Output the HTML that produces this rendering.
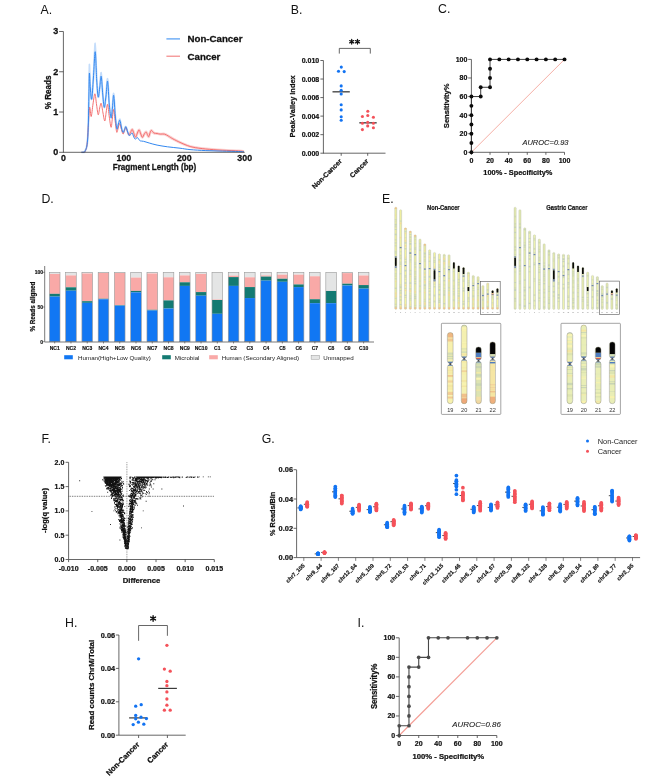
<!DOCTYPE html><html><head><meta charset="utf-8"><style>html,body{margin:0;padding:0;background:#fff;}svg{display:block;will-change:transform;}text{font-family:"Liberation Sans",sans-serif;}</style></head><body>
<svg width="669" height="781" viewBox="0 0 669 781">
<rect width="669" height="781" fill="#fff"/>
<text font-size="12.3" font-weight="normal" text-anchor="start" fill="#111" transform="translate(40.6 14.3) scale(1 1)" >A.</text>
<path d="M128.8,135.1 C129.08,134.67 129.93,133.45 130.5,132.5 C131.07,131.55 131.63,129.23 132.2,129.4 C132.77,129.57 133.33,132.2 133.9,133.5 C134.47,134.8 135.02,137.28 135.6,137.2 C136.18,137.12 136.82,134.22 137.4,133 C137.98,131.78 138.53,129.73 139.1,129.9 C139.67,130.07 140.25,132.75 140.8,134 C141.35,135.25 141.82,137.4 142.4,137.4 C142.98,137.4 143.68,134.9 144.3,134 C144.92,133.1 145.58,131.92 146.1,132 C146.62,132.08 146.97,133.72 147.4,134.5 C147.83,135.28 148.27,136.95 148.7,136.7 C149.13,136.45 149.57,134.05 150,133 C150.43,131.95 150.65,130.4 151.3,130.4 C151.95,130.4 152.93,132.48 153.9,133 C154.87,133.52 156.05,133.32 157.1,133.5 C158.15,133.68 158.98,134 160.2,134.1 C161.42,134.2 163,133.75 164.4,134.1 C165.8,134.45 167.2,135.42 168.6,136.2 C170,136.98 170.9,137.77 172.8,138.8 C174.7,139.83 177.8,141.37 180,142.4 C182.2,143.43 183.83,144.2 186,145 C188.17,145.8 189.7,146.53 193,147.2 C196.3,147.87 200.93,148.5 205.8,149 C210.67,149.5 216.72,149.88 222.2,150.2 C227.68,150.52 235.07,150.68 238.7,150.9 C242.33,151.12 243.12,151.4 244,151.5" fill="none" stroke="#F9C4C4" stroke-width="2.8" stroke-linejoin="round" opacity="0.8"/>
<path d="M81.5,152.3 C81.95,152.28 83.62,152.38 84.2,152.2 C84.78,152.02 84.62,151.98 85,151.2 C85.38,150.42 86.07,149.37 86.5,147.5 C86.93,145.63 87.28,144.25 87.6,140 C87.92,135.75 88.18,129.5 88.4,122 C88.62,114.5 88.73,104.6 88.9,95 C89.07,85.4 89.17,65.57 89.4,64.4 C89.63,63.23 89.92,82.22 90.3,88 C90.68,93.78 91.18,100.77 91.7,99.1 C92.22,97.43 92.82,87.3 93.4,78 C93.98,68.7 94.65,42.97 95.2,43.3 C95.75,43.63 96.2,71.05 96.7,80 C97.2,88.95 97.7,95.67 98.2,97 C98.7,98.33 99.2,92.05 99.7,88 C100.2,83.95 100.68,71.53 101.2,72.7 C101.72,73.87 102.28,89.22 102.8,95 C103.32,100.78 103.77,107.23 104.3,107.4 C104.83,107.57 105.45,100.78 106,96 C106.55,91.22 107.05,77.2 107.6,78.7 C108.15,80.2 108.72,98.47 109.3,105 C109.88,111.53 110.58,117.4 111.1,117.9 C111.62,118.4 111.97,112.08 112.4,108 C112.83,103.92 113.22,92.07 113.7,93.4 C114.18,94.73 114.77,110.08 115.3,116 C115.83,121.92 116.38,127.57 116.9,128.9 C117.42,130.23 117.9,125.63 118.4,124 C118.9,122.37 119.38,118.43 119.9,119.1 C120.42,119.77 120.97,125.78 121.5,128 C122.03,130.22 122.58,132.15 123.1,132.4 C123.62,132.65 124.13,130.45 124.6,129.5 C125.07,128.55 125.38,126.28 125.9,126.7 C126.42,127.12 127.12,130.52 127.7,132 C128.28,133.48 129.12,135 129.4,135.6" fill="none" stroke="#C4DDFB" stroke-width="1.6" stroke-linejoin="round"/>
<path d="M81.5,152.3 C81.95,152.28 83.62,152.38 84.2,152.2 C84.78,152.02 84.62,151.98 85,151.2 C85.38,150.42 86.07,149.37 86.5,147.5 C86.93,145.63 87.28,144.25 87.6,140 C87.92,135.75 88.18,129.5 88.4,122 C88.62,114.5 88.73,103.15 88.9,95 C89.07,86.85 89.17,74.27 89.4,73.1 C89.63,71.93 89.92,83.67 90.3,88 C90.68,92.33 91.18,100.77 91.7,99.1 C92.22,97.43 92.82,85.9 93.4,78 C93.98,70.1 94.65,51.37 95.2,51.7 C95.75,52.03 96.2,72.45 96.7,80 C97.2,87.55 97.7,95.67 98.2,97 C98.7,98.33 99.2,91.45 99.7,88 C100.2,84.55 100.68,75.13 101.2,76.3 C101.72,77.47 102.28,89.82 102.8,95 C103.32,100.18 103.77,107.23 104.3,107.4 C104.83,107.57 105.45,100.35 106,96 C106.55,91.65 107.05,79.8 107.6,81.3 C108.15,82.8 108.72,98.9 109.3,105 C109.88,111.1 110.58,117.4 111.1,117.9 C111.62,118.4 111.97,111.75 112.4,108 C112.83,104.25 113.22,94.07 113.7,95.4 C114.18,96.73 114.77,110.42 115.3,116 C115.83,121.58 116.38,127.57 116.9,128.9 C117.42,130.23 117.9,125.43 118.4,124 C118.9,122.57 119.38,119.63 119.9,120.3 C120.42,120.97 120.97,125.98 121.5,128 C122.03,130.02 122.58,132.15 123.1,132.4 C123.62,132.65 124.13,130.45 124.6,129.5 C125.07,128.55 125.38,126.28 125.9,126.7 C126.42,127.12 127.12,130.52 127.7,132 C128.28,133.48 129.12,135 129.4,135.6" fill="none" stroke="#C4DDFB" stroke-width="2.0" stroke-linejoin="round" opacity="0.8"/>
<path d="M81.5,152.3 C81.95,152.3 83.53,152.6 84.2,152.3 C84.87,152 85.03,151.72 85.5,150.5 C85.97,149.28 86.55,148.75 87,145 C87.45,141.25 87.77,134.27 88.2,128 C88.63,121.73 89.1,109.32 89.6,107.4 C90.1,105.48 90.63,117.07 91.2,116.5 C91.77,115.93 92.38,107.78 93,104 C93.62,100.22 94.3,93.63 94.9,93.8 C95.5,93.97 96.05,101.5 96.6,105 C97.15,108.5 97.68,114.3 98.2,114.8 C98.72,115.3 99.2,109.92 99.7,108 C100.2,106.08 100.65,102.47 101.2,103.3 C101.75,104.13 102.4,110.05 103,113 C103.6,115.95 104.27,121.17 104.8,121 C105.33,120.83 105.73,114.78 106.2,112 C106.67,109.22 107.08,103.47 107.6,104.3 C108.12,105.13 108.72,113.17 109.3,117 C109.88,120.83 110.58,127.13 111.1,127.3 C111.62,127.47 111.97,120.97 112.4,118 C112.83,115.03 113.22,108.83 113.7,109.5 C114.18,110.17 114.78,118.2 115.3,122 C115.82,125.8 116.28,131.47 116.8,132.3 C117.32,133.13 117.88,128.45 118.4,127 C118.92,125.55 119.38,123.18 119.9,123.6 C120.42,124.02 120.97,127.75 121.5,129.5 C122.03,131.25 122.6,133.93 123.1,134.1 C123.6,134.27 124.03,131.63 124.5,130.5 C124.97,129.37 125.42,127.13 125.9,127.3 C126.38,127.47 126.92,130.2 127.4,131.5 C127.88,132.8 128.28,134.93 128.8,135.1 C129.32,135.27 129.93,133.45 130.5,132.5 C131.07,131.55 131.63,129.23 132.2,129.4 C132.77,129.57 133.33,132.2 133.9,133.5 C134.47,134.8 135.02,137.28 135.6,137.2 C136.18,137.12 136.82,134.22 137.4,133 C137.98,131.78 138.53,129.73 139.1,129.9 C139.67,130.07 140.25,132.75 140.8,134 C141.35,135.25 141.82,137.4 142.4,137.4 C142.98,137.4 143.68,134.9 144.3,134 C144.92,133.1 145.58,131.92 146.1,132 C146.62,132.08 146.97,133.72 147.4,134.5 C147.83,135.28 148.27,136.95 148.7,136.7 C149.13,136.45 149.57,134.05 150,133 C150.43,131.95 150.65,130.4 151.3,130.4 C151.95,130.4 152.93,132.48 153.9,133 C154.87,133.52 156.05,133.32 157.1,133.5 C158.15,133.68 158.98,134 160.2,134.1 C161.42,134.2 163,133.75 164.4,134.1 C165.8,134.45 167.2,135.42 168.6,136.2 C170,136.98 170.9,137.77 172.8,138.8 C174.7,139.83 177.8,141.37 180,142.4 C182.2,143.43 183.83,144.2 186,145 C188.17,145.8 189.7,146.53 193,147.2 C196.3,147.87 200.93,148.5 205.8,149 C210.67,149.5 216.72,149.88 222.2,150.2 C227.68,150.52 235.07,150.68 238.7,150.9 C242.33,151.12 243.12,151.4 244,151.5" fill="none" stroke="#F26A6A" stroke-width="0.95" stroke-linejoin="round"/>
<path d="M81.5,152.3 C81.95,152.28 83.62,152.38 84.2,152.2 C84.78,152.02 84.62,151.98 85,151.2 C85.38,150.42 86.07,149.37 86.5,147.5 C86.93,145.63 87.28,144.25 87.6,140 C87.92,135.75 88.18,129.5 88.4,122 C88.62,114.5 88.73,103.15 88.9,95 C89.07,86.85 89.17,74.27 89.4,73.1 C89.63,71.93 89.92,83.67 90.3,88 C90.68,92.33 91.18,100.77 91.7,99.1 C92.22,97.43 92.82,85.9 93.4,78 C93.98,70.1 94.65,51.37 95.2,51.7 C95.75,52.03 96.2,72.45 96.7,80 C97.2,87.55 97.7,95.67 98.2,97 C98.7,98.33 99.2,91.45 99.7,88 C100.2,84.55 100.68,75.13 101.2,76.3 C101.72,77.47 102.28,89.82 102.8,95 C103.32,100.18 103.77,107.23 104.3,107.4 C104.83,107.57 105.45,100.35 106,96 C106.55,91.65 107.05,79.8 107.6,81.3 C108.15,82.8 108.72,98.9 109.3,105 C109.88,111.1 110.58,117.4 111.1,117.9 C111.62,118.4 111.97,111.75 112.4,108 C112.83,104.25 113.22,94.07 113.7,95.4 C114.18,96.73 114.77,110.42 115.3,116 C115.83,121.58 116.38,127.57 116.9,128.9 C117.42,130.23 117.9,125.43 118.4,124 C118.9,122.57 119.38,119.63 119.9,120.3 C120.42,120.97 120.97,125.98 121.5,128 C122.03,130.02 122.58,132.15 123.1,132.4 C123.62,132.65 124.13,130.45 124.6,129.5 C125.07,128.55 125.38,126.28 125.9,126.7 C126.42,127.12 127.12,130.52 127.7,132 C128.28,133.48 128.88,135.23 129.4,135.6 C129.92,135.97 130.33,134.63 130.8,134.2 C131.27,133.77 131.72,132.57 132.2,133 C132.68,133.43 133.22,135.77 133.7,136.8 C134.18,137.83 134.65,138.97 135.1,139.2 C135.55,139.43 135.97,138.45 136.4,138.2 C136.83,137.95 137.27,137.47 137.7,137.7 C138.13,137.93 138.57,139.07 139,139.6 C139.43,140.13 139.55,140.62 140.3,140.9 C141.05,141.18 142.02,140.95 143.5,141.3 C144.98,141.65 146.93,142.37 149.2,143 C151.47,143.63 154.05,144.47 157.1,145.1 C160.15,145.73 163.68,146.28 167.5,146.8 C171.32,147.32 176.25,147.73 180,148.2 C183.75,148.67 185.7,149.2 190,149.6 C194.3,150 200.43,150.35 205.8,150.6 C211.17,150.85 216.72,150.95 222.2,151.1 C227.68,151.25 235.07,151.38 238.7,151.5 C242.33,151.62 243.12,151.75 244,151.8" fill="none" stroke="#3388F0" stroke-width="1.0" stroke-linejoin="round"/>
<line x1="63.4" y1="31.5" x2="63.4" y2="152.3" stroke="#404040" stroke-width="0.8" />
<line x1="63" y1="152.3" x2="244.7" y2="152.3" stroke="#404040" stroke-width="0.8" />
<line x1="59.1" y1="152.3" x2="63.4" y2="152.3" stroke="#404040" stroke-width="0.8" />
<text font-size="9" font-weight="bold" text-anchor="end" fill="#111" transform="translate(58.2 155.2) scale(1 1.05)"  stroke="#111" stroke-width="0.27">0</text>
<line x1="59.1" y1="112.03" x2="63.4" y2="112.03" stroke="#404040" stroke-width="0.8" />
<text font-size="9" font-weight="bold" text-anchor="end" fill="#111" transform="translate(58.2 114.93) scale(1 1.05)"  stroke="#111" stroke-width="0.27">1</text>
<line x1="59.1" y1="71.76" x2="63.4" y2="71.76" stroke="#404040" stroke-width="0.8" />
<text font-size="9" font-weight="bold" text-anchor="end" fill="#111" transform="translate(58.2 74.66) scale(1 1.05)"  stroke="#111" stroke-width="0.27">2</text>
<line x1="59.1" y1="31.49" x2="63.4" y2="31.49" stroke="#404040" stroke-width="0.8" />
<text font-size="9" font-weight="bold" text-anchor="end" fill="#111" transform="translate(58.2 34.39) scale(1 1.05)"  stroke="#111" stroke-width="0.27">3</text>
<text font-size="8.8" font-weight="bold" text-anchor="middle" fill="#111" transform="translate(63.5 161.2) scale(1 1)"  stroke="#111" stroke-width="0.26">0</text>
<text font-size="8.8" font-weight="bold" text-anchor="middle" fill="#111" transform="translate(123.9 161.2) scale(1 1)"  stroke="#111" stroke-width="0.26">100</text>
<text font-size="8.8" font-weight="bold" text-anchor="middle" fill="#111" transform="translate(184.3 161.2) scale(1 1)"  stroke="#111" stroke-width="0.26">200</text>
<text font-size="8.8" font-weight="bold" text-anchor="middle" fill="#111" transform="translate(244.7 161.2) scale(1 1)"  stroke="#111" stroke-width="0.26">300</text>
<text font-size="8.1" font-weight="bold" text-anchor="middle" fill="#111" transform="translate(154.5 169.7) scale(1 1.12)"  stroke="#111" stroke-width="0.24">Fragment Length (bp)</text>
<text font-size="8.1" font-weight="bold" text-anchor="middle" fill="#111" transform="translate(50.9 92.4) rotate(-90) scale(1 1.18)"  stroke="#111" stroke-width="0.24">% Reads</text>
<line x1="166.4" y1="38.9" x2="180" y2="38.9" stroke="#5BA2F5" stroke-width="1.3" />
<line x1="166.4" y1="56.2" x2="180" y2="56.2" stroke="#F27C7C" stroke-width="1.1" />
<text font-size="9.7" font-weight="bold" text-anchor="start" fill="#111" transform="translate(187.5 42.2) scale(1 1)"  stroke="#111" stroke-width="0.29">Non-Cancer</text>
<text font-size="9.7" font-weight="bold" text-anchor="start" fill="#111" transform="translate(187.5 60) scale(1 1)"  stroke="#111" stroke-width="0.29">Cancer</text>
<text font-size="12.3" font-weight="normal" text-anchor="start" fill="#111" transform="translate(290.8 13.5) scale(1 1)" >B.</text>
<line x1="323.4" y1="60.5" x2="323.4" y2="153.2" stroke="#404040" stroke-width="0.8" />
<line x1="323" y1="153.2" x2="385.5" y2="153.2" stroke="#404040" stroke-width="0.8" />
<line x1="320.4" y1="153.2" x2="323.4" y2="153.2" stroke="#404040" stroke-width="0.8" />
<text font-size="7" font-weight="bold" text-anchor="end" fill="#111" transform="translate(319.2 155.7) scale(1 1)"  stroke="#111" stroke-width="0.21">0.000</text>
<line x1="320.4" y1="134.66" x2="323.4" y2="134.66" stroke="#404040" stroke-width="0.8" />
<text font-size="7" font-weight="bold" text-anchor="end" fill="#111" transform="translate(319.2 137.16) scale(1 1)"  stroke="#111" stroke-width="0.21">0.002</text>
<line x1="320.4" y1="116.12" x2="323.4" y2="116.12" stroke="#404040" stroke-width="0.8" />
<text font-size="7" font-weight="bold" text-anchor="end" fill="#111" transform="translate(319.2 118.62) scale(1 1)"  stroke="#111" stroke-width="0.21">0.004</text>
<line x1="320.4" y1="97.58" x2="323.4" y2="97.58" stroke="#404040" stroke-width="0.8" />
<text font-size="7" font-weight="bold" text-anchor="end" fill="#111" transform="translate(319.2 100.08) scale(1 1)"  stroke="#111" stroke-width="0.21">0.006</text>
<line x1="320.4" y1="79.04" x2="323.4" y2="79.04" stroke="#404040" stroke-width="0.8" />
<text font-size="7" font-weight="bold" text-anchor="end" fill="#111" transform="translate(319.2 81.54) scale(1 1)"  stroke="#111" stroke-width="0.21">0.008</text>
<line x1="320.4" y1="60.5" x2="323.4" y2="60.5" stroke="#404040" stroke-width="0.8" />
<text font-size="7" font-weight="bold" text-anchor="end" fill="#111" transform="translate(319.2 63) scale(1 1)"  stroke="#111" stroke-width="0.21">0.010</text>
<line x1="341.2" y1="153.2" x2="341.2" y2="155.8" stroke="#404040" stroke-width="0.8" />
<line x1="367.7" y1="153.2" x2="367.7" y2="155.8" stroke="#404040" stroke-width="0.8" />
<path d="M339.3,53.6 V48.4 H370.3 V53.6" fill="none" stroke="#404040" stroke-width="0.8"/>
<path d="M351.7,39.4 L351.7,44 M349.71,40.55 L353.69,42.85 M349.71,42.85 L353.69,40.55 " stroke="#111" stroke-width="1.25" stroke-linecap="round"/>
<path d="M357.5,39.4 L357.5,44 M355.51,40.55 L359.49,42.85 M355.51,42.85 L359.49,40.55 " stroke="#111" stroke-width="1.25" stroke-linecap="round"/>
<line x1="332.5" y1="91.8" x2="349.8" y2="91.8" stroke="#505050" stroke-width="1.45" />
<line x1="359.3" y1="122.8" x2="376.7" y2="122.8" stroke="#505050" stroke-width="1.45" />
<circle cx="341.3" cy="67.1" r="1.55" fill="#1273F2"/>
<circle cx="338.5" cy="71.2" r="1.55" fill="#1273F2"/>
<circle cx="344.2" cy="71.6" r="1.55" fill="#1273F2"/>
<circle cx="341.2" cy="85.9" r="1.55" fill="#1273F2"/>
<circle cx="341.2" cy="90.2" r="1.55" fill="#1273F2"/>
<circle cx="341.2" cy="94" r="1.55" fill="#1273F2"/>
<circle cx="341.2" cy="104.7" r="1.55" fill="#1273F2"/>
<circle cx="341.2" cy="109.9" r="1.55" fill="#1273F2"/>
<circle cx="341.2" cy="116.8" r="1.55" fill="#1273F2"/>
<circle cx="341.2" cy="120.3" r="1.55" fill="#1273F2"/>
<circle cx="367.8" cy="111.2" r="1.55" fill="#F4525A"/>
<circle cx="362.4" cy="116.5" r="1.55" fill="#F4525A"/>
<circle cx="367.8" cy="115.5" r="1.55" fill="#F4525A"/>
<circle cx="373.4" cy="117.3" r="1.55" fill="#F4525A"/>
<circle cx="362.4" cy="123.3" r="1.55" fill="#F4525A"/>
<circle cx="367.7" cy="122.2" r="1.55" fill="#F4525A"/>
<circle cx="373.4" cy="123.3" r="1.55" fill="#F4525A"/>
<circle cx="367.7" cy="125.9" r="1.55" fill="#F4525A"/>
<circle cx="373.4" cy="127.7" r="1.55" fill="#F4525A"/>
<circle cx="362.4" cy="129.6" r="1.55" fill="#F4525A"/>
<text font-size="6.9" font-weight="bold" text-anchor="end" fill="#111" transform="translate(342.4 161.6) rotate(-45) scale(1 1)"  stroke="#111" stroke-width="0.21">Non-Cancer</text>
<text font-size="6.9" font-weight="bold" text-anchor="end" fill="#111" transform="translate(369 161.6) rotate(-45) scale(1 1)"  stroke="#111" stroke-width="0.21">Cancer</text>
<text font-size="7.4" font-weight="bold" text-anchor="middle" fill="#111" transform="translate(295.3 106.4) rotate(-90) scale(1 1)"  stroke="#111" stroke-width="0.22">Peak-Valley Index</text>
<text font-size="12.3" font-weight="normal" text-anchor="start" fill="#111" transform="translate(438 12.6) scale(1 1)" >C.</text>
<line x1="471.4" y1="59.4" x2="471.4" y2="152.3" stroke="#404040" stroke-width="0.8" />
<line x1="471.4" y1="152.3" x2="564.5" y2="152.3" stroke="#404040" stroke-width="0.8" />
<line x1="468.2" y1="152.3" x2="471.4" y2="152.3" stroke="#404040" stroke-width="0.8" />
<text font-size="7" font-weight="bold" text-anchor="end" fill="#111" transform="translate(467.4 154.8) scale(1 1)"  stroke="#111" stroke-width="0.21">0</text>
<line x1="471.4" y1="152.3" x2="471.4" y2="154.8" stroke="#404040" stroke-width="0.8" />
<text font-size="7" font-weight="bold" text-anchor="middle" fill="#111" transform="translate(471.4 162.6) scale(1 1)"  stroke="#111" stroke-width="0.21">0</text>
<line x1="468.2" y1="133.72" x2="471.4" y2="133.72" stroke="#404040" stroke-width="0.8" />
<text font-size="7" font-weight="bold" text-anchor="end" fill="#111" transform="translate(467.4 136.22) scale(1 1)"  stroke="#111" stroke-width="0.21">20</text>
<line x1="490.02" y1="152.3" x2="490.02" y2="154.8" stroke="#404040" stroke-width="0.8" />
<text font-size="7" font-weight="bold" text-anchor="middle" fill="#111" transform="translate(490.02 162.6) scale(1 1)"  stroke="#111" stroke-width="0.21">20</text>
<line x1="468.2" y1="115.14" x2="471.4" y2="115.14" stroke="#404040" stroke-width="0.8" />
<text font-size="7" font-weight="bold" text-anchor="end" fill="#111" transform="translate(467.4 117.64) scale(1 1)"  stroke="#111" stroke-width="0.21">40</text>
<line x1="508.64" y1="152.3" x2="508.64" y2="154.8" stroke="#404040" stroke-width="0.8" />
<text font-size="7" font-weight="bold" text-anchor="middle" fill="#111" transform="translate(508.64 162.6) scale(1 1)"  stroke="#111" stroke-width="0.21">40</text>
<line x1="468.2" y1="96.56" x2="471.4" y2="96.56" stroke="#404040" stroke-width="0.8" />
<text font-size="7" font-weight="bold" text-anchor="end" fill="#111" transform="translate(467.4 99.06) scale(1 1)"  stroke="#111" stroke-width="0.21">60</text>
<line x1="527.26" y1="152.3" x2="527.26" y2="154.8" stroke="#404040" stroke-width="0.8" />
<text font-size="7" font-weight="bold" text-anchor="middle" fill="#111" transform="translate(527.26 162.6) scale(1 1)"  stroke="#111" stroke-width="0.21">60</text>
<line x1="468.2" y1="77.98" x2="471.4" y2="77.98" stroke="#404040" stroke-width="0.8" />
<text font-size="7" font-weight="bold" text-anchor="end" fill="#111" transform="translate(467.4 80.48) scale(1 1)"  stroke="#111" stroke-width="0.21">80</text>
<line x1="545.88" y1="152.3" x2="545.88" y2="154.8" stroke="#404040" stroke-width="0.8" />
<text font-size="7" font-weight="bold" text-anchor="middle" fill="#111" transform="translate(545.88 162.6) scale(1 1)"  stroke="#111" stroke-width="0.21">80</text>
<line x1="468.2" y1="59.4" x2="471.4" y2="59.4" stroke="#404040" stroke-width="0.8" />
<text font-size="7" font-weight="bold" text-anchor="end" fill="#111" transform="translate(467.4 61.9) scale(1 1)"  stroke="#111" stroke-width="0.21">100</text>
<line x1="564.5" y1="152.3" x2="564.5" y2="154.8" stroke="#404040" stroke-width="0.8" />
<text font-size="7" font-weight="bold" text-anchor="middle" fill="#111" transform="translate(564.5 162.6) scale(1 1)"  stroke="#111" stroke-width="0.21">100</text>
<line x1="471.4" y1="152.3" x2="564.5" y2="59.4" stroke="#F3A096" stroke-width="0.85" />
<polyline points="471.4,152.3 471.4,96.56 480.71,96.56 480.71,87.27 490.02,87.27 490.02,59.4 564.5,59.4" fill="none" stroke="#333" stroke-width="0.95"/>
<circle cx="471.4" cy="152.3" r="1.95" fill="#0a0a0a"/>
<circle cx="471.4" cy="143.01" r="1.95" fill="#0a0a0a"/>
<circle cx="471.4" cy="133.72" r="1.95" fill="#0a0a0a"/>
<circle cx="471.4" cy="124.43" r="1.95" fill="#0a0a0a"/>
<circle cx="471.4" cy="115.14" r="1.95" fill="#0a0a0a"/>
<circle cx="471.4" cy="105.85" r="1.95" fill="#0a0a0a"/>
<circle cx="471.4" cy="96.56" r="1.95" fill="#0a0a0a"/>
<circle cx="480.71" cy="96.56" r="1.95" fill="#0a0a0a"/>
<circle cx="480.71" cy="87.27" r="1.95" fill="#0a0a0a"/>
<circle cx="490.02" cy="87.27" r="1.95" fill="#0a0a0a"/>
<circle cx="490.02" cy="77.98" r="1.95" fill="#0a0a0a"/>
<circle cx="490.02" cy="68.69" r="1.95" fill="#0a0a0a"/>
<circle cx="490.02" cy="59.4" r="1.95" fill="#0a0a0a"/>
<circle cx="499.33" cy="59.4" r="1.95" fill="#0a0a0a"/>
<circle cx="508.64" cy="59.4" r="1.95" fill="#0a0a0a"/>
<circle cx="517.95" cy="59.4" r="1.95" fill="#0a0a0a"/>
<circle cx="527.26" cy="59.4" r="1.95" fill="#0a0a0a"/>
<circle cx="536.57" cy="59.4" r="1.95" fill="#0a0a0a"/>
<circle cx="545.88" cy="59.4" r="1.95" fill="#0a0a0a"/>
<circle cx="555.19" cy="59.4" r="1.95" fill="#0a0a0a"/>
<circle cx="564.5" cy="59.4" r="1.95" fill="#0a0a0a"/>
<text font-size="7.4" font-weight="bold" text-anchor="middle" fill="#111" transform="translate(517.8 174.8) scale(1 1)"  stroke="#111" stroke-width="0.22">100% - Specificity%</text>
<text font-size="7.6" font-weight="bold" text-anchor="middle" fill="#111" transform="translate(449.2 105.8) rotate(-90) scale(1 1)"  stroke="#111" stroke-width="0.23">Sensitivity%</text>
<text font-size="7.5" font-weight="normal" text-anchor="end" fill="#222" font-style="italic" transform="translate(568.5 144.7) scale(1 1)" stroke="#222" stroke-width="0.12">AUROC=0.93</text>
<text font-size="12.3" font-weight="normal" text-anchor="start" fill="#111" transform="translate(41.4 202.9) scale(1 1)" >D.</text>
<rect x="49.4" y="272.3" width="10.6" height="1.67" fill="#E4E5E5" stroke="none" stroke-width="0" />
<rect x="49.4" y="273.97" width="10.6" height="19.85" fill="#F9A9A7" stroke="none" stroke-width="0" />
<rect x="49.4" y="293.81" width="10.6" height="2.78" fill="#137A72" stroke="none" stroke-width="0" />
<rect x="49.4" y="296.59" width="10.6" height="45.11" fill="#1177F3" stroke="none" stroke-width="0" />
<rect x="49.4" y="272.3" width="10.6" height="69.4" fill="none" stroke="#9A9A9A" stroke-width="0.6" />
<line x1="54.7" y1="341.7" x2="54.7" y2="343.5" stroke="#404040" stroke-width="0.6" />
<text font-size="5" font-weight="bold" text-anchor="middle" fill="#111" transform="translate(54.7 350.2) scale(1 1)"  stroke="#111" stroke-width="0.15">NC1</text>
<rect x="65.66" y="272.3" width="10.6" height="3.12" fill="#E4E5E5" stroke="none" stroke-width="0" />
<rect x="65.66" y="275.42" width="10.6" height="11.87" fill="#F9A9A7" stroke="none" stroke-width="0" />
<rect x="65.66" y="287.29" width="10.6" height="3.4" fill="#137A72" stroke="none" stroke-width="0" />
<rect x="65.66" y="290.69" width="10.6" height="51.01" fill="#1177F3" stroke="none" stroke-width="0" />
<rect x="65.66" y="272.3" width="10.6" height="69.4" fill="none" stroke="#9A9A9A" stroke-width="0.6" />
<line x1="70.96" y1="341.7" x2="70.96" y2="343.5" stroke="#404040" stroke-width="0.6" />
<text font-size="5" font-weight="bold" text-anchor="middle" fill="#111" transform="translate(70.96 350.2) scale(1 1)"  stroke="#111" stroke-width="0.15">NC2</text>
<rect x="81.92" y="272.3" width="10.6" height="1.18" fill="#E4E5E5" stroke="none" stroke-width="0" />
<rect x="81.92" y="273.48" width="10.6" height="27.69" fill="#F9A9A7" stroke="none" stroke-width="0" />
<rect x="81.92" y="301.17" width="10.6" height="1.67" fill="#137A72" stroke="none" stroke-width="0" />
<rect x="81.92" y="302.84" width="10.6" height="38.86" fill="#1177F3" stroke="none" stroke-width="0" />
<rect x="81.92" y="272.3" width="10.6" height="69.4" fill="none" stroke="#9A9A9A" stroke-width="0.6" />
<line x1="87.22" y1="341.7" x2="87.22" y2="343.5" stroke="#404040" stroke-width="0.6" />
<text font-size="5" font-weight="bold" text-anchor="middle" fill="#111" transform="translate(87.22 350.2) scale(1 1)"  stroke="#111" stroke-width="0.15">NC3</text>
<rect x="98.18" y="272.3" width="10.6" height="0.69" fill="#E4E5E5" stroke="none" stroke-width="0" />
<rect x="98.18" y="272.99" width="10.6" height="25.75" fill="#F9A9A7" stroke="none" stroke-width="0" />
<rect x="98.18" y="298.74" width="10.6" height="0.49" fill="#137A72" stroke="none" stroke-width="0" />
<rect x="98.18" y="299.23" width="10.6" height="42.47" fill="#1177F3" stroke="none" stroke-width="0" />
<rect x="98.18" y="272.3" width="10.6" height="69.4" fill="none" stroke="#9A9A9A" stroke-width="0.6" />
<line x1="103.48" y1="341.7" x2="103.48" y2="343.5" stroke="#404040" stroke-width="0.6" />
<text font-size="5" font-weight="bold" text-anchor="middle" fill="#111" transform="translate(103.48 350.2) scale(1 1)"  stroke="#111" stroke-width="0.15">NC4</text>
<rect x="114.44" y="272.3" width="10.6" height="0.69" fill="#E4E5E5" stroke="none" stroke-width="0" />
<rect x="114.44" y="272.99" width="10.6" height="32.2" fill="#F9A9A7" stroke="none" stroke-width="0" />
<rect x="114.44" y="305.2" width="10.6" height="0.49" fill="#137A72" stroke="none" stroke-width="0" />
<rect x="114.44" y="305.68" width="10.6" height="36.02" fill="#1177F3" stroke="none" stroke-width="0" />
<rect x="114.44" y="272.3" width="10.6" height="69.4" fill="none" stroke="#9A9A9A" stroke-width="0.6" />
<line x1="119.74" y1="341.7" x2="119.74" y2="343.5" stroke="#404040" stroke-width="0.6" />
<text font-size="5" font-weight="bold" text-anchor="middle" fill="#111" transform="translate(119.74 350.2) scale(1 1)"  stroke="#111" stroke-width="0.15">NC5</text>
<rect x="130.7" y="272.3" width="10.6" height="5.27" fill="#E4E5E5" stroke="none" stroke-width="0" />
<rect x="130.7" y="277.57" width="10.6" height="13.32" fill="#F9A9A7" stroke="none" stroke-width="0" />
<rect x="130.7" y="290.9" width="10.6" height="1.46" fill="#137A72" stroke="none" stroke-width="0" />
<rect x="130.7" y="292.36" width="10.6" height="49.34" fill="#1177F3" stroke="none" stroke-width="0" />
<rect x="130.7" y="272.3" width="10.6" height="69.4" fill="none" stroke="#9A9A9A" stroke-width="0.6" />
<line x1="136" y1="341.7" x2="136" y2="343.5" stroke="#404040" stroke-width="0.6" />
<text font-size="5" font-weight="bold" text-anchor="middle" fill="#111" transform="translate(136 350.2) scale(1 1)"  stroke="#111" stroke-width="0.15">NC6</text>
<rect x="146.96" y="272.3" width="10.6" height="1.18" fill="#E4E5E5" stroke="none" stroke-width="0" />
<rect x="146.96" y="273.48" width="10.6" height="36.3" fill="#F9A9A7" stroke="none" stroke-width="0" />
<rect x="146.96" y="309.78" width="10.6" height="0.69" fill="#137A72" stroke="none" stroke-width="0" />
<rect x="146.96" y="310.47" width="10.6" height="31.23" fill="#1177F3" stroke="none" stroke-width="0" />
<rect x="146.96" y="272.3" width="10.6" height="69.4" fill="none" stroke="#9A9A9A" stroke-width="0.6" />
<line x1="152.26" y1="341.7" x2="152.26" y2="343.5" stroke="#404040" stroke-width="0.6" />
<text font-size="5" font-weight="bold" text-anchor="middle" fill="#111" transform="translate(152.26 350.2) scale(1 1)"  stroke="#111" stroke-width="0.15">NC7</text>
<rect x="163.22" y="272.3" width="10.6" height="5" fill="#E4E5E5" stroke="none" stroke-width="0" />
<rect x="163.22" y="277.3" width="10.6" height="23.11" fill="#F9A9A7" stroke="none" stroke-width="0" />
<rect x="163.22" y="300.41" width="10.6" height="8.12" fill="#137A72" stroke="none" stroke-width="0" />
<rect x="163.22" y="308.53" width="10.6" height="33.17" fill="#1177F3" stroke="none" stroke-width="0" />
<rect x="163.22" y="272.3" width="10.6" height="69.4" fill="none" stroke="#9A9A9A" stroke-width="0.6" />
<line x1="168.52" y1="341.7" x2="168.52" y2="343.5" stroke="#404040" stroke-width="0.6" />
<text font-size="5" font-weight="bold" text-anchor="middle" fill="#111" transform="translate(168.52 350.2) scale(1 1)"  stroke="#111" stroke-width="0.15">NC8</text>
<rect x="179.48" y="272.3" width="10.6" height="3.12" fill="#E4E5E5" stroke="none" stroke-width="0" />
<rect x="179.48" y="275.42" width="10.6" height="6.87" fill="#F9A9A7" stroke="none" stroke-width="0" />
<rect x="179.48" y="282.29" width="10.6" height="3.61" fill="#137A72" stroke="none" stroke-width="0" />
<rect x="179.48" y="285.9" width="10.6" height="55.8" fill="#1177F3" stroke="none" stroke-width="0" />
<rect x="179.48" y="272.3" width="10.6" height="69.4" fill="none" stroke="#9A9A9A" stroke-width="0.6" />
<line x1="184.78" y1="341.7" x2="184.78" y2="343.5" stroke="#404040" stroke-width="0.6" />
<text font-size="5" font-weight="bold" text-anchor="middle" fill="#111" transform="translate(184.78 350.2) scale(1 1)"  stroke="#111" stroke-width="0.15">NC9</text>
<rect x="195.74" y="272.3" width="10.6" height="1.67" fill="#E4E5E5" stroke="none" stroke-width="0" />
<rect x="195.74" y="273.97" width="10.6" height="18.11" fill="#F9A9A7" stroke="none" stroke-width="0" />
<rect x="195.74" y="292.08" width="10.6" height="3.61" fill="#137A72" stroke="none" stroke-width="0" />
<rect x="195.74" y="295.69" width="10.6" height="46.01" fill="#1177F3" stroke="none" stroke-width="0" />
<rect x="195.74" y="272.3" width="10.6" height="69.4" fill="none" stroke="#9A9A9A" stroke-width="0.6" />
<line x1="201.04" y1="341.7" x2="201.04" y2="343.5" stroke="#404040" stroke-width="0.6" />
<text font-size="5" font-weight="bold" text-anchor="middle" fill="#111" transform="translate(201.04 350.2) scale(1 1)"  stroke="#111" stroke-width="0.15">NC10</text>
<rect x="212" y="272.3" width="10.6" height="27.2" fill="#E4E5E5" stroke="none" stroke-width="0" />
<rect x="212" y="299.5" width="10.6" height="0.49" fill="#F9A9A7" stroke="none" stroke-width="0" />
<rect x="212" y="299.99" width="10.6" height="13.81" fill="#137A72" stroke="none" stroke-width="0" />
<rect x="212" y="313.8" width="10.6" height="27.9" fill="#1177F3" stroke="none" stroke-width="0" />
<rect x="212" y="272.3" width="10.6" height="69.4" fill="none" stroke="#9A9A9A" stroke-width="0.6" />
<line x1="217.3" y1="341.7" x2="217.3" y2="343.5" stroke="#404040" stroke-width="0.6" />
<text font-size="5" font-weight="bold" text-anchor="middle" fill="#111" transform="translate(217.3 350.2) scale(1 1)"  stroke="#111" stroke-width="0.15">C1</text>
<rect x="228.26" y="272.3" width="10.6" height="3.33" fill="#E4E5E5" stroke="none" stroke-width="0" />
<rect x="228.26" y="275.63" width="10.6" height="1.46" fill="#F9A9A7" stroke="none" stroke-width="0" />
<rect x="228.26" y="277.09" width="10.6" height="8.81" fill="#137A72" stroke="none" stroke-width="0" />
<rect x="228.26" y="285.9" width="10.6" height="55.8" fill="#1177F3" stroke="none" stroke-width="0" />
<rect x="228.26" y="272.3" width="10.6" height="69.4" fill="none" stroke="#9A9A9A" stroke-width="0.6" />
<line x1="233.56" y1="341.7" x2="233.56" y2="343.5" stroke="#404040" stroke-width="0.6" />
<text font-size="5" font-weight="bold" text-anchor="middle" fill="#111" transform="translate(233.56 350.2) scale(1 1)"  stroke="#111" stroke-width="0.15">C2</text>
<rect x="244.52" y="272.3" width="10.6" height="5" fill="#E4E5E5" stroke="none" stroke-width="0" />
<rect x="244.52" y="277.3" width="10.6" height="9.79" fill="#F9A9A7" stroke="none" stroke-width="0" />
<rect x="244.52" y="287.08" width="10.6" height="10.97" fill="#137A72" stroke="none" stroke-width="0" />
<rect x="244.52" y="298.05" width="10.6" height="43.65" fill="#1177F3" stroke="none" stroke-width="0" />
<rect x="244.52" y="272.3" width="10.6" height="69.4" fill="none" stroke="#9A9A9A" stroke-width="0.6" />
<line x1="249.82" y1="341.7" x2="249.82" y2="343.5" stroke="#404040" stroke-width="0.6" />
<text font-size="5" font-weight="bold" text-anchor="middle" fill="#111" transform="translate(249.82 350.2) scale(1 1)"  stroke="#111" stroke-width="0.15">C3</text>
<rect x="260.78" y="272.3" width="10.6" height="3.12" fill="#E4E5E5" stroke="none" stroke-width="0" />
<rect x="260.78" y="275.42" width="10.6" height="1.18" fill="#F9A9A7" stroke="none" stroke-width="0" />
<rect x="260.78" y="276.6" width="10.6" height="4.03" fill="#137A72" stroke="none" stroke-width="0" />
<rect x="260.78" y="280.63" width="10.6" height="61.07" fill="#1177F3" stroke="none" stroke-width="0" />
<rect x="260.78" y="272.3" width="10.6" height="69.4" fill="none" stroke="#9A9A9A" stroke-width="0.6" />
<line x1="266.08" y1="341.7" x2="266.08" y2="343.5" stroke="#404040" stroke-width="0.6" />
<text font-size="5" font-weight="bold" text-anchor="middle" fill="#111" transform="translate(266.08 350.2) scale(1 1)"  stroke="#111" stroke-width="0.15">C4</text>
<rect x="277.04" y="272.3" width="10.6" height="2.36" fill="#E4E5E5" stroke="none" stroke-width="0" />
<rect x="277.04" y="274.66" width="10.6" height="4.09" fill="#F9A9A7" stroke="none" stroke-width="0" />
<rect x="277.04" y="278.75" width="10.6" height="3.05" fill="#137A72" stroke="none" stroke-width="0" />
<rect x="277.04" y="281.81" width="10.6" height="59.89" fill="#1177F3" stroke="none" stroke-width="0" />
<rect x="277.04" y="272.3" width="10.6" height="69.4" fill="none" stroke="#9A9A9A" stroke-width="0.6" />
<line x1="282.34" y1="341.7" x2="282.34" y2="343.5" stroke="#404040" stroke-width="0.6" />
<text font-size="5" font-weight="bold" text-anchor="middle" fill="#111" transform="translate(282.34 350.2) scale(1 1)"  stroke="#111" stroke-width="0.15">C5</text>
<rect x="293.3" y="272.3" width="10.6" height="2.36" fill="#E4E5E5" stroke="none" stroke-width="0" />
<rect x="293.3" y="274.66" width="10.6" height="9.79" fill="#F9A9A7" stroke="none" stroke-width="0" />
<rect x="293.3" y="284.44" width="10.6" height="2.64" fill="#137A72" stroke="none" stroke-width="0" />
<rect x="293.3" y="287.08" width="10.6" height="54.62" fill="#1177F3" stroke="none" stroke-width="0" />
<rect x="293.3" y="272.3" width="10.6" height="69.4" fill="none" stroke="#9A9A9A" stroke-width="0.6" />
<line x1="298.6" y1="341.7" x2="298.6" y2="343.5" stroke="#404040" stroke-width="0.6" />
<text font-size="5" font-weight="bold" text-anchor="middle" fill="#111" transform="translate(298.6 350.2) scale(1 1)"  stroke="#111" stroke-width="0.15">C6</text>
<rect x="309.56" y="272.3" width="10.6" height="3.96" fill="#E4E5E5" stroke="none" stroke-width="0" />
<rect x="309.56" y="276.26" width="10.6" height="22.97" fill="#F9A9A7" stroke="none" stroke-width="0" />
<rect x="309.56" y="299.23" width="10.6" height="3.96" fill="#137A72" stroke="none" stroke-width="0" />
<rect x="309.56" y="303.18" width="10.6" height="38.52" fill="#1177F3" stroke="none" stroke-width="0" />
<rect x="309.56" y="272.3" width="10.6" height="69.4" fill="none" stroke="#9A9A9A" stroke-width="0.6" />
<line x1="314.86" y1="341.7" x2="314.86" y2="343.5" stroke="#404040" stroke-width="0.6" />
<text font-size="5" font-weight="bold" text-anchor="middle" fill="#111" transform="translate(314.86 350.2) scale(1 1)"  stroke="#111" stroke-width="0.15">C7</text>
<rect x="325.82" y="272.3" width="10.6" height="18.6" fill="#E4E5E5" stroke="none" stroke-width="0" />
<rect x="325.82" y="290.9" width="10.6" height="0.07" fill="#F9A9A7" stroke="none" stroke-width="0" />
<rect x="325.82" y="290.97" width="10.6" height="12.21" fill="#137A72" stroke="none" stroke-width="0" />
<rect x="325.82" y="303.18" width="10.6" height="38.52" fill="#1177F3" stroke="none" stroke-width="0" />
<rect x="325.82" y="272.3" width="10.6" height="69.4" fill="none" stroke="#9A9A9A" stroke-width="0.6" />
<line x1="331.12" y1="341.7" x2="331.12" y2="343.5" stroke="#404040" stroke-width="0.6" />
<text font-size="5" font-weight="bold" text-anchor="middle" fill="#111" transform="translate(331.12 350.2) scale(1 1)"  stroke="#111" stroke-width="0.15">C8</text>
<rect x="342.08" y="272.3" width="10.6" height="0.83" fill="#E4E5E5" stroke="none" stroke-width="0" />
<rect x="342.08" y="273.13" width="10.6" height="10.55" fill="#F9A9A7" stroke="none" stroke-width="0" />
<rect x="342.08" y="283.68" width="10.6" height="1.8" fill="#137A72" stroke="none" stroke-width="0" />
<rect x="342.08" y="285.49" width="10.6" height="56.21" fill="#1177F3" stroke="none" stroke-width="0" />
<rect x="342.08" y="272.3" width="10.6" height="69.4" fill="none" stroke="#9A9A9A" stroke-width="0.6" />
<line x1="347.38" y1="341.7" x2="347.38" y2="343.5" stroke="#404040" stroke-width="0.6" />
<text font-size="5" font-weight="bold" text-anchor="middle" fill="#111" transform="translate(347.38 350.2) scale(1 1)"  stroke="#111" stroke-width="0.15">C9</text>
<rect x="358.34" y="272.3" width="10.6" height="3.19" fill="#E4E5E5" stroke="none" stroke-width="0" />
<rect x="358.34" y="275.49" width="10.6" height="9.58" fill="#F9A9A7" stroke="none" stroke-width="0" />
<rect x="358.34" y="285.07" width="10.6" height="3.54" fill="#137A72" stroke="none" stroke-width="0" />
<rect x="358.34" y="288.61" width="10.6" height="53.09" fill="#1177F3" stroke="none" stroke-width="0" />
<rect x="358.34" y="272.3" width="10.6" height="69.4" fill="none" stroke="#9A9A9A" stroke-width="0.6" />
<line x1="363.64" y1="341.7" x2="363.64" y2="343.5" stroke="#404040" stroke-width="0.6" />
<text font-size="5" font-weight="bold" text-anchor="middle" fill="#111" transform="translate(363.64 350.2) scale(1 1)"  stroke="#111" stroke-width="0.15">C10</text>
<line x1="44.7" y1="266" x2="44.7" y2="341.7" stroke="#404040" stroke-width="0.7" />
<line x1="44.7" y1="342" x2="374" y2="342" stroke="#404040" stroke-width="0.7" />
<line x1="42.9" y1="341.7" x2="44.7" y2="341.7" stroke="#404040" stroke-width="0.6" />
<text font-size="5" font-weight="bold" text-anchor="end" fill="#111" transform="translate(43 343.5) scale(1 1)"  stroke="#111" stroke-width="0.15">0</text>
<line x1="42.9" y1="307" x2="44.7" y2="307" stroke="#404040" stroke-width="0.6" />
<text font-size="5" font-weight="bold" text-anchor="end" fill="#111" transform="translate(43 308.8) scale(1 1)"  stroke="#111" stroke-width="0.15">50</text>
<line x1="42.9" y1="272.3" x2="44.7" y2="272.3" stroke="#404040" stroke-width="0.6" />
<text font-size="5" font-weight="bold" text-anchor="end" fill="#111" transform="translate(43 274.1) scale(1 1)"  stroke="#111" stroke-width="0.15">100</text>
<text font-size="6.3" font-weight="bold" text-anchor="middle" fill="#111" transform="translate(34.5 306.6) rotate(-90) scale(1 1)"  stroke="#111" stroke-width="0.19">% Reads aligned</text>
<rect x="64.2" y="355.2" width="8.6" height="4.1" fill="#1177F3" stroke="none" stroke-width="0" />
<text font-size="6.2" font-weight="normal" text-anchor="start" fill="#222" transform="translate(78.1 359.6) scale(1 1)" >Human(High+Low Quality)</text>
<rect x="162.2" y="355.2" width="8.6" height="4.1" fill="#137A72" stroke="none" stroke-width="0" />
<text font-size="6.2" font-weight="normal" text-anchor="start" fill="#222" transform="translate(174.7 359.6) scale(1 1)" >Microbial</text>
<rect x="209.2" y="355.2" width="8.6" height="4.1" fill="#F9A9A7" stroke="none" stroke-width="0" />
<text font-size="6.2" font-weight="normal" text-anchor="start" fill="#222" transform="translate(221.7 359.6) scale(1 1)" >Human (Secondary Aligned)</text>
<rect x="311.1" y="355.2" width="8.6" height="4.1" fill="#E4E5E5" stroke="#8a8a8a" stroke-width="0.4" />
<text font-size="6.2" font-weight="normal" text-anchor="start" fill="#222" transform="translate(323.3 359.6) scale(1 1)" >Unmapped</text>
<text font-size="12.3" font-weight="normal" text-anchor="start" fill="#111" transform="translate(382 203) scale(1 1)" >E.</text>
<defs><linearGradient id="gN" x1="0" x2="1" y1="0" y2="0"><stop offset="0" stop-color="#CFD8AC"/><stop offset="0.5" stop-color="#F4F29E"/><stop offset="1" stop-color="#CFD8AC"/></linearGradient><linearGradient id="gC" x1="0" x2="1" y1="0" y2="0"><stop offset="0" stop-color="#CDD8B0"/><stop offset="0.5" stop-color="#EEF2AE"/><stop offset="1" stop-color="#CDD8B0"/></linearGradient></defs>
<rect x="394.7" y="207.2" width="2.2" height="102.2" rx="1" fill="url(#gN)" stroke="#C4C9B4" stroke-width="0.35"/>
<rect x="394.9" y="214.77" width="1.8" height="0.64" fill="#F4D89A" opacity="0.8"/>
<rect x="394.85" y="219.1" width="1.9" height="1.26" fill="#CCD6B4" opacity="0.85"/>
<rect x="394.85" y="221.52" width="1.9" height="0.62" fill="#CCD6B4" opacity="0.85"/>
<rect x="394.85" y="223.81" width="1.9" height="1.67" fill="#C2CFB8" opacity="0.85"/>
<rect x="394.85" y="225.99" width="1.9" height="1.46" fill="#CCD6B4" opacity="0.85"/>
<rect x="394.85" y="229.06" width="1.9" height="0.89" fill="#C2CFB8" opacity="0.85"/>
<rect x="394.85" y="233.68" width="1.9" height="1.55" fill="#C2CFB8" opacity="0.85"/>
<rect x="394.85" y="239.27" width="1.9" height="1.11" fill="#CCD6B4" opacity="0.85"/>
<rect x="394.85" y="242.1" width="1.9" height="1.55" fill="#CCD6B4" opacity="0.85"/>
<rect x="394.85" y="245.17" width="1.9" height="1.27" fill="#CCD6B4" opacity="0.85"/>
<rect x="394.85" y="250.79" width="1.9" height="1.7" fill="#CCD6B4" opacity="0.85"/>
<rect x="394.85" y="252.81" width="1.9" height="0.67" fill="#C2CFB8" opacity="0.85"/>
<rect x="394.85" y="257.44" width="1.9" height="1.08" fill="#CCD6B4" opacity="0.85"/>
<rect x="394.85" y="262.23" width="1.9" height="1.8" fill="#C2CFB8" opacity="0.85"/>
<rect x="394.85" y="269.42" width="1.9" height="1.04" fill="#CCD6B4" opacity="0.85"/>
<rect x="394.85" y="273.48" width="1.9" height="0.83" fill="#C2CFB8" opacity="0.85"/>
<rect x="394.85" y="275.41" width="1.9" height="1.17" fill="#CCD6B4" opacity="0.85"/>
<rect x="394.85" y="278.12" width="1.9" height="1.24" fill="#CCD6B4" opacity="0.85"/>
<rect x="394.9" y="281.03" width="1.8" height="0.65" fill="#F4D89A" opacity="0.8"/>
<rect x="394.85" y="287.68" width="1.9" height="1.21" fill="#C2CFB8" opacity="0.85"/>
<rect x="394.9" y="292.44" width="1.8" height="1.97" fill="#F4D89A" opacity="0.8"/>
<rect x="394.9" y="295.44" width="1.8" height="1.62" fill="#F4D89A" opacity="0.8"/>
<rect x="394.85" y="297.8" width="1.9" height="1.17" fill="#CCD6B4" opacity="0.85"/>
<rect x="394.85" y="303.74" width="1.9" height="1.07" fill="#CCD6B4" opacity="0.85"/>
<rect x="394.85" y="306.29" width="1.9" height="1.81" fill="#C2CFB8" opacity="0.85"/>
<rect x="394.9" y="207.5" width="1.8" height="1.4" fill="#F1BE88"/>
<rect x="394.9" y="307.4" width="1.8" height="1.6" fill="#F1C08C"/>
<rect x="394.9" y="256.2" width="1.8" height="1.6" fill="#7A8CAC"/>
<rect x="394.9" y="265.9" width="1.8" height="2.2" fill="#7A8CAC"/>
<rect x="394.95" y="257.8" width="1.7" height="8.1" rx="0.6" fill="#0a0a0a"/>
<text font-size="1.6" font-weight="normal" text-anchor="middle" fill="#777" transform="translate(395.8 313.3) scale(1 1)" >1</text>
<rect x="399.54" y="209.7" width="2.2" height="99.7" rx="1" fill="url(#gN)" stroke="#C4C9B4" stroke-width="0.35"/>
<rect x="399.69" y="220.44" width="1.9" height="1.41" fill="#CCD6B4" opacity="0.85"/>
<rect x="399.74" y="222.53" width="1.8" height="1.54" fill="#F4D89A" opacity="0.8"/>
<rect x="399.74" y="236.96" width="1.8" height="1.33" fill="#F4D89A" opacity="0.8"/>
<rect x="399.69" y="246.6" width="1.9" height="1.53" fill="#CCD6B4" opacity="0.85"/>
<rect x="399.69" y="251.43" width="1.9" height="0.82" fill="#CCD6B4" opacity="0.85"/>
<rect x="399.69" y="254.8" width="1.9" height="1.26" fill="#CCD6B4" opacity="0.85"/>
<rect x="399.69" y="256.56" width="1.9" height="1.04" fill="#CCD6B4" opacity="0.85"/>
<rect x="399.69" y="257.96" width="1.9" height="1.25" fill="#CCD6B4" opacity="0.85"/>
<rect x="399.69" y="261.63" width="1.9" height="1.17" fill="#CCD6B4" opacity="0.85"/>
<rect x="399.69" y="263.27" width="1.9" height="1.76" fill="#CCD6B4" opacity="0.85"/>
<rect x="399.74" y="266.26" width="1.8" height="0.73" fill="#F4D89A" opacity="0.8"/>
<rect x="399.69" y="273.19" width="1.9" height="1.12" fill="#CCD6B4" opacity="0.85"/>
<rect x="399.69" y="284.41" width="1.9" height="1.13" fill="#CCD6B4" opacity="0.85"/>
<rect x="399.69" y="286.27" width="1.9" height="1.96" fill="#C2CFB8" opacity="0.85"/>
<rect x="399.69" y="289.9" width="1.9" height="1.43" fill="#C2CFB8" opacity="0.85"/>
<rect x="399.69" y="292.38" width="1.9" height="1.18" fill="#C2CFB8" opacity="0.85"/>
<rect x="399.74" y="294.6" width="1.8" height="1" fill="#F4D89A" opacity="0.8"/>
<rect x="399.69" y="296.08" width="1.9" height="1.47" fill="#CCD6B4" opacity="0.85"/>
<rect x="399.69" y="299.03" width="1.9" height="1.76" fill="#CCD6B4" opacity="0.85"/>
<rect x="399.69" y="304.07" width="1.9" height="0.97" fill="#C2CFB8" opacity="0.85"/>
<rect x="399.74" y="305.79" width="1.8" height="1.45" fill="#F4D89A" opacity="0.8"/>
<rect x="399.74" y="307.4" width="1.8" height="1.6" fill="#F1C08C"/>
<rect x="399.74" y="247" width="1.8" height="1.2" fill="#6F86AE"/>
<text font-size="1.6" font-weight="normal" text-anchor="middle" fill="#777" transform="translate(400.64 313.3) scale(1 1)" >2</text>
<rect x="404.38" y="227.8" width="2.2" height="81.6" rx="1" fill="url(#gN)" stroke="#C4C9B4" stroke-width="0.35"/>
<rect x="404.53" y="230.72" width="1.9" height="1.66" fill="#CCD6B4" opacity="0.85"/>
<rect x="404.58" y="233.19" width="1.8" height="1.02" fill="#F4D89A" opacity="0.8"/>
<rect x="404.53" y="237.5" width="1.9" height="0.65" fill="#CCD6B4" opacity="0.85"/>
<rect x="404.58" y="239.82" width="1.8" height="1.84" fill="#F4D89A" opacity="0.8"/>
<rect x="404.53" y="241.99" width="1.9" height="1.69" fill="#CCD6B4" opacity="0.85"/>
<rect x="404.58" y="245.04" width="1.8" height="1.49" fill="#F4D89A" opacity="0.8"/>
<rect x="404.53" y="248.19" width="1.9" height="1.14" fill="#C2CFB8" opacity="0.85"/>
<rect x="404.58" y="256.73" width="1.8" height="0.8" fill="#F4D89A" opacity="0.8"/>
<rect x="404.53" y="258.65" width="1.9" height="1.3" fill="#CCD6B4" opacity="0.85"/>
<rect x="404.53" y="261.12" width="1.9" height="1.74" fill="#CCD6B4" opacity="0.85"/>
<rect x="404.53" y="269.85" width="1.9" height="1.58" fill="#C2CFB8" opacity="0.85"/>
<rect x="404.53" y="274.93" width="1.9" height="0.79" fill="#C2CFB8" opacity="0.85"/>
<rect x="404.53" y="276.24" width="1.9" height="1.45" fill="#CCD6B4" opacity="0.85"/>
<rect x="404.53" y="278.93" width="1.9" height="0.66" fill="#CCD6B4" opacity="0.85"/>
<rect x="404.53" y="282.09" width="1.9" height="1.83" fill="#CCD6B4" opacity="0.85"/>
<rect x="404.58" y="284.7" width="1.8" height="1.44" fill="#F4D89A" opacity="0.8"/>
<rect x="404.53" y="287.84" width="1.9" height="1.12" fill="#CCD6B4" opacity="0.85"/>
<rect x="404.58" y="289.5" width="1.8" height="1.48" fill="#F4D89A" opacity="0.8"/>
<rect x="404.53" y="294.72" width="1.9" height="1.37" fill="#C2CFB8" opacity="0.85"/>
<rect x="404.53" y="297.16" width="1.9" height="0.79" fill="#CCD6B4" opacity="0.85"/>
<rect x="404.58" y="304.08" width="1.8" height="1.83" fill="#F4D89A" opacity="0.8"/>
<rect x="404.53" y="306.69" width="1.9" height="1.72" fill="#C2CFB8" opacity="0.85"/>
<rect x="404.58" y="228.1" width="1.8" height="1.4" fill="#F1BE88"/>
<rect x="404.58" y="307.4" width="1.8" height="1.6" fill="#F1C08C"/>
<rect x="404.58" y="265" width="1.8" height="1.2" fill="#6F86AE"/>
<text font-size="1.6" font-weight="normal" text-anchor="middle" fill="#777" transform="translate(405.48 313.3) scale(1 1)" >3</text>
<rect x="409.22" y="230.9" width="2.2" height="78.5" rx="1" fill="url(#gN)" stroke="#C4C9B4" stroke-width="0.35"/>
<rect x="409.37" y="234.03" width="1.9" height="0.91" fill="#C2CFB8" opacity="0.85"/>
<rect x="409.37" y="236.24" width="1.9" height="1.75" fill="#CCD6B4" opacity="0.85"/>
<rect x="409.37" y="238.82" width="1.9" height="0.93" fill="#CCD6B4" opacity="0.85"/>
<rect x="409.37" y="240.58" width="1.9" height="1.14" fill="#C2CFB8" opacity="0.85"/>
<rect x="409.37" y="242.99" width="1.9" height="1.73" fill="#C2CFB8" opacity="0.85"/>
<rect x="409.37" y="248.63" width="1.9" height="1.15" fill="#CCD6B4" opacity="0.85"/>
<rect x="409.37" y="252.06" width="1.9" height="1.66" fill="#CCD6B4" opacity="0.85"/>
<rect x="409.37" y="255.36" width="1.9" height="1.47" fill="#CCD6B4" opacity="0.85"/>
<rect x="409.37" y="257.28" width="1.9" height="0.82" fill="#CCD6B4" opacity="0.85"/>
<rect x="409.37" y="258.97" width="1.9" height="1.83" fill="#CCD6B4" opacity="0.85"/>
<rect x="409.37" y="261.52" width="1.9" height="0.83" fill="#CCD6B4" opacity="0.85"/>
<rect x="409.37" y="269.83" width="1.9" height="1.54" fill="#CCD6B4" opacity="0.85"/>
<rect x="409.37" y="272.76" width="1.9" height="0.83" fill="#CCD6B4" opacity="0.85"/>
<rect x="409.37" y="274.24" width="1.9" height="0.71" fill="#C2CFB8" opacity="0.85"/>
<rect x="409.42" y="275.79" width="1.8" height="1.04" fill="#F4D89A" opacity="0.8"/>
<rect x="409.37" y="282.37" width="1.9" height="1.5" fill="#C2CFB8" opacity="0.85"/>
<rect x="409.42" y="285.79" width="1.8" height="0.66" fill="#F4D89A" opacity="0.8"/>
<rect x="409.37" y="288.23" width="1.9" height="1.33" fill="#CCD6B4" opacity="0.85"/>
<rect x="409.42" y="289.97" width="1.8" height="1.86" fill="#F4D89A" opacity="0.8"/>
<rect x="409.37" y="293.53" width="1.9" height="0.68" fill="#CCD6B4" opacity="0.85"/>
<rect x="409.37" y="295.1" width="1.9" height="0.68" fill="#CCD6B4" opacity="0.85"/>
<rect x="409.37" y="296.54" width="1.9" height="0.67" fill="#C2CFB8" opacity="0.85"/>
<rect x="409.37" y="297.78" width="1.9" height="1.31" fill="#CCD6B4" opacity="0.85"/>
<rect x="409.37" y="299.52" width="1.9" height="1.04" fill="#CCD6B4" opacity="0.85"/>
<rect x="409.42" y="304.3" width="1.8" height="0.62" fill="#F4D89A" opacity="0.8"/>
<rect x="409.37" y="305.96" width="1.9" height="1.4" fill="#CCD6B4" opacity="0.85"/>
<rect x="409.42" y="231.2" width="1.8" height="1.4" fill="#F1BE88"/>
<rect x="409.42" y="307.4" width="1.8" height="1.6" fill="#F1C08C"/>
<rect x="409.42" y="252.5" width="1.8" height="1.2" fill="#6F86AE"/>
<text font-size="1.6" font-weight="normal" text-anchor="middle" fill="#777" transform="translate(410.32 313.3) scale(1 1)" >4</text>
<rect x="414.06" y="234.8" width="2.2" height="74.6" rx="1" fill="url(#gN)" stroke="#C4C9B4" stroke-width="0.35"/>
<rect x="414.21" y="235.8" width="1.9" height="1.88" fill="#CCD6B4" opacity="0.85"/>
<rect x="414.21" y="239.22" width="1.9" height="0.91" fill="#CCD6B4" opacity="0.85"/>
<rect x="414.21" y="243.01" width="1.9" height="0.78" fill="#CCD6B4" opacity="0.85"/>
<rect x="414.21" y="247.15" width="1.9" height="0.88" fill="#CCD6B4" opacity="0.85"/>
<rect x="414.21" y="248.48" width="1.9" height="1.19" fill="#C2CFB8" opacity="0.85"/>
<rect x="414.21" y="254.09" width="1.9" height="1.4" fill="#C2CFB8" opacity="0.85"/>
<rect x="414.21" y="261.92" width="1.9" height="0.78" fill="#CCD6B4" opacity="0.85"/>
<rect x="414.21" y="263.39" width="1.9" height="1.55" fill="#CCD6B4" opacity="0.85"/>
<rect x="414.21" y="266.39" width="1.9" height="1.38" fill="#CCD6B4" opacity="0.85"/>
<rect x="414.21" y="271.08" width="1.9" height="1.46" fill="#CCD6B4" opacity="0.85"/>
<rect x="414.21" y="273.38" width="1.9" height="1.06" fill="#CCD6B4" opacity="0.85"/>
<rect x="414.21" y="275.99" width="1.9" height="1.62" fill="#CCD6B4" opacity="0.85"/>
<rect x="414.21" y="278.16" width="1.9" height="1.59" fill="#C2CFB8" opacity="0.85"/>
<rect x="414.21" y="281.25" width="1.9" height="0.77" fill="#C2CFB8" opacity="0.85"/>
<rect x="414.21" y="283" width="1.9" height="1.21" fill="#C2CFB8" opacity="0.85"/>
<rect x="414.26" y="291.15" width="1.8" height="1.41" fill="#F4D89A" opacity="0.8"/>
<rect x="414.21" y="294.18" width="1.9" height="1.15" fill="#CCD6B4" opacity="0.85"/>
<rect x="414.21" y="295.94" width="1.9" height="1.39" fill="#C2CFB8" opacity="0.85"/>
<rect x="414.21" y="297.98" width="1.9" height="1.09" fill="#C2CFB8" opacity="0.85"/>
<rect x="414.21" y="305.16" width="1.9" height="0.65" fill="#CCD6B4" opacity="0.85"/>
<rect x="414.21" y="307.19" width="1.9" height="1.86" fill="#C2CFB8" opacity="0.85"/>
<rect x="414.26" y="235.1" width="1.8" height="1.4" fill="#F1BE88"/>
<rect x="414.26" y="307.4" width="1.8" height="1.6" fill="#F1C08C"/>
<rect x="414.26" y="254" width="1.8" height="1.2" fill="#6F86AE"/>
<text font-size="1.6" font-weight="normal" text-anchor="middle" fill="#777" transform="translate(415.16 313.3) scale(1 1)" >5</text>
<rect x="418.9" y="239" width="2.2" height="70.4" rx="1" fill="url(#gN)" stroke="#C4C9B4" stroke-width="0.35"/>
<rect x="419.05" y="242.79" width="1.9" height="1.72" fill="#CCD6B4" opacity="0.85"/>
<rect x="419.05" y="245.58" width="1.9" height="1.42" fill="#CCD6B4" opacity="0.85"/>
<rect x="419.05" y="247.78" width="1.9" height="0.64" fill="#CCD6B4" opacity="0.85"/>
<rect x="419.05" y="249.43" width="1.9" height="1.58" fill="#C2CFB8" opacity="0.85"/>
<rect x="419.05" y="260.44" width="1.9" height="1" fill="#CCD6B4" opacity="0.85"/>
<rect x="419.05" y="266.8" width="1.9" height="1.6" fill="#C2CFB8" opacity="0.85"/>
<rect x="419.1" y="275.97" width="1.8" height="0.89" fill="#F4D89A" opacity="0.8"/>
<rect x="419.05" y="280.56" width="1.9" height="1.15" fill="#CCD6B4" opacity="0.85"/>
<rect x="419.05" y="285.46" width="1.9" height="1.46" fill="#CCD6B4" opacity="0.85"/>
<rect x="419.05" y="290.48" width="1.9" height="1.84" fill="#CCD6B4" opacity="0.85"/>
<rect x="419.1" y="302.16" width="1.8" height="1.2" fill="#F4D89A" opacity="0.8"/>
<rect x="419.05" y="305.01" width="1.9" height="1.02" fill="#CCD6B4" opacity="0.85"/>
<rect x="419.05" y="307.79" width="1.9" height="0.86" fill="#CCD6B4" opacity="0.85"/>
<rect x="419.1" y="307.4" width="1.8" height="1.6" fill="#F1C08C"/>
<rect x="419.1" y="263" width="1.8" height="1.2" fill="#6F86AE"/>
<text font-size="1.6" font-weight="normal" text-anchor="middle" fill="#777" transform="translate(420 313.3) scale(1 1)" >6</text>
<rect x="423.74" y="243.8" width="2.2" height="65.6" rx="1" fill="url(#gN)" stroke="#C4C9B4" stroke-width="0.35"/>
<rect x="423.89" y="244.8" width="1.9" height="1.44" fill="#CCD6B4" opacity="0.85"/>
<rect x="423.94" y="250.33" width="1.8" height="0.69" fill="#F4D89A" opacity="0.8"/>
<rect x="423.89" y="252.57" width="1.9" height="1.94" fill="#C2CFB8" opacity="0.85"/>
<rect x="423.89" y="255.78" width="1.9" height="1.9" fill="#CCD6B4" opacity="0.85"/>
<rect x="423.89" y="259.24" width="1.9" height="1.27" fill="#CCD6B4" opacity="0.85"/>
<rect x="423.89" y="261.04" width="1.9" height="0.73" fill="#CCD6B4" opacity="0.85"/>
<rect x="423.89" y="272.51" width="1.9" height="0.74" fill="#CCD6B4" opacity="0.85"/>
<rect x="423.94" y="273.87" width="1.8" height="1.12" fill="#F4D89A" opacity="0.8"/>
<rect x="423.89" y="276.31" width="1.9" height="1.64" fill="#CCD6B4" opacity="0.85"/>
<rect x="423.89" y="279.07" width="1.9" height="1.13" fill="#CCD6B4" opacity="0.85"/>
<rect x="423.94" y="281.05" width="1.8" height="1.56" fill="#F4D89A" opacity="0.8"/>
<rect x="423.89" y="284.36" width="1.9" height="1.92" fill="#C2CFB8" opacity="0.85"/>
<rect x="423.89" y="287.66" width="1.9" height="1.01" fill="#CCD6B4" opacity="0.85"/>
<rect x="423.94" y="292.01" width="1.8" height="1.01" fill="#F4D89A" opacity="0.8"/>
<rect x="423.89" y="298.96" width="1.9" height="0.67" fill="#CCD6B4" opacity="0.85"/>
<rect x="423.89" y="300.93" width="1.9" height="0.7" fill="#CCD6B4" opacity="0.85"/>
<rect x="423.94" y="302.65" width="1.8" height="1.98" fill="#F4D89A" opacity="0.8"/>
<rect x="423.89" y="305.51" width="1.9" height="1.91" fill="#CCD6B4" opacity="0.85"/>
<rect x="423.94" y="244.1" width="1.8" height="1.4" fill="#F1BE88"/>
<rect x="423.94" y="307.4" width="1.8" height="1.6" fill="#F1C08C"/>
<rect x="423.94" y="268.5" width="1.8" height="1.2" fill="#6F86AE"/>
<text font-size="1.6" font-weight="normal" text-anchor="middle" fill="#777" transform="translate(424.84 313.3) scale(1 1)" >7</text>
<rect x="428.58" y="249.7" width="2.2" height="59.7" rx="1" fill="url(#gN)" stroke="#C4C9B4" stroke-width="0.35"/>
<rect x="428.73" y="252.15" width="1.9" height="0.62" fill="#CCD6B4" opacity="0.85"/>
<rect x="428.73" y="253.65" width="1.9" height="1.32" fill="#CCD6B4" opacity="0.85"/>
<rect x="428.78" y="256.73" width="1.8" height="1.22" fill="#F4D89A" opacity="0.8"/>
<rect x="428.73" y="260.7" width="1.9" height="1.31" fill="#CCD6B4" opacity="0.85"/>
<rect x="428.73" y="275.81" width="1.9" height="1.85" fill="#C2CFB8" opacity="0.85"/>
<rect x="428.73" y="281.18" width="1.9" height="1.19" fill="#CCD6B4" opacity="0.85"/>
<rect x="428.73" y="283.1" width="1.9" height="1.53" fill="#CCD6B4" opacity="0.85"/>
<rect x="428.73" y="285.62" width="1.9" height="0.7" fill="#C2CFB8" opacity="0.85"/>
<rect x="428.73" y="287.95" width="1.9" height="0.88" fill="#C2CFB8" opacity="0.85"/>
<rect x="428.73" y="290.57" width="1.9" height="1.44" fill="#CCD6B4" opacity="0.85"/>
<rect x="428.73" y="293.69" width="1.9" height="1.91" fill="#CCD6B4" opacity="0.85"/>
<rect x="428.73" y="298.37" width="1.9" height="1.69" fill="#CCD6B4" opacity="0.85"/>
<rect x="428.73" y="301.82" width="1.9" height="1.58" fill="#CCD6B4" opacity="0.85"/>
<rect x="428.73" y="304.67" width="1.9" height="1.12" fill="#CCD6B4" opacity="0.85"/>
<rect x="428.73" y="306.97" width="1.9" height="1.95" fill="#CCD6B4" opacity="0.85"/>
<rect x="428.78" y="307.4" width="1.8" height="1.6" fill="#F1C08C"/>
<rect x="428.78" y="268" width="1.8" height="1.2" fill="#6F86AE"/>
<text font-size="1.6" font-weight="normal" text-anchor="middle" fill="#777" transform="translate(429.68 313.3) scale(1 1)" >8</text>
<rect x="433.42" y="252.4" width="2.2" height="57" rx="1" fill="url(#gN)" stroke="#C4C9B4" stroke-width="0.35"/>
<rect x="433.57" y="256.85" width="1.9" height="1.68" fill="#CCD6B4" opacity="0.85"/>
<rect x="433.57" y="259.75" width="1.9" height="1.71" fill="#CCD6B4" opacity="0.85"/>
<rect x="433.57" y="261.81" width="1.9" height="1.14" fill="#CCD6B4" opacity="0.85"/>
<rect x="433.62" y="266.62" width="1.8" height="1.12" fill="#F4D89A" opacity="0.8"/>
<rect x="433.57" y="272.8" width="1.9" height="1.02" fill="#C2CFB8" opacity="0.85"/>
<rect x="433.62" y="280.33" width="1.8" height="1.09" fill="#F4D89A" opacity="0.8"/>
<rect x="433.62" y="282.57" width="1.8" height="0.89" fill="#F4D89A" opacity="0.8"/>
<rect x="433.57" y="283.85" width="1.9" height="0.72" fill="#CCD6B4" opacity="0.85"/>
<rect x="433.57" y="286.33" width="1.9" height="0.97" fill="#C2CFB8" opacity="0.85"/>
<rect x="433.57" y="294.65" width="1.9" height="1.86" fill="#CCD6B4" opacity="0.85"/>
<rect x="433.57" y="300.54" width="1.9" height="1.82" fill="#CCD6B4" opacity="0.85"/>
<rect x="433.62" y="308.17" width="1.8" height="0.69" fill="#F4D89A" opacity="0.8"/>
<rect x="433.62" y="307.4" width="1.8" height="1.6" fill="#F1C08C"/>
<rect x="433.62" y="279.5" width="1.8" height="1.2" fill="#6F86AE"/>
<rect x="433.62" y="268.7" width="1.8" height="1.6" fill="#7A8CAC"/>
<rect x="433.62" y="279.3" width="1.8" height="2.2" fill="#7A8CAC"/>
<rect x="433.67" y="270.3" width="1.7" height="9" rx="0.6" fill="#0a0a0a"/>
<text font-size="1.6" font-weight="normal" text-anchor="middle" fill="#777" transform="translate(434.52 313.3) scale(1 1)" >9</text>
<rect x="438.26" y="253.8" width="2.2" height="55.6" rx="1" fill="url(#gN)" stroke="#C4C9B4" stroke-width="0.35"/>
<rect x="438.41" y="259.03" width="1.9" height="1.66" fill="#CCD6B4" opacity="0.85"/>
<rect x="438.46" y="260.99" width="1.8" height="1.66" fill="#F4D89A" opacity="0.8"/>
<rect x="438.41" y="264.31" width="1.9" height="1.25" fill="#CCD6B4" opacity="0.85"/>
<rect x="438.41" y="266.25" width="1.9" height="1.93" fill="#CCD6B4" opacity="0.85"/>
<rect x="438.41" y="269.01" width="1.9" height="0.71" fill="#CCD6B4" opacity="0.85"/>
<rect x="438.41" y="271" width="1.9" height="0.84" fill="#CCD6B4" opacity="0.85"/>
<rect x="438.41" y="276.06" width="1.9" height="0.8" fill="#CCD6B4" opacity="0.85"/>
<rect x="438.41" y="283.87" width="1.9" height="1.01" fill="#CCD6B4" opacity="0.85"/>
<rect x="438.41" y="285.71" width="1.9" height="1.85" fill="#CCD6B4" opacity="0.85"/>
<rect x="438.41" y="288.82" width="1.9" height="1.94" fill="#C2CFB8" opacity="0.85"/>
<rect x="438.41" y="293.88" width="1.9" height="1.42" fill="#C2CFB8" opacity="0.85"/>
<rect x="438.41" y="298.35" width="1.9" height="1.17" fill="#CCD6B4" opacity="0.85"/>
<rect x="438.41" y="299.92" width="1.9" height="1.6" fill="#C2CFB8" opacity="0.85"/>
<rect x="438.41" y="301.91" width="1.9" height="1.02" fill="#C2CFB8" opacity="0.85"/>
<rect x="438.46" y="304.42" width="1.8" height="1.85" fill="#F4D89A" opacity="0.8"/>
<rect x="438.41" y="306.73" width="1.9" height="1.18" fill="#CCD6B4" opacity="0.85"/>
<rect x="438.46" y="307.4" width="1.8" height="1.6" fill="#F1C08C"/>
<rect x="438.46" y="271" width="1.8" height="1.2" fill="#6F86AE"/>
<text font-size="1.6" font-weight="normal" text-anchor="middle" fill="#777" transform="translate(439.36 313.3) scale(1 1)" >10</text>
<rect x="443.1" y="254.2" width="2.2" height="55.2" rx="1" fill="url(#gN)" stroke="#C4C9B4" stroke-width="0.35"/>
<rect x="443.25" y="255.2" width="1.9" height="1.01" fill="#CCD6B4" opacity="0.85"/>
<rect x="443.3" y="257.91" width="1.8" height="1.92" fill="#F4D89A" opacity="0.8"/>
<rect x="443.25" y="260.28" width="1.9" height="1.68" fill="#CCD6B4" opacity="0.85"/>
<rect x="443.3" y="262.39" width="1.8" height="1.98" fill="#F4D89A" opacity="0.8"/>
<rect x="443.25" y="268.06" width="1.9" height="1.2" fill="#CCD6B4" opacity="0.85"/>
<rect x="443.25" y="275.9" width="1.9" height="0.8" fill="#C2CFB8" opacity="0.85"/>
<rect x="443.25" y="280.08" width="1.9" height="1.3" fill="#C2CFB8" opacity="0.85"/>
<rect x="443.25" y="284.53" width="1.9" height="0.79" fill="#CCD6B4" opacity="0.85"/>
<rect x="443.25" y="287.95" width="1.9" height="0.83" fill="#CCD6B4" opacity="0.85"/>
<rect x="443.25" y="290.02" width="1.9" height="1.8" fill="#CCD6B4" opacity="0.85"/>
<rect x="443.25" y="292.28" width="1.9" height="1.41" fill="#CCD6B4" opacity="0.85"/>
<rect x="443.25" y="294.07" width="1.9" height="1.61" fill="#C2CFB8" opacity="0.85"/>
<rect x="443.25" y="303.06" width="1.9" height="1.19" fill="#C2CFB8" opacity="0.85"/>
<rect x="443.3" y="307.4" width="1.8" height="1.6" fill="#F1C08C"/>
<rect x="443.3" y="275" width="1.8" height="1.2" fill="#6F86AE"/>
<text font-size="1.6" font-weight="normal" text-anchor="middle" fill="#777" transform="translate(444.2 313.3) scale(1 1)" >11</text>
<rect x="447.94" y="254.7" width="2.2" height="54.7" rx="1" fill="url(#gN)" stroke="#C4C9B4" stroke-width="0.35"/>
<rect x="448.14" y="261.01" width="1.8" height="1.62" fill="#F4D89A" opacity="0.8"/>
<rect x="448.09" y="266" width="1.9" height="1.29" fill="#C2CFB8" opacity="0.85"/>
<rect x="448.09" y="268.75" width="1.9" height="1.77" fill="#CCD6B4" opacity="0.85"/>
<rect x="448.09" y="271.54" width="1.9" height="0.77" fill="#C2CFB8" opacity="0.85"/>
<rect x="448.09" y="277.88" width="1.9" height="0.98" fill="#CCD6B4" opacity="0.85"/>
<rect x="448.14" y="280.03" width="1.8" height="1.64" fill="#F4D89A" opacity="0.8"/>
<rect x="448.09" y="286.92" width="1.9" height="1.56" fill="#CCD6B4" opacity="0.85"/>
<rect x="448.09" y="290.04" width="1.9" height="0.81" fill="#CCD6B4" opacity="0.85"/>
<rect x="448.14" y="292.29" width="1.8" height="0.75" fill="#F4D89A" opacity="0.8"/>
<rect x="448.14" y="294" width="1.8" height="1.72" fill="#F4D89A" opacity="0.8"/>
<rect x="448.09" y="306.83" width="1.9" height="0.88" fill="#CCD6B4" opacity="0.85"/>
<rect x="448.09" y="308.16" width="1.9" height="1.12" fill="#CCD6B4" opacity="0.85"/>
<rect x="448.14" y="307.4" width="1.8" height="1.6" fill="#F1C08C"/>
<rect x="448.14" y="269" width="1.8" height="1.2" fill="#6F86AE"/>
<text font-size="1.6" font-weight="normal" text-anchor="middle" fill="#777" transform="translate(449.04 313.3) scale(1 1)" >12</text>
<rect x="452.78" y="262.8" width="2.2" height="46.6" rx="1" fill="url(#gN)" stroke="#C4C9B4" stroke-width="0.35"/>
<rect x="452.93" y="263.8" width="1.9" height="1.2" fill="#C2CFB8" opacity="0.85"/>
<rect x="452.93" y="268.36" width="1.9" height="1.56" fill="#CCD6B4" opacity="0.85"/>
<rect x="452.93" y="270.9" width="1.9" height="1.17" fill="#CCD6B4" opacity="0.85"/>
<rect x="452.93" y="279.76" width="1.9" height="1.71" fill="#CCD6B4" opacity="0.85"/>
<rect x="452.93" y="285.56" width="1.9" height="0.87" fill="#CCD6B4" opacity="0.85"/>
<rect x="452.93" y="287.75" width="1.9" height="1.68" fill="#CCD6B4" opacity="0.85"/>
<rect x="452.93" y="290.99" width="1.9" height="1.11" fill="#CCD6B4" opacity="0.85"/>
<rect x="452.93" y="292.94" width="1.9" height="0.8" fill="#CCD6B4" opacity="0.85"/>
<rect x="452.93" y="294.27" width="1.9" height="1.2" fill="#CCD6B4" opacity="0.85"/>
<rect x="452.93" y="299.32" width="1.9" height="1.89" fill="#CCD6B4" opacity="0.85"/>
<rect x="452.98" y="307.4" width="1.8" height="1.6" fill="#F1C08C"/>
<rect x="453.03" y="262.3" width="1.7" height="6.2" rx="0.6" fill="#0a0a0a"/>
<text font-size="1.6" font-weight="normal" text-anchor="middle" fill="#777" transform="translate(453.88 313.3) scale(1 1)" >13</text>
<rect x="457.62" y="265.9" width="2.2" height="43.5" rx="1" fill="url(#gN)" stroke="#C4C9B4" stroke-width="0.35"/>
<rect x="457.77" y="266.9" width="1.9" height="0.84" fill="#CCD6B4" opacity="0.85"/>
<rect x="457.77" y="269.27" width="1.9" height="0.92" fill="#C2CFB8" opacity="0.85"/>
<rect x="457.77" y="270.6" width="1.9" height="1.35" fill="#CCD6B4" opacity="0.85"/>
<rect x="457.77" y="278.82" width="1.9" height="1.33" fill="#CCD6B4" opacity="0.85"/>
<rect x="457.77" y="281.82" width="1.9" height="1.49" fill="#CCD6B4" opacity="0.85"/>
<rect x="457.77" y="284.32" width="1.9" height="1.22" fill="#CCD6B4" opacity="0.85"/>
<rect x="457.77" y="287.88" width="1.9" height="1.01" fill="#CCD6B4" opacity="0.85"/>
<rect x="457.77" y="290.58" width="1.9" height="1.01" fill="#CCD6B4" opacity="0.85"/>
<rect x="457.77" y="293.31" width="1.9" height="0.72" fill="#CCD6B4" opacity="0.85"/>
<rect x="457.77" y="295.35" width="1.9" height="1.25" fill="#C2CFB8" opacity="0.85"/>
<rect x="457.82" y="297.39" width="1.8" height="1.56" fill="#F4D89A" opacity="0.8"/>
<rect x="457.77" y="300.56" width="1.9" height="0.68" fill="#CCD6B4" opacity="0.85"/>
<rect x="457.82" y="301.94" width="1.8" height="1.75" fill="#F4D89A" opacity="0.8"/>
<rect x="457.82" y="307.4" width="1.8" height="1.6" fill="#F1C08C"/>
<rect x="457.87" y="265.8" width="1.7" height="6.2" rx="0.6" fill="#0a0a0a"/>
<text font-size="1.6" font-weight="normal" text-anchor="middle" fill="#777" transform="translate(458.72 313.3) scale(1 1)" >14</text>
<rect x="462.46" y="267.6" width="2.2" height="41.8" rx="1" fill="url(#gN)" stroke="#C4C9B4" stroke-width="0.35"/>
<rect x="462.61" y="268.6" width="1.9" height="1.17" fill="#CCD6B4" opacity="0.85"/>
<rect x="462.61" y="270.73" width="1.9" height="1.83" fill="#CCD6B4" opacity="0.85"/>
<rect x="462.61" y="273.76" width="1.9" height="1.43" fill="#CCD6B4" opacity="0.85"/>
<rect x="462.61" y="276.59" width="1.9" height="0.66" fill="#C2CFB8" opacity="0.85"/>
<rect x="462.61" y="278.91" width="1.9" height="0.69" fill="#CCD6B4" opacity="0.85"/>
<rect x="462.61" y="280.33" width="1.9" height="1.52" fill="#CCD6B4" opacity="0.85"/>
<rect x="462.61" y="287.54" width="1.9" height="1.79" fill="#CCD6B4" opacity="0.85"/>
<rect x="462.61" y="290.11" width="1.9" height="1.47" fill="#C2CFB8" opacity="0.85"/>
<rect x="462.61" y="300.96" width="1.9" height="1.24" fill="#CCD6B4" opacity="0.85"/>
<rect x="462.61" y="303.12" width="1.9" height="1.9" fill="#CCD6B4" opacity="0.85"/>
<rect x="462.66" y="307.4" width="1.8" height="1.6" fill="#F1C08C"/>
<rect x="462.66" y="275.5" width="1.8" height="1.2" fill="#6F86AE"/>
<rect x="462.71" y="267.6" width="1.7" height="6.4" rx="0.6" fill="#0a0a0a"/>
<text font-size="1.6" font-weight="normal" text-anchor="middle" fill="#777" transform="translate(463.56 313.3) scale(1 1)" >15</text>
<rect x="467.3" y="272.1" width="2.2" height="37.3" rx="1" fill="url(#gN)" stroke="#C4C9B4" stroke-width="0.35"/>
<rect x="467.45" y="273.1" width="1.9" height="1" fill="#C2CFB8" opacity="0.85"/>
<rect x="467.5" y="275.39" width="1.8" height="0.94" fill="#F4D89A" opacity="0.8"/>
<rect x="467.45" y="280.27" width="1.9" height="1.03" fill="#CCD6B4" opacity="0.85"/>
<rect x="467.45" y="281.85" width="1.9" height="1.91" fill="#CCD6B4" opacity="0.85"/>
<rect x="467.45" y="284.47" width="1.9" height="1.34" fill="#CCD6B4" opacity="0.85"/>
<rect x="467.45" y="287.59" width="1.9" height="1.7" fill="#CCD6B4" opacity="0.85"/>
<rect x="467.45" y="289.64" width="1.9" height="0.77" fill="#C2CFB8" opacity="0.85"/>
<rect x="467.45" y="291.18" width="1.9" height="0.95" fill="#CCD6B4" opacity="0.85"/>
<rect x="467.45" y="297.11" width="1.9" height="1.7" fill="#CCD6B4" opacity="0.85"/>
<rect x="467.45" y="299.51" width="1.9" height="0.69" fill="#C2CFB8" opacity="0.85"/>
<rect x="467.45" y="301.23" width="1.9" height="0.61" fill="#C2CFB8" opacity="0.85"/>
<rect x="467.45" y="306.71" width="1.9" height="1.38" fill="#CCD6B4" opacity="0.85"/>
<rect x="467.5" y="307.4" width="1.8" height="1.6" fill="#F1C08C"/>
<rect x="467.55" y="287" width="1.7" height="4" rx="0.6" fill="#0a0a0a"/>
<text font-size="1.6" font-weight="normal" text-anchor="middle" fill="#777" transform="translate(468.4 313.3) scale(1 1)" >16</text>
<rect x="472.14" y="275.4" width="2.2" height="34" rx="1" fill="url(#gN)" stroke="#C4C9B4" stroke-width="0.35"/>
<rect x="472.29" y="276.4" width="1.9" height="0.65" fill="#CCD6B4" opacity="0.85"/>
<rect x="472.29" y="277.53" width="1.9" height="0.71" fill="#CCD6B4" opacity="0.85"/>
<rect x="472.29" y="282.68" width="1.9" height="1.43" fill="#CCD6B4" opacity="0.85"/>
<rect x="472.29" y="287.86" width="1.9" height="1.01" fill="#CCD6B4" opacity="0.85"/>
<rect x="472.29" y="290.05" width="1.9" height="0.92" fill="#CCD6B4" opacity="0.85"/>
<rect x="472.29" y="295.28" width="1.9" height="1.89" fill="#CCD6B4" opacity="0.85"/>
<rect x="472.34" y="298.52" width="1.8" height="1.63" fill="#F4D89A" opacity="0.8"/>
<rect x="472.34" y="303.66" width="1.8" height="0.86" fill="#F4D89A" opacity="0.8"/>
<rect x="472.34" y="307.19" width="1.8" height="1.27" fill="#F4D89A" opacity="0.8"/>
<rect x="472.34" y="307.4" width="1.8" height="1.6" fill="#F1C08C"/>
<rect x="472.34" y="285" width="1.8" height="1.2" fill="#6F86AE"/>
<text font-size="1.6" font-weight="normal" text-anchor="middle" fill="#777" transform="translate(473.24 313.3) scale(1 1)" >17</text>
<rect x="476.98" y="276.6" width="2.2" height="32.8" rx="1" fill="url(#gN)" stroke="#C4C9B4" stroke-width="0.35"/>
<rect x="477.13" y="279.83" width="1.9" height="1.52" fill="#CCD6B4" opacity="0.85"/>
<rect x="477.13" y="287.19" width="1.9" height="1.3" fill="#CCD6B4" opacity="0.85"/>
<rect x="477.13" y="289.19" width="1.9" height="0.83" fill="#C2CFB8" opacity="0.85"/>
<rect x="477.13" y="292.77" width="1.9" height="0.63" fill="#CCD6B4" opacity="0.85"/>
<rect x="477.13" y="295.04" width="1.9" height="1.22" fill="#CCD6B4" opacity="0.85"/>
<rect x="477.18" y="299.47" width="1.8" height="1.27" fill="#F4D89A" opacity="0.8"/>
<rect x="477.13" y="306.61" width="1.9" height="1.56" fill="#CCD6B4" opacity="0.85"/>
<rect x="477.18" y="307.4" width="1.8" height="1.6" fill="#F1C08C"/>
<rect x="477.18" y="283" width="1.8" height="1.2" fill="#6F86AE"/>
<text font-size="1.6" font-weight="normal" text-anchor="middle" fill="#777" transform="translate(478.08 313.3) scale(1 1)" >18</text>
<rect x="481.82" y="285.6" width="2.2" height="23.8" rx="1" fill="url(#gN)" stroke="#C4C9B4" stroke-width="0.35"/>
<rect x="481.97" y="293.59" width="1.9" height="1.66" fill="#CCD6B4" opacity="0.85"/>
<rect x="481.97" y="298.94" width="1.9" height="1.92" fill="#CCD6B4" opacity="0.85"/>
<rect x="482.02" y="307.4" width="1.8" height="1.6" fill="#F1C08C"/>
<rect x="482.02" y="295" width="1.8" height="1.2" fill="#6F86AE"/>
<text font-size="1.6" font-weight="normal" text-anchor="middle" fill="#777" transform="translate(482.92 313.3) scale(1 1)" >19</text>
<rect x="486.66" y="282.9" width="2.2" height="26.5" rx="1" fill="url(#gN)" stroke="#C4C9B4" stroke-width="0.35"/>
<rect x="486.86" y="283.9" width="1.8" height="0.81" fill="#F4D89A" opacity="0.8"/>
<rect x="486.81" y="289.01" width="1.9" height="1.76" fill="#CCD6B4" opacity="0.85"/>
<rect x="486.86" y="295.17" width="1.8" height="1.68" fill="#F4D89A" opacity="0.8"/>
<rect x="486.86" y="301.01" width="1.8" height="1.96" fill="#F4D89A" opacity="0.8"/>
<rect x="486.81" y="305.9" width="1.9" height="1.94" fill="#CCD6B4" opacity="0.85"/>
<rect x="486.86" y="307.4" width="1.8" height="1.6" fill="#F1C08C"/>
<rect x="486.86" y="293.5" width="1.8" height="1.2" fill="#6F86AE"/>
<text font-size="1.6" font-weight="normal" text-anchor="middle" fill="#777" transform="translate(487.76 313.3) scale(1 1)" >20</text>
<rect x="491.5" y="290.6" width="2.2" height="18.8" rx="1" fill="url(#gN)" stroke="#C4C9B4" stroke-width="0.35"/>
<rect x="491.65" y="296.46" width="1.9" height="1.27" fill="#CCD6B4" opacity="0.85"/>
<rect x="491.65" y="298.57" width="1.9" height="0.6" fill="#CCD6B4" opacity="0.85"/>
<rect x="491.65" y="302.45" width="1.9" height="0.95" fill="#CCD6B4" opacity="0.85"/>
<rect x="491.7" y="304.42" width="1.8" height="0.76" fill="#F4D89A" opacity="0.8"/>
<rect x="491.7" y="307.4" width="1.8" height="1.6" fill="#F1C08C"/>
<rect x="491.7" y="294" width="1.8" height="1.2" fill="#6F86AE"/>
<rect x="491.7" y="293.6" width="1.8" height="0.8" fill="#E8704A"/>
<rect x="491.75" y="290.6" width="1.7" height="2.4" rx="0.6" fill="#0a0a0a"/>
<text font-size="1.6" font-weight="normal" text-anchor="middle" fill="#777" transform="translate(492.6 313.3) scale(1 1)" >21</text>
<rect x="496.34" y="288.6" width="2.2" height="20.8" rx="1" fill="url(#gN)" stroke="#C4C9B4" stroke-width="0.35"/>
<rect x="496.49" y="289.6" width="1.9" height="1.82" fill="#C2CFB8" opacity="0.85"/>
<rect x="496.49" y="291.79" width="1.9" height="1.85" fill="#CCD6B4" opacity="0.85"/>
<rect x="496.49" y="297.72" width="1.9" height="1.74" fill="#CCD6B4" opacity="0.85"/>
<rect x="496.49" y="305.59" width="1.9" height="0.72" fill="#CCD6B4" opacity="0.85"/>
<rect x="496.54" y="307.4" width="1.8" height="1.6" fill="#F1C08C"/>
<rect x="496.54" y="294.5" width="1.8" height="1.2" fill="#6F86AE"/>
<rect x="496.59" y="288.6" width="1.7" height="3.9" rx="0.6" fill="#0a0a0a"/>
<text font-size="1.6" font-weight="normal" text-anchor="middle" fill="#777" transform="translate(497.44 313.3) scale(1 1)" >22</text>
<rect x="514" y="207.2" width="2.2" height="102.2" rx="1" fill="url(#gC)" stroke="#C4C9B4" stroke-width="0.35"/>
<rect x="514.15" y="215.66" width="1.9" height="1.71" fill="#CCD6B4" opacity="0.85"/>
<rect x="514.15" y="223.15" width="1.9" height="1.46" fill="#CCD6B4" opacity="0.85"/>
<rect x="514.15" y="225.71" width="1.9" height="0.68" fill="#CCD6B4" opacity="0.85"/>
<rect x="514.15" y="226.74" width="1.9" height="1.25" fill="#C2CFB8" opacity="0.85"/>
<rect x="514.15" y="231.86" width="1.9" height="1.24" fill="#C2CFB8" opacity="0.85"/>
<rect x="514.15" y="237.44" width="1.9" height="0.92" fill="#CCD6B4" opacity="0.85"/>
<rect x="514.15" y="245.99" width="1.9" height="1.97" fill="#CCD6B4" opacity="0.85"/>
<rect x="514.15" y="249.21" width="1.9" height="1.69" fill="#CCD6B4" opacity="0.85"/>
<rect x="514.15" y="254.12" width="1.9" height="0.94" fill="#CCD6B4" opacity="0.85"/>
<rect x="514.15" y="259.75" width="1.9" height="1.5" fill="#CCD6B4" opacity="0.85"/>
<rect x="514.15" y="271.52" width="1.9" height="1.01" fill="#CCD6B4" opacity="0.85"/>
<rect x="514.15" y="282.09" width="1.9" height="0.95" fill="#C2CFB8" opacity="0.85"/>
<rect x="514.15" y="287.25" width="1.9" height="1.44" fill="#CCD6B4" opacity="0.85"/>
<rect x="514.15" y="289.05" width="1.9" height="1.95" fill="#C2CFB8" opacity="0.85"/>
<rect x="514.15" y="297.92" width="1.9" height="1.46" fill="#C2CFB8" opacity="0.85"/>
<rect x="514.15" y="299.99" width="1.9" height="0.62" fill="#CCD6B4" opacity="0.85"/>
<rect x="514.15" y="301" width="1.9" height="0.85" fill="#CCD6B4" opacity="0.85"/>
<rect x="514.15" y="307.92" width="1.9" height="0.8" fill="#CCD6B4" opacity="0.85"/>
<rect x="514.2" y="256.2" width="1.8" height="1.6" fill="#7A8CAC"/>
<rect x="514.2" y="265.9" width="1.8" height="2.2" fill="#7A8CAC"/>
<rect x="514.25" y="257.8" width="1.7" height="8.1" rx="0.6" fill="#0a0a0a"/>
<text font-size="1.6" font-weight="normal" text-anchor="middle" fill="#777" transform="translate(515.1 313.3) scale(1 1)" >1</text>
<rect x="518.84" y="209.7" width="2.2" height="99.7" rx="1" fill="url(#gC)" stroke="#C4C9B4" stroke-width="0.35"/>
<rect x="518.99" y="223.1" width="1.9" height="1.88" fill="#CCD6B4" opacity="0.85"/>
<rect x="518.99" y="226.63" width="1.9" height="1.82" fill="#C2CFB8" opacity="0.85"/>
<rect x="518.99" y="237.27" width="1.9" height="1.62" fill="#C2CFB8" opacity="0.85"/>
<rect x="518.99" y="241.7" width="1.9" height="1.65" fill="#CCD6B4" opacity="0.85"/>
<rect x="518.99" y="248.49" width="1.9" height="0.62" fill="#CCD6B4" opacity="0.85"/>
<rect x="518.99" y="253.84" width="1.9" height="1.53" fill="#CCD6B4" opacity="0.85"/>
<rect x="518.99" y="259.64" width="1.9" height="1.42" fill="#CCD6B4" opacity="0.85"/>
<rect x="518.99" y="265.24" width="1.9" height="1.93" fill="#CCD6B4" opacity="0.85"/>
<rect x="518.99" y="268.15" width="1.9" height="0.99" fill="#CCD6B4" opacity="0.85"/>
<rect x="518.99" y="270.37" width="1.9" height="1.29" fill="#C2CFB8" opacity="0.85"/>
<rect x="518.99" y="273.43" width="1.9" height="1.23" fill="#CCD6B4" opacity="0.85"/>
<rect x="518.99" y="280.58" width="1.9" height="1.76" fill="#CCD6B4" opacity="0.85"/>
<rect x="518.99" y="282.71" width="1.9" height="1.48" fill="#CCD6B4" opacity="0.85"/>
<rect x="518.99" y="291.97" width="1.9" height="0.85" fill="#CCD6B4" opacity="0.85"/>
<rect x="518.99" y="303.86" width="1.9" height="1.87" fill="#CCD6B4" opacity="0.85"/>
<rect x="519.04" y="247" width="1.8" height="1.2" fill="#6F86AE"/>
<text font-size="1.6" font-weight="normal" text-anchor="middle" fill="#777" transform="translate(519.94 313.3) scale(1 1)" >2</text>
<rect x="523.68" y="227.8" width="2.2" height="81.6" rx="1" fill="url(#gC)" stroke="#C4C9B4" stroke-width="0.35"/>
<rect x="523.83" y="228.8" width="1.9" height="1.51" fill="#C2CFB8" opacity="0.85"/>
<rect x="523.83" y="242.41" width="1.9" height="0.72" fill="#CCD6B4" opacity="0.85"/>
<rect x="523.83" y="244.58" width="1.9" height="1.28" fill="#C2CFB8" opacity="0.85"/>
<rect x="523.83" y="246.26" width="1.9" height="1.72" fill="#CCD6B4" opacity="0.85"/>
<rect x="523.83" y="249.46" width="1.9" height="0.8" fill="#CCD6B4" opacity="0.85"/>
<rect x="523.83" y="279.38" width="1.9" height="1.35" fill="#C2CFB8" opacity="0.85"/>
<rect x="523.83" y="286.75" width="1.9" height="1.27" fill="#CCD6B4" opacity="0.85"/>
<rect x="523.83" y="289.24" width="1.9" height="1.9" fill="#C2CFB8" opacity="0.85"/>
<rect x="523.83" y="291.47" width="1.9" height="0.87" fill="#CCD6B4" opacity="0.85"/>
<rect x="523.83" y="294.68" width="1.9" height="1.62" fill="#CCD6B4" opacity="0.85"/>
<rect x="523.83" y="298.81" width="1.9" height="1.13" fill="#CCD6B4" opacity="0.85"/>
<rect x="523.83" y="305.18" width="1.9" height="1.8" fill="#C2CFB8" opacity="0.85"/>
<rect x="523.88" y="265" width="1.8" height="1.2" fill="#6F86AE"/>
<text font-size="1.6" font-weight="normal" text-anchor="middle" fill="#777" transform="translate(524.78 313.3) scale(1 1)" >3</text>
<rect x="528.52" y="230.9" width="2.2" height="78.5" rx="1" fill="url(#gC)" stroke="#C4C9B4" stroke-width="0.35"/>
<rect x="528.67" y="231.9" width="1.9" height="1.86" fill="#CCD6B4" opacity="0.85"/>
<rect x="528.67" y="237.98" width="1.9" height="0.79" fill="#C2CFB8" opacity="0.85"/>
<rect x="528.67" y="241.13" width="1.9" height="1.71" fill="#CCD6B4" opacity="0.85"/>
<rect x="528.67" y="244.16" width="1.9" height="0.62" fill="#CCD6B4" opacity="0.85"/>
<rect x="528.67" y="246.46" width="1.9" height="1.96" fill="#CCD6B4" opacity="0.85"/>
<rect x="528.67" y="251.74" width="1.9" height="0.7" fill="#CCD6B4" opacity="0.85"/>
<rect x="528.67" y="255.4" width="1.9" height="0.86" fill="#C2CFB8" opacity="0.85"/>
<rect x="528.67" y="258.05" width="1.9" height="1.9" fill="#CCD6B4" opacity="0.85"/>
<rect x="528.67" y="265.91" width="1.9" height="1.44" fill="#C2CFB8" opacity="0.85"/>
<rect x="528.67" y="271.18" width="1.9" height="1.17" fill="#CCD6B4" opacity="0.85"/>
<rect x="528.67" y="286.6" width="1.9" height="1.74" fill="#C2CFB8" opacity="0.85"/>
<rect x="528.67" y="302.73" width="1.9" height="1.35" fill="#C2CFB8" opacity="0.85"/>
<rect x="528.72" y="252.5" width="1.8" height="1.2" fill="#6F86AE"/>
<text font-size="1.6" font-weight="normal" text-anchor="middle" fill="#777" transform="translate(529.62 313.3) scale(1 1)" >4</text>
<rect x="533.36" y="234.8" width="2.2" height="74.6" rx="1" fill="url(#gC)" stroke="#C4C9B4" stroke-width="0.35"/>
<rect x="533.51" y="237.84" width="1.9" height="0.96" fill="#CCD6B4" opacity="0.85"/>
<rect x="533.51" y="239.39" width="1.9" height="1.13" fill="#CCD6B4" opacity="0.85"/>
<rect x="533.51" y="247.95" width="1.9" height="1.73" fill="#CCD6B4" opacity="0.85"/>
<rect x="533.51" y="252.33" width="1.9" height="1.26" fill="#CCD6B4" opacity="0.85"/>
<rect x="533.51" y="262.48" width="1.9" height="0.62" fill="#CCD6B4" opacity="0.85"/>
<rect x="533.51" y="263.64" width="1.9" height="1.66" fill="#C2CFB8" opacity="0.85"/>
<rect x="533.51" y="278.18" width="1.9" height="1.45" fill="#CCD6B4" opacity="0.85"/>
<rect x="533.51" y="280.61" width="1.9" height="0.89" fill="#CCD6B4" opacity="0.85"/>
<rect x="533.51" y="294.4" width="1.9" height="1.47" fill="#CCD6B4" opacity="0.85"/>
<rect x="533.51" y="299.84" width="1.9" height="1.65" fill="#CCD6B4" opacity="0.85"/>
<rect x="533.51" y="305.5" width="1.9" height="0.69" fill="#CCD6B4" opacity="0.85"/>
<rect x="533.56" y="254" width="1.8" height="1.2" fill="#6F86AE"/>
<text font-size="1.6" font-weight="normal" text-anchor="middle" fill="#777" transform="translate(534.46 313.3) scale(1 1)" >5</text>
<rect x="538.2" y="239" width="2.2" height="70.4" rx="1" fill="url(#gC)" stroke="#C4C9B4" stroke-width="0.35"/>
<rect x="538.35" y="241.85" width="1.9" height="1.48" fill="#CCD6B4" opacity="0.85"/>
<rect x="538.35" y="246.59" width="1.9" height="0.7" fill="#C2CFB8" opacity="0.85"/>
<rect x="538.35" y="248.53" width="1.9" height="1.68" fill="#CCD6B4" opacity="0.85"/>
<rect x="538.35" y="250.89" width="1.9" height="1.73" fill="#CCD6B4" opacity="0.85"/>
<rect x="538.35" y="256.88" width="1.9" height="1.89" fill="#CCD6B4" opacity="0.85"/>
<rect x="538.35" y="259.22" width="1.9" height="1.83" fill="#CCD6B4" opacity="0.85"/>
<rect x="538.35" y="264.21" width="1.9" height="1.69" fill="#CCD6B4" opacity="0.85"/>
<rect x="538.35" y="267.19" width="1.9" height="0.71" fill="#C2CFB8" opacity="0.85"/>
<rect x="538.35" y="269.25" width="1.9" height="1" fill="#CCD6B4" opacity="0.85"/>
<rect x="538.35" y="271.63" width="1.9" height="1.11" fill="#C2CFB8" opacity="0.85"/>
<rect x="538.35" y="279.43" width="1.9" height="1.04" fill="#C2CFB8" opacity="0.85"/>
<rect x="538.35" y="282.11" width="1.9" height="0.95" fill="#CCD6B4" opacity="0.85"/>
<rect x="538.35" y="283.91" width="1.9" height="1.15" fill="#CCD6B4" opacity="0.85"/>
<rect x="538.35" y="289.48" width="1.9" height="1.39" fill="#C2CFB8" opacity="0.85"/>
<rect x="538.35" y="292.49" width="1.9" height="0.99" fill="#CCD6B4" opacity="0.85"/>
<rect x="538.35" y="297.27" width="1.9" height="1.73" fill="#CCD6B4" opacity="0.85"/>
<rect x="538.35" y="300.47" width="1.9" height="0.72" fill="#C2CFB8" opacity="0.85"/>
<rect x="538.35" y="308.38" width="1.9" height="1.67" fill="#CCD6B4" opacity="0.85"/>
<rect x="538.4" y="263" width="1.8" height="1.2" fill="#6F86AE"/>
<text font-size="1.6" font-weight="normal" text-anchor="middle" fill="#777" transform="translate(539.3 313.3) scale(1 1)" >6</text>
<rect x="543.04" y="243.8" width="2.2" height="65.6" rx="1" fill="url(#gC)" stroke="#C4C9B4" stroke-width="0.35"/>
<rect x="543.19" y="262.49" width="1.9" height="1.19" fill="#CCD6B4" opacity="0.85"/>
<rect x="543.19" y="265.09" width="1.9" height="1.99" fill="#CCD6B4" opacity="0.85"/>
<rect x="543.19" y="267.69" width="1.9" height="1.19" fill="#C2CFB8" opacity="0.85"/>
<rect x="543.19" y="269.27" width="1.9" height="1.03" fill="#CCD6B4" opacity="0.85"/>
<rect x="543.19" y="271.77" width="1.9" height="0.85" fill="#CCD6B4" opacity="0.85"/>
<rect x="543.19" y="273.79" width="1.9" height="1.87" fill="#CCD6B4" opacity="0.85"/>
<rect x="543.19" y="276.24" width="1.9" height="0.9" fill="#C2CFB8" opacity="0.85"/>
<rect x="543.19" y="278.34" width="1.9" height="0.91" fill="#CCD6B4" opacity="0.85"/>
<rect x="543.19" y="279.81" width="1.9" height="1.66" fill="#CCD6B4" opacity="0.85"/>
<rect x="543.19" y="283" width="1.9" height="1.27" fill="#C2CFB8" opacity="0.85"/>
<rect x="543.19" y="288.76" width="1.9" height="1.28" fill="#CCD6B4" opacity="0.85"/>
<rect x="543.19" y="291.75" width="1.9" height="1.72" fill="#CCD6B4" opacity="0.85"/>
<rect x="543.19" y="296.82" width="1.9" height="0.93" fill="#CCD6B4" opacity="0.85"/>
<rect x="543.19" y="301.53" width="1.9" height="0.82" fill="#CCD6B4" opacity="0.85"/>
<rect x="543.19" y="306.12" width="1.9" height="1.99" fill="#CCD6B4" opacity="0.85"/>
<rect x="543.24" y="268.5" width="1.8" height="1.2" fill="#6F86AE"/>
<text font-size="1.6" font-weight="normal" text-anchor="middle" fill="#777" transform="translate(544.14 313.3) scale(1 1)" >7</text>
<rect x="547.88" y="249.7" width="2.2" height="59.7" rx="1" fill="url(#gC)" stroke="#C4C9B4" stroke-width="0.35"/>
<rect x="548.03" y="250.7" width="1.9" height="1.68" fill="#C2CFB8" opacity="0.85"/>
<rect x="548.03" y="253.95" width="1.9" height="1.75" fill="#CCD6B4" opacity="0.85"/>
<rect x="548.03" y="264.29" width="1.9" height="1.88" fill="#C2CFB8" opacity="0.85"/>
<rect x="548.03" y="268.68" width="1.9" height="1.76" fill="#CCD6B4" opacity="0.85"/>
<rect x="548.03" y="285.89" width="1.9" height="1.46" fill="#CCD6B4" opacity="0.85"/>
<rect x="548.03" y="288.46" width="1.9" height="1.02" fill="#CCD6B4" opacity="0.85"/>
<rect x="548.03" y="290.78" width="1.9" height="0.96" fill="#C2CFB8" opacity="0.85"/>
<rect x="548.03" y="297.35" width="1.9" height="0.8" fill="#CCD6B4" opacity="0.85"/>
<rect x="548.03" y="299.51" width="1.9" height="0.85" fill="#C2CFB8" opacity="0.85"/>
<rect x="548.03" y="301.55" width="1.9" height="0.73" fill="#CCD6B4" opacity="0.85"/>
<rect x="548.03" y="302.76" width="1.9" height="1.17" fill="#C2CFB8" opacity="0.85"/>
<rect x="548.03" y="307.64" width="1.9" height="1.75" fill="#CCD6B4" opacity="0.85"/>
<rect x="548.08" y="268" width="1.8" height="1.2" fill="#6F86AE"/>
<text font-size="1.6" font-weight="normal" text-anchor="middle" fill="#777" transform="translate(548.98 313.3) scale(1 1)" >8</text>
<rect x="552.72" y="252.4" width="2.2" height="57" rx="1" fill="url(#gC)" stroke="#C4C9B4" stroke-width="0.35"/>
<rect x="552.87" y="253.4" width="1.9" height="0.62" fill="#CCD6B4" opacity="0.85"/>
<rect x="552.87" y="258.71" width="1.9" height="0.63" fill="#CCD6B4" opacity="0.85"/>
<rect x="552.87" y="260.62" width="1.9" height="0.75" fill="#CCD6B4" opacity="0.85"/>
<rect x="552.87" y="276.93" width="1.9" height="0.72" fill="#CCD6B4" opacity="0.85"/>
<rect x="552.87" y="280.9" width="1.9" height="1.25" fill="#C2CFB8" opacity="0.85"/>
<rect x="552.87" y="285.65" width="1.9" height="1.38" fill="#C2CFB8" opacity="0.85"/>
<rect x="552.87" y="291.06" width="1.9" height="1.75" fill="#C2CFB8" opacity="0.85"/>
<rect x="552.87" y="295.45" width="1.9" height="1.37" fill="#CCD6B4" opacity="0.85"/>
<rect x="552.87" y="305.74" width="1.9" height="0.62" fill="#CCD6B4" opacity="0.85"/>
<rect x="552.92" y="279.5" width="1.8" height="1.2" fill="#6F86AE"/>
<rect x="552.92" y="268.7" width="1.8" height="1.6" fill="#7A8CAC"/>
<rect x="552.92" y="279.3" width="1.8" height="2.2" fill="#7A8CAC"/>
<rect x="552.97" y="270.3" width="1.7" height="9" rx="0.6" fill="#0a0a0a"/>
<text font-size="1.6" font-weight="normal" text-anchor="middle" fill="#777" transform="translate(553.82 313.3) scale(1 1)" >9</text>
<rect x="557.56" y="253.8" width="2.2" height="55.6" rx="1" fill="url(#gC)" stroke="#C4C9B4" stroke-width="0.35"/>
<rect x="557.71" y="254.8" width="1.9" height="1.33" fill="#CCD6B4" opacity="0.85"/>
<rect x="557.71" y="256.93" width="1.9" height="1.5" fill="#CCD6B4" opacity="0.85"/>
<rect x="557.71" y="270.66" width="1.9" height="1.17" fill="#CCD6B4" opacity="0.85"/>
<rect x="557.71" y="275.78" width="1.9" height="1.87" fill="#CCD6B4" opacity="0.85"/>
<rect x="557.71" y="282.09" width="1.9" height="1.65" fill="#CCD6B4" opacity="0.85"/>
<rect x="557.71" y="284.15" width="1.9" height="0.77" fill="#CCD6B4" opacity="0.85"/>
<rect x="557.71" y="287.58" width="1.9" height="0.93" fill="#CCD6B4" opacity="0.85"/>
<rect x="557.71" y="294.08" width="1.9" height="1.73" fill="#C2CFB8" opacity="0.85"/>
<rect x="557.71" y="296.95" width="1.9" height="1.86" fill="#C2CFB8" opacity="0.85"/>
<rect x="557.71" y="300.96" width="1.9" height="0.94" fill="#CCD6B4" opacity="0.85"/>
<rect x="557.76" y="271" width="1.8" height="1.2" fill="#6F86AE"/>
<text font-size="1.6" font-weight="normal" text-anchor="middle" fill="#777" transform="translate(558.66 313.3) scale(1 1)" >10</text>
<rect x="562.4" y="254.2" width="2.2" height="55.2" rx="1" fill="url(#gC)" stroke="#C4C9B4" stroke-width="0.35"/>
<rect x="562.55" y="255.2" width="1.9" height="1.26" fill="#CCD6B4" opacity="0.85"/>
<rect x="562.55" y="258.15" width="1.9" height="1.86" fill="#C2CFB8" opacity="0.85"/>
<rect x="562.55" y="260.83" width="1.9" height="1.26" fill="#C2CFB8" opacity="0.85"/>
<rect x="562.55" y="265.36" width="1.9" height="1.83" fill="#CCD6B4" opacity="0.85"/>
<rect x="562.55" y="271.22" width="1.9" height="1.6" fill="#CCD6B4" opacity="0.85"/>
<rect x="562.55" y="274.53" width="1.9" height="1.22" fill="#CCD6B4" opacity="0.85"/>
<rect x="562.55" y="276.51" width="1.9" height="1.59" fill="#CCD6B4" opacity="0.85"/>
<rect x="562.55" y="283.86" width="1.9" height="0.92" fill="#C2CFB8" opacity="0.85"/>
<rect x="562.55" y="287.5" width="1.9" height="1.98" fill="#CCD6B4" opacity="0.85"/>
<rect x="562.6" y="275" width="1.8" height="1.2" fill="#6F86AE"/>
<text font-size="1.6" font-weight="normal" text-anchor="middle" fill="#777" transform="translate(563.5 313.3) scale(1 1)" >11</text>
<rect x="567.24" y="254.7" width="2.2" height="54.7" rx="1" fill="url(#gC)" stroke="#C4C9B4" stroke-width="0.35"/>
<rect x="567.39" y="257.59" width="1.9" height="1.69" fill="#CCD6B4" opacity="0.85"/>
<rect x="567.39" y="262.63" width="1.9" height="1.71" fill="#CCD6B4" opacity="0.85"/>
<rect x="567.39" y="269.33" width="1.9" height="1.82" fill="#CCD6B4" opacity="0.85"/>
<rect x="567.39" y="271.48" width="1.9" height="1.29" fill="#CCD6B4" opacity="0.85"/>
<rect x="567.39" y="273.47" width="1.9" height="1.72" fill="#C2CFB8" opacity="0.85"/>
<rect x="567.39" y="278.36" width="1.9" height="0.8" fill="#CCD6B4" opacity="0.85"/>
<rect x="567.39" y="282.1" width="1.9" height="1.42" fill="#C2CFB8" opacity="0.85"/>
<rect x="567.39" y="284.08" width="1.9" height="0.96" fill="#CCD6B4" opacity="0.85"/>
<rect x="567.39" y="286.58" width="1.9" height="1.7" fill="#CCD6B4" opacity="0.85"/>
<rect x="567.39" y="295.68" width="1.9" height="0.65" fill="#C2CFB8" opacity="0.85"/>
<rect x="567.39" y="296.85" width="1.9" height="1.15" fill="#CCD6B4" opacity="0.85"/>
<rect x="567.39" y="300.51" width="1.9" height="1.63" fill="#CCD6B4" opacity="0.85"/>
<rect x="567.39" y="305.9" width="1.9" height="1.11" fill="#C2CFB8" opacity="0.85"/>
<rect x="567.39" y="308.23" width="1.9" height="0.66" fill="#CCD6B4" opacity="0.85"/>
<rect x="567.44" y="269" width="1.8" height="1.2" fill="#6F86AE"/>
<text font-size="1.6" font-weight="normal" text-anchor="middle" fill="#777" transform="translate(568.34 313.3) scale(1 1)" >12</text>
<rect x="572.08" y="262.8" width="2.2" height="46.6" rx="1" fill="url(#gC)" stroke="#C4C9B4" stroke-width="0.35"/>
<rect x="572.23" y="270.92" width="1.9" height="1.69" fill="#CCD6B4" opacity="0.85"/>
<rect x="572.23" y="273.19" width="1.9" height="1.37" fill="#CCD6B4" opacity="0.85"/>
<rect x="572.23" y="275.18" width="1.9" height="1.25" fill="#CCD6B4" opacity="0.85"/>
<rect x="572.23" y="280.38" width="1.9" height="1.14" fill="#CCD6B4" opacity="0.85"/>
<rect x="572.23" y="282.36" width="1.9" height="0.98" fill="#CCD6B4" opacity="0.85"/>
<rect x="572.23" y="286.56" width="1.9" height="0.98" fill="#CCD6B4" opacity="0.85"/>
<rect x="572.23" y="291.73" width="1.9" height="1.87" fill="#CCD6B4" opacity="0.85"/>
<rect x="572.23" y="298.05" width="1.9" height="1.15" fill="#CCD6B4" opacity="0.85"/>
<rect x="572.23" y="299.72" width="1.9" height="1.43" fill="#CCD6B4" opacity="0.85"/>
<rect x="572.23" y="302.09" width="1.9" height="1.36" fill="#C2CFB8" opacity="0.85"/>
<rect x="572.23" y="306.28" width="1.9" height="0.89" fill="#C2CFB8" opacity="0.85"/>
<rect x="572.33" y="262.3" width="1.7" height="6.2" rx="0.6" fill="#0a0a0a"/>
<text font-size="1.6" font-weight="normal" text-anchor="middle" fill="#777" transform="translate(573.18 313.3) scale(1 1)" >13</text>
<rect x="576.92" y="265.9" width="2.2" height="43.5" rx="1" fill="url(#gC)" stroke="#C4C9B4" stroke-width="0.35"/>
<rect x="577.07" y="266.9" width="1.9" height="1.01" fill="#CCD6B4" opacity="0.85"/>
<rect x="577.07" y="277.99" width="1.9" height="1.82" fill="#CCD6B4" opacity="0.85"/>
<rect x="577.07" y="280.24" width="1.9" height="1.2" fill="#CCD6B4" opacity="0.85"/>
<rect x="577.07" y="284.1" width="1.9" height="0.82" fill="#CCD6B4" opacity="0.85"/>
<rect x="577.07" y="285.47" width="1.9" height="1.53" fill="#CCD6B4" opacity="0.85"/>
<rect x="577.07" y="287.81" width="1.9" height="1.19" fill="#CCD6B4" opacity="0.85"/>
<rect x="577.07" y="292.07" width="1.9" height="1.15" fill="#CCD6B4" opacity="0.85"/>
<rect x="577.07" y="295.97" width="1.9" height="1.26" fill="#CCD6B4" opacity="0.85"/>
<rect x="577.17" y="265.8" width="1.7" height="6.2" rx="0.6" fill="#0a0a0a"/>
<text font-size="1.6" font-weight="normal" text-anchor="middle" fill="#777" transform="translate(578.02 313.3) scale(1 1)" >14</text>
<rect x="581.76" y="267.6" width="2.2" height="41.8" rx="1" fill="url(#gC)" stroke="#C4C9B4" stroke-width="0.35"/>
<rect x="581.91" y="268.6" width="1.9" height="1.18" fill="#CCD6B4" opacity="0.85"/>
<rect x="581.91" y="271.32" width="1.9" height="1.83" fill="#C2CFB8" opacity="0.85"/>
<rect x="581.91" y="276.69" width="1.9" height="0.87" fill="#CCD6B4" opacity="0.85"/>
<rect x="581.91" y="296.88" width="1.9" height="1.12" fill="#C2CFB8" opacity="0.85"/>
<rect x="581.91" y="299.1" width="1.9" height="0.93" fill="#CCD6B4" opacity="0.85"/>
<rect x="581.91" y="300.6" width="1.9" height="1.32" fill="#CCD6B4" opacity="0.85"/>
<rect x="581.91" y="308.22" width="1.9" height="0.67" fill="#CCD6B4" opacity="0.85"/>
<rect x="581.96" y="275.5" width="1.8" height="1.2" fill="#6F86AE"/>
<rect x="582.01" y="267.6" width="1.7" height="6.4" rx="0.6" fill="#0a0a0a"/>
<text font-size="1.6" font-weight="normal" text-anchor="middle" fill="#777" transform="translate(582.86 313.3) scale(1 1)" >15</text>
<rect x="586.6" y="272.1" width="2.2" height="37.3" rx="1" fill="url(#gC)" stroke="#C4C9B4" stroke-width="0.35"/>
<rect x="586.75" y="274.93" width="1.9" height="1.6" fill="#CCD6B4" opacity="0.85"/>
<rect x="586.75" y="287.35" width="1.9" height="0.86" fill="#CCD6B4" opacity="0.85"/>
<rect x="586.75" y="289.92" width="1.9" height="1.96" fill="#CCD6B4" opacity="0.85"/>
<rect x="586.75" y="292.81" width="1.9" height="1.48" fill="#C2CFB8" opacity="0.85"/>
<rect x="586.75" y="297.22" width="1.9" height="0.66" fill="#C2CFB8" opacity="0.85"/>
<rect x="586.75" y="299.67" width="1.9" height="0.77" fill="#CCD6B4" opacity="0.85"/>
<rect x="586.75" y="301.55" width="1.9" height="1.28" fill="#CCD6B4" opacity="0.85"/>
<rect x="586.75" y="304.33" width="1.9" height="1.77" fill="#CCD6B4" opacity="0.85"/>
<rect x="586.85" y="287" width="1.7" height="4" rx="0.6" fill="#0a0a0a"/>
<text font-size="1.6" font-weight="normal" text-anchor="middle" fill="#777" transform="translate(587.7 313.3) scale(1 1)" >16</text>
<rect x="591.44" y="275.4" width="2.2" height="34" rx="1" fill="url(#gC)" stroke="#C4C9B4" stroke-width="0.35"/>
<rect x="591.59" y="279.47" width="1.9" height="0.81" fill="#CCD6B4" opacity="0.85"/>
<rect x="591.59" y="283.41" width="1.9" height="1.05" fill="#CCD6B4" opacity="0.85"/>
<rect x="591.59" y="284.98" width="1.9" height="1.48" fill="#CCD6B4" opacity="0.85"/>
<rect x="591.59" y="287.48" width="1.9" height="1.11" fill="#CCD6B4" opacity="0.85"/>
<rect x="591.59" y="288.99" width="1.9" height="1.85" fill="#CCD6B4" opacity="0.85"/>
<rect x="591.59" y="296.03" width="1.9" height="1.73" fill="#CCD6B4" opacity="0.85"/>
<rect x="591.59" y="307.43" width="1.9" height="0.85" fill="#CCD6B4" opacity="0.85"/>
<rect x="591.64" y="285" width="1.8" height="1.2" fill="#6F86AE"/>
<text font-size="1.6" font-weight="normal" text-anchor="middle" fill="#777" transform="translate(592.54 313.3) scale(1 1)" >17</text>
<rect x="596.28" y="276.6" width="2.2" height="32.8" rx="1" fill="url(#gC)" stroke="#C4C9B4" stroke-width="0.35"/>
<rect x="596.43" y="277.6" width="1.9" height="0.7" fill="#C2CFB8" opacity="0.85"/>
<rect x="596.43" y="279.07" width="1.9" height="1.32" fill="#CCD6B4" opacity="0.85"/>
<rect x="596.43" y="290.04" width="1.9" height="1.98" fill="#C2CFB8" opacity="0.85"/>
<rect x="596.43" y="292.93" width="1.9" height="1.59" fill="#C2CFB8" opacity="0.85"/>
<rect x="596.43" y="294.85" width="1.9" height="1.41" fill="#CCD6B4" opacity="0.85"/>
<rect x="596.43" y="299.48" width="1.9" height="1.49" fill="#CCD6B4" opacity="0.85"/>
<rect x="596.43" y="302.63" width="1.9" height="1.05" fill="#CCD6B4" opacity="0.85"/>
<rect x="596.43" y="307.11" width="1.9" height="1.55" fill="#CCD6B4" opacity="0.85"/>
<rect x="596.48" y="283" width="1.8" height="1.2" fill="#6F86AE"/>
<text font-size="1.6" font-weight="normal" text-anchor="middle" fill="#777" transform="translate(597.38 313.3) scale(1 1)" >18</text>
<rect x="601.12" y="285.6" width="2.2" height="23.8" rx="1" fill="url(#gC)" stroke="#C4C9B4" stroke-width="0.35"/>
<rect x="601.27" y="286.6" width="1.9" height="1.09" fill="#CCD6B4" opacity="0.85"/>
<rect x="601.27" y="288.74" width="1.9" height="1.16" fill="#CCD6B4" opacity="0.85"/>
<rect x="601.27" y="293.31" width="1.9" height="1.66" fill="#C2CFB8" opacity="0.85"/>
<rect x="601.27" y="295.91" width="1.9" height="1.95" fill="#CCD6B4" opacity="0.85"/>
<rect x="601.27" y="299.21" width="1.9" height="0.85" fill="#CCD6B4" opacity="0.85"/>
<rect x="601.27" y="301.78" width="1.9" height="1.05" fill="#CCD6B4" opacity="0.85"/>
<rect x="601.27" y="306.29" width="1.9" height="1.5" fill="#CCD6B4" opacity="0.85"/>
<rect x="601.32" y="295" width="1.8" height="1.2" fill="#6F86AE"/>
<text font-size="1.6" font-weight="normal" text-anchor="middle" fill="#777" transform="translate(602.22 313.3) scale(1 1)" >19</text>
<rect x="605.96" y="282.9" width="2.2" height="26.5" rx="1" fill="url(#gC)" stroke="#C4C9B4" stroke-width="0.35"/>
<rect x="606.11" y="286.76" width="1.9" height="1.39" fill="#C2CFB8" opacity="0.85"/>
<rect x="606.11" y="291.65" width="1.9" height="1.14" fill="#CCD6B4" opacity="0.85"/>
<rect x="606.11" y="293.95" width="1.9" height="1.32" fill="#CCD6B4" opacity="0.85"/>
<rect x="606.11" y="301.97" width="1.9" height="1.63" fill="#C2CFB8" opacity="0.85"/>
<rect x="606.16" y="293.5" width="1.8" height="1.2" fill="#6F86AE"/>
<text font-size="1.6" font-weight="normal" text-anchor="middle" fill="#777" transform="translate(607.06 313.3) scale(1 1)" >20</text>
<rect x="610.8" y="290.6" width="2.2" height="18.8" rx="1" fill="url(#gC)" stroke="#C4C9B4" stroke-width="0.35"/>
<rect x="610.95" y="297.91" width="1.9" height="1.99" fill="#C2CFB8" opacity="0.85"/>
<rect x="611" y="294" width="1.8" height="1.2" fill="#6F86AE"/>
<rect x="611" y="293.6" width="1.8" height="0.8" fill="#E8704A"/>
<rect x="611.05" y="290.6" width="1.7" height="2.4" rx="0.6" fill="#0a0a0a"/>
<text font-size="1.6" font-weight="normal" text-anchor="middle" fill="#777" transform="translate(611.9 313.3) scale(1 1)" >21</text>
<rect x="615.64" y="288.6" width="2.2" height="20.8" rx="1" fill="url(#gC)" stroke="#C4C9B4" stroke-width="0.35"/>
<rect x="615.79" y="295.46" width="1.9" height="1.72" fill="#CCD6B4" opacity="0.85"/>
<rect x="615.79" y="297.62" width="1.9" height="0.65" fill="#C2CFB8" opacity="0.85"/>
<rect x="615.79" y="299.83" width="1.9" height="0.76" fill="#CCD6B4" opacity="0.85"/>
<rect x="615.79" y="304.04" width="1.9" height="1.98" fill="#CCD6B4" opacity="0.85"/>
<rect x="615.79" y="307.63" width="1.9" height="1.62" fill="#CCD6B4" opacity="0.85"/>
<rect x="615.84" y="294.5" width="1.8" height="1.2" fill="#6F86AE"/>
<rect x="615.89" y="288.6" width="1.7" height="3.9" rx="0.6" fill="#0a0a0a"/>
<text font-size="1.6" font-weight="normal" text-anchor="middle" fill="#777" transform="translate(616.74 313.3) scale(1 1)" >22</text>
<text font-size="5.75" font-weight="bold" text-anchor="middle" fill="#111" transform="translate(443.3 209.9) scale(1 1.14)"  stroke="#111" stroke-width="0.17">Non-Cancer</text>
<text font-size="5.8" font-weight="bold" text-anchor="middle" fill="#111" transform="translate(566.9 209.9) scale(1 1.14)"  stroke="#111" stroke-width="0.17">Gastric Cancer</text>
<rect x="480.4" y="281.5" width="19.8" height="32.8" fill="none" stroke="#555" stroke-width="0.6"/>
<rect x="599.5" y="281.1" width="19.9" height="33.2" fill="none" stroke="#555" stroke-width="0.6"/>
<rect x="441.4" y="323.3" width="59.4" height="91.1" rx="0.8" fill="#fff" stroke="#666" stroke-width="0.6"/>
<clipPath id="c00"><rect x="447.4" y="332.5" width="5.7" height="30.9" rx="2.8"/><rect x="447.4" y="364.6" width="5.7" height="39.1" rx="2.8"/></clipPath>
<g clip-path="url(#c00)">
<rect x="447.4" y="332.5" width="5.7" height="71.2" fill="#F7F0AE" stroke="none" stroke-width="0" />
<rect x="447.4" y="332.5" width="5.7" height="1.43" fill="#F8F2AE" stroke="none" stroke-width="0" />
<rect x="447.4" y="334.53" width="5.7" height="1.43" fill="#F8F2AE" stroke="none" stroke-width="0" />
<rect x="447.4" y="338.26" width="5.7" height="0.98" fill="#F8F2AE" stroke="none" stroke-width="0" />
<rect x="447.4" y="344.32" width="5.7" height="1.29" fill="#F8F2AE" stroke="none" stroke-width="0" />
<rect x="447.4" y="346.87" width="5.7" height="0.61" fill="#F8F2AE" stroke="none" stroke-width="0" />
<rect x="447.4" y="352.53" width="5.7" height="2.28" fill="#D3DDB4" stroke="none" stroke-width="0" />
<rect x="447.4" y="355.62" width="5.7" height="1.65" fill="#CBD8B4" stroke="none" stroke-width="0" />
<rect x="447.4" y="357.97" width="5.7" height="1.3" fill="#D3DDB4" stroke="none" stroke-width="0" />
<rect x="447.4" y="361.36" width="5.7" height="1.61" fill="#CBD8B4" stroke="none" stroke-width="0" />
<rect x="447.4" y="364.07" width="5.7" height="1.97" fill="#FAF4B4" stroke="none" stroke-width="0" />
<rect x="447.4" y="367.38" width="5.7" height="0.97" fill="#F4E6A2" stroke="none" stroke-width="0" />
<rect x="447.4" y="369.57" width="5.7" height="1.54" fill="#F4E6A2" stroke="none" stroke-width="0" />
<rect x="447.4" y="371.45" width="5.7" height="2.26" fill="#F6EBA6" stroke="none" stroke-width="0" />
<rect x="447.4" y="375.09" width="5.7" height="1.65" fill="#F0C48C" stroke="none" stroke-width="0" />
<rect x="447.4" y="376.94" width="5.7" height="0.72" fill="#F8F2AE" stroke="none" stroke-width="0" />
<rect x="447.4" y="378.24" width="5.7" height="1.07" fill="#FAF4B4" stroke="none" stroke-width="0" />
<rect x="447.4" y="380.44" width="5.7" height="2.12" fill="#F3D49C" stroke="none" stroke-width="0" />
<rect x="447.4" y="383.44" width="5.7" height="0.63" fill="#FAF4B4" stroke="none" stroke-width="0" />
<rect x="447.4" y="384.88" width="5.7" height="2.41" fill="#F4E6A2" stroke="none" stroke-width="0" />
<rect x="447.4" y="387.7" width="5.7" height="2.19" fill="#F6EBA6" stroke="none" stroke-width="0" />
<rect x="447.4" y="390.4" width="5.7" height="0.83" fill="#F8F2AE" stroke="none" stroke-width="0" />
<rect x="447.4" y="391.5" width="5.7" height="0.92" fill="#F4E6A2" stroke="none" stroke-width="0" />
<rect x="447.4" y="392.96" width="5.7" height="1.46" fill="#F4DCA4" stroke="none" stroke-width="0" />
<rect x="447.4" y="395.29" width="5.7" height="1.89" fill="#FAF4B4" stroke="none" stroke-width="0" />
<rect x="447.4" y="400.81" width="5.7" height="2.35" fill="#F8F2AE" stroke="none" stroke-width="0" />
<rect x="447.4" y="332.5" width="5.7" height="5" fill="#EFB882" stroke="none" stroke-width="0" />
<rect x="447.4" y="338.5" width="5.7" height="3" fill="#F2C890" stroke="none" stroke-width="0" />
<rect x="447.4" y="392" width="5.7" height="3" fill="#F2C890" stroke="none" stroke-width="0" opacity="0.8"/>
<rect x="447.4" y="396.5" width="5.7" height="2" fill="#F0C08A" stroke="none" stroke-width="0" opacity="0.8"/>
<rect x="447.4" y="361.8" width="5.7" height="1.8" fill="#5378B8" stroke="none" stroke-width="0" />
<rect x="447.4" y="364.6" width="5.7" height="1.2" fill="#5D86C4" stroke="none" stroke-width="0" />
</g>
<rect x="447.4" y="332.5" width="5.7" height="30.9" rx="2.8" fill="none" stroke="#8E8E86" stroke-width="0.45"/>
<rect x="447.4" y="364.6" width="5.7" height="39.1" rx="2.8" fill="none" stroke="#8E8E86" stroke-width="0.45"/>
<path d="M448.9,363.2 L451.6,363.2 L450.25,364.2 Z" fill="#333"/>
<path d="M448.9,364.9 L451.6,364.9 L450.25,363.9 Z" fill="#333"/>
<text font-size="5.6" font-weight="normal" text-anchor="middle" fill="#333" transform="translate(450.25 412) scale(1 1)" >19</text>
<clipPath id="c10"><rect x="461.3" y="325.1" width="5.7" height="33" rx="2.8"/><rect x="461.3" y="359.3" width="5.7" height="44.4" rx="2.8"/></clipPath>
<g clip-path="url(#c10)">
<rect x="461.3" y="325.1" width="5.7" height="78.6" fill="#F4F0B0" stroke="none" stroke-width="0" />
<rect x="461.3" y="325.1" width="5.7" height="1.62" fill="#DDE4B0" stroke="none" stroke-width="0" />
<rect x="461.3" y="327.63" width="5.7" height="1.02" fill="#FAF4B4" stroke="none" stroke-width="0" />
<rect x="461.3" y="329.51" width="5.7" height="1.55" fill="#F8F2AE" stroke="none" stroke-width="0" />
<rect x="461.3" y="342.42" width="5.7" height="0.57" fill="#FAF4B4" stroke="none" stroke-width="0" />
<rect x="461.3" y="343.68" width="5.7" height="0.64" fill="#F6EBA6" stroke="none" stroke-width="0" />
<rect x="461.3" y="344.62" width="5.7" height="0.56" fill="#FAF4B4" stroke="none" stroke-width="0" />
<rect x="461.3" y="345.41" width="5.7" height="2.05" fill="#F8F2AE" stroke="none" stroke-width="0" />
<rect x="461.3" y="348.21" width="5.7" height="1.4" fill="#DDE4B0" stroke="none" stroke-width="0" />
<rect x="461.3" y="350.81" width="5.7" height="0.71" fill="#CBD8B4" stroke="none" stroke-width="0" />
<rect x="461.3" y="351.95" width="5.7" height="0.94" fill="#D3DDB4" stroke="none" stroke-width="0" />
<rect x="461.3" y="353.54" width="5.7" height="1.98" fill="#F4E6A2" stroke="none" stroke-width="0" />
<rect x="461.3" y="356.78" width="5.7" height="0.66" fill="#F6EBA6" stroke="none" stroke-width="0" />
<rect x="461.3" y="357.66" width="5.7" height="1.01" fill="#FAF4B4" stroke="none" stroke-width="0" />
<rect x="461.3" y="360.9" width="5.7" height="1.86" fill="#F6EBA6" stroke="none" stroke-width="0" />
<rect x="461.3" y="367.57" width="5.7" height="0.69" fill="#F4E6A2" stroke="none" stroke-width="0" />
<rect x="461.3" y="370.54" width="5.7" height="1.1" fill="#F0C48C" stroke="none" stroke-width="0" />
<rect x="461.3" y="372.36" width="5.7" height="0.87" fill="#F6EBA6" stroke="none" stroke-width="0" />
<rect x="461.3" y="373.82" width="5.7" height="0.55" fill="#F6EBA6" stroke="none" stroke-width="0" />
<rect x="461.3" y="380.05" width="5.7" height="1.84" fill="#F4E6A2" stroke="none" stroke-width="0" />
<rect x="461.3" y="383" width="5.7" height="2.1" fill="#F8F2AE" stroke="none" stroke-width="0" />
<rect x="461.3" y="385.64" width="5.7" height="1.57" fill="#F4E6A2" stroke="none" stroke-width="0" />
<rect x="461.3" y="387.46" width="5.7" height="0.8" fill="#FAF4B4" stroke="none" stroke-width="0" />
<rect x="461.3" y="395.75" width="5.7" height="1.87" fill="#FAF4B4" stroke="none" stroke-width="0" />
<rect x="461.3" y="398.91" width="5.7" height="2.01" fill="#FAF4B4" stroke="none" stroke-width="0" />
<rect x="461.3" y="401.69" width="5.7" height="2.49" fill="#F4E6A2" stroke="none" stroke-width="0" />
<rect x="461.3" y="393.7" width="5.7" height="4" fill="#F0C08A" stroke="none" stroke-width="0" />
<rect x="461.3" y="398.2" width="5.7" height="5.5" fill="#EEA878" stroke="none" stroke-width="0" />
<rect x="461.3" y="356.5" width="5.7" height="1.8" fill="#5378B8" stroke="none" stroke-width="0" />
<rect x="461.3" y="359.3" width="5.7" height="1.2" fill="#5D86C4" stroke="none" stroke-width="0" />
</g>
<rect x="461.3" y="325.1" width="5.7" height="33" rx="2.8" fill="none" stroke="#8E8E86" stroke-width="0.45"/>
<rect x="461.3" y="359.3" width="5.7" height="44.4" rx="2.8" fill="none" stroke="#8E8E86" stroke-width="0.45"/>
<path d="M462.8,357.9 L465.5,357.9 L464.15,358.9 Z" fill="#333"/>
<path d="M462.8,359.6 L465.5,359.6 L464.15,358.6 Z" fill="#333"/>
<text font-size="5.6" font-weight="normal" text-anchor="middle" fill="#333" transform="translate(464.15 412) scale(1 1)" >20</text>
<clipPath id="c20"><rect x="475.7" y="347" width="5.7" height="13.1" rx="2.8"/><rect x="475.7" y="361.3" width="5.7" height="42.4" rx="2.8"/></clipPath>
<g clip-path="url(#c20)">
<rect x="475.7" y="347" width="5.7" height="56.7" fill="#DDE3B2" stroke="none" stroke-width="0" />
<rect x="475.7" y="347" width="5.7" height="0.6" fill="#C8D4B4" stroke="none" stroke-width="0" />
<rect x="475.7" y="350.69" width="5.7" height="2" fill="#C8D4B4" stroke="none" stroke-width="0" />
<rect x="475.7" y="353.13" width="5.7" height="1.87" fill="#F8F2AE" stroke="none" stroke-width="0" />
<rect x="475.7" y="356.33" width="5.7" height="1.93" fill="#DDE4B0" stroke="none" stroke-width="0" />
<rect x="475.7" y="362.2" width="5.7" height="2.43" fill="#CBD8B4" stroke="none" stroke-width="0" />
<rect x="475.7" y="365.75" width="5.7" height="2.44" fill="#C8D4B4" stroke="none" stroke-width="0" />
<rect x="475.7" y="372.13" width="5.7" height="1.29" fill="#F6EBA6" stroke="none" stroke-width="0" />
<rect x="475.7" y="374.16" width="5.7" height="2.43" fill="#CBD8B4" stroke="none" stroke-width="0" />
<rect x="475.7" y="377.85" width="5.7" height="1.92" fill="#FAF4B4" stroke="none" stroke-width="0" />
<rect x="475.7" y="383.31" width="5.7" height="2.5" fill="#CBD8B4" stroke="none" stroke-width="0" />
<rect x="475.7" y="387.01" width="5.7" height="1.83" fill="#DDE4B0" stroke="none" stroke-width="0" />
<rect x="475.7" y="389.66" width="5.7" height="1.01" fill="#F4E6A2" stroke="none" stroke-width="0" />
<rect x="475.7" y="394.59" width="5.7" height="2.2" fill="#DDE4B0" stroke="none" stroke-width="0" />
<rect x="475.7" y="397.85" width="5.7" height="1.01" fill="#DDE4B0" stroke="none" stroke-width="0" />
<rect x="475.7" y="400.19" width="5.7" height="1.24" fill="#CBD8B4" stroke="none" stroke-width="0" />
<rect x="475.7" y="396.7" width="5.7" height="4" fill="#F4E0A8" stroke="none" stroke-width="0" />
<rect x="475.7" y="400.7" width="5.7" height="3" fill="#F2D8A0" stroke="none" stroke-width="0" />
<rect x="475.7" y="358.5" width="5.7" height="1.8" fill="#5378B8" stroke="none" stroke-width="0" />
<rect x="475.7" y="361.3" width="5.7" height="1.2" fill="#5D86C4" stroke="none" stroke-width="0" />
<rect x="475.7" y="347" width="5.7" height="5.8" fill="#050505" stroke="none" stroke-width="0" />
<rect x="475.7" y="352.8" width="5.7" height="4.2" fill="#4E7CC0" stroke="none" stroke-width="0" />
<rect x="475.7" y="357.8" width="5.7" height="0.9" fill="#E03A2A" stroke="none" stroke-width="0" />
</g>
<rect x="475.7" y="347" width="5.7" height="13.1" rx="2.8" fill="none" stroke="#8E8E86" stroke-width="0.45"/>
<rect x="475.7" y="361.3" width="5.7" height="42.4" rx="2.8" fill="none" stroke="#8E8E86" stroke-width="0.45"/>
<path d="M477.2,359.9 L479.9,359.9 L478.55,360.9 Z" fill="#333"/>
<path d="M477.2,361.6 L479.9,361.6 L478.55,360.6 Z" fill="#333"/>
<text font-size="5.6" font-weight="normal" text-anchor="middle" fill="#333" transform="translate(478.55 412) scale(1 1)" >21</text>
<clipPath id="c30"><rect x="489.8" y="341.9" width="5.7" height="16.2" rx="2.8"/><rect x="489.8" y="359.3" width="5.7" height="44.4" rx="2.8"/></clipPath>
<g clip-path="url(#c30)">
<rect x="489.8" y="341.9" width="5.7" height="61.8" fill="#F6E6A4" stroke="none" stroke-width="0" />
<rect x="489.8" y="341.9" width="5.7" height="1.91" fill="#F4DCA4" stroke="none" stroke-width="0" />
<rect x="489.8" y="344.52" width="5.7" height="0.85" fill="#FAF4B4" stroke="none" stroke-width="0" />
<rect x="489.8" y="348.08" width="5.7" height="2.45" fill="#F0C48C" stroke="none" stroke-width="0" />
<rect x="489.8" y="351.25" width="5.7" height="2.46" fill="#F3D49C" stroke="none" stroke-width="0" />
<rect x="489.8" y="360.33" width="5.7" height="0.87" fill="#F4DCA4" stroke="none" stroke-width="0" />
<rect x="489.8" y="361.79" width="5.7" height="1.49" fill="#F4E6A2" stroke="none" stroke-width="0" />
<rect x="489.8" y="369.86" width="5.7" height="0.9" fill="#F4E6A2" stroke="none" stroke-width="0" />
<rect x="489.8" y="383.96" width="5.7" height="1.46" fill="#F3D49C" stroke="none" stroke-width="0" />
<rect x="489.8" y="386.8" width="5.7" height="1.48" fill="#F3D49C" stroke="none" stroke-width="0" />
<rect x="489.8" y="389.18" width="5.7" height="0.52" fill="#F3D49C" stroke="none" stroke-width="0" />
<rect x="489.8" y="390.93" width="5.7" height="1.64" fill="#F0C48C" stroke="none" stroke-width="0" />
<rect x="489.8" y="392.78" width="5.7" height="2.25" fill="#F4E6A2" stroke="none" stroke-width="0" />
<rect x="489.8" y="399.02" width="5.7" height="2.42" fill="#F4DCA4" stroke="none" stroke-width="0" />
<rect x="489.8" y="402.11" width="5.7" height="1.45" fill="#F4E6A2" stroke="none" stroke-width="0" />
<rect x="489.8" y="396.7" width="5.7" height="7" fill="#EFB07C" stroke="none" stroke-width="0" />
<rect x="489.8" y="356.5" width="5.7" height="1.8" fill="#5378B8" stroke="none" stroke-width="0" />
<rect x="489.8" y="359.3" width="5.7" height="1.2" fill="#5D86C4" stroke="none" stroke-width="0" />
<rect x="489.8" y="341.9" width="5.7" height="12.3" fill="#050505" stroke="none" stroke-width="0" />
<rect x="489.8" y="354.2" width="5.7" height="1.5" fill="#C9D6B2" stroke="none" stroke-width="0" />
<rect x="489.8" y="362" width="5.7" height="1.4" fill="#4E7CC0" stroke="none" stroke-width="0" />
</g>
<rect x="489.8" y="341.9" width="5.7" height="16.2" rx="2.8" fill="none" stroke="#8E8E86" stroke-width="0.45"/>
<rect x="489.8" y="359.3" width="5.7" height="44.4" rx="2.8" fill="none" stroke="#8E8E86" stroke-width="0.45"/>
<path d="M491.3,357.9 L494,357.9 L492.65,358.9 Z" fill="#333"/>
<path d="M491.3,359.6 L494,359.6 L492.65,358.6 Z" fill="#333"/>
<text font-size="5.6" font-weight="normal" text-anchor="middle" fill="#333" transform="translate(492.65 412) scale(1 1)" >22</text>
<rect x="561" y="323.3" width="59.4" height="91.1" rx="0.8" fill="#fff" stroke="#666" stroke-width="0.6"/>
<clipPath id="c01"><rect x="567" y="332.5" width="5.7" height="30.9" rx="2.8"/><rect x="567" y="364.6" width="5.7" height="39.1" rx="2.8"/></clipPath>
<g clip-path="url(#c01)">
<rect x="567" y="332.5" width="5.7" height="71.2" fill="#E9EEB6" stroke="none" stroke-width="0" />
<rect x="567" y="332.5" width="5.7" height="0.98" fill="#C8D4B4" stroke="none" stroke-width="0" />
<rect x="567" y="334.24" width="5.7" height="1.66" fill="#FAF4B4" stroke="none" stroke-width="0" />
<rect x="567" y="338.16" width="5.7" height="1.78" fill="#FAF4B4" stroke="none" stroke-width="0" />
<rect x="567" y="341.03" width="5.7" height="1.84" fill="#F8F2AE" stroke="none" stroke-width="0" />
<rect x="567" y="345.05" width="5.7" height="2.34" fill="#FAF4B4" stroke="none" stroke-width="0" />
<rect x="567" y="348.75" width="5.7" height="0.77" fill="#DDE4B0" stroke="none" stroke-width="0" />
<rect x="567" y="349.98" width="5.7" height="2.43" fill="#F4E6A2" stroke="none" stroke-width="0" />
<rect x="567" y="353.11" width="5.7" height="2.17" fill="#DDE4B0" stroke="none" stroke-width="0" />
<rect x="567" y="359.88" width="5.7" height="1.84" fill="#F8F2AE" stroke="none" stroke-width="0" />
<rect x="567" y="364.05" width="5.7" height="1.46" fill="#E6ECB8" stroke="none" stroke-width="0" />
<rect x="567" y="366.67" width="5.7" height="1.32" fill="#DDE4B0" stroke="none" stroke-width="0" />
<rect x="567" y="369.24" width="5.7" height="0.59" fill="#C8D4B4" stroke="none" stroke-width="0" />
<rect x="567" y="373.26" width="5.7" height="0.65" fill="#CBD8B4" stroke="none" stroke-width="0" />
<rect x="567" y="375.28" width="5.7" height="1.08" fill="#F4E6A2" stroke="none" stroke-width="0" />
<rect x="567" y="382.82" width="5.7" height="2.38" fill="#CBD8B4" stroke="none" stroke-width="0" />
<rect x="567" y="386.52" width="5.7" height="1.37" fill="#E6ECB8" stroke="none" stroke-width="0" />
<rect x="567" y="388.11" width="5.7" height="1.33" fill="#C8D4B4" stroke="none" stroke-width="0" />
<rect x="567" y="390.35" width="5.7" height="0.77" fill="#E6ECB8" stroke="none" stroke-width="0" />
<rect x="567" y="394.24" width="5.7" height="2.41" fill="#DDE4B0" stroke="none" stroke-width="0" />
<rect x="567" y="397.21" width="5.7" height="1.7" fill="#E6ECB8" stroke="none" stroke-width="0" />
<rect x="567" y="402.52" width="5.7" height="1.87" fill="#E6ECB8" stroke="none" stroke-width="0" />
<rect x="567" y="361.8" width="5.7" height="1.8" fill="#5378B8" stroke="none" stroke-width="0" />
<rect x="567" y="364.6" width="5.7" height="1.2" fill="#5D86C4" stroke="none" stroke-width="0" />
</g>
<rect x="567" y="332.5" width="5.7" height="30.9" rx="2.8" fill="none" stroke="#8E8E86" stroke-width="0.45"/>
<rect x="567" y="364.6" width="5.7" height="39.1" rx="2.8" fill="none" stroke="#8E8E86" stroke-width="0.45"/>
<path d="M568.5,363.2 L571.2,363.2 L569.85,364.2 Z" fill="#333"/>
<path d="M568.5,364.9 L571.2,364.9 L569.85,363.9 Z" fill="#333"/>
<text font-size="5.6" font-weight="normal" text-anchor="middle" fill="#333" transform="translate(569.85 412) scale(1 1)" >19</text>
<clipPath id="c11"><rect x="580.9" y="325.1" width="5.7" height="33" rx="2.8"/><rect x="580.9" y="359.3" width="5.7" height="44.4" rx="2.8"/></clipPath>
<g clip-path="url(#c11)">
<rect x="580.9" y="325.1" width="5.7" height="78.6" fill="#E9EEB6" stroke="none" stroke-width="0" />
<rect x="580.9" y="325.1" width="5.7" height="0.87" fill="#F8F2AE" stroke="none" stroke-width="0" />
<rect x="580.9" y="329.59" width="5.7" height="1.98" fill="#F4E6A2" stroke="none" stroke-width="0" />
<rect x="580.9" y="332.04" width="5.7" height="0.74" fill="#C8D4B4" stroke="none" stroke-width="0" />
<rect x="580.9" y="335.17" width="5.7" height="1.34" fill="#FAF4B4" stroke="none" stroke-width="0" />
<rect x="580.9" y="337.13" width="5.7" height="1.33" fill="#DDE4B0" stroke="none" stroke-width="0" />
<rect x="580.9" y="343.91" width="5.7" height="1.83" fill="#E6ECB8" stroke="none" stroke-width="0" />
<rect x="580.9" y="352.26" width="5.7" height="2.3" fill="#D3DDB4" stroke="none" stroke-width="0" />
<rect x="580.9" y="356.33" width="5.7" height="2.33" fill="#C8D4B4" stroke="none" stroke-width="0" />
<rect x="580.9" y="359.43" width="5.7" height="2.06" fill="#C8D4B4" stroke="none" stroke-width="0" />
<rect x="580.9" y="362.76" width="5.7" height="0.74" fill="#CBD8B4" stroke="none" stroke-width="0" />
<rect x="580.9" y="364.68" width="5.7" height="0.52" fill="#F8F2AE" stroke="none" stroke-width="0" />
<rect x="580.9" y="366.31" width="5.7" height="1" fill="#D3DDB4" stroke="none" stroke-width="0" />
<rect x="580.9" y="368.07" width="5.7" height="2.05" fill="#CBD8B4" stroke="none" stroke-width="0" />
<rect x="580.9" y="370.38" width="5.7" height="0.6" fill="#D3DDB4" stroke="none" stroke-width="0" />
<rect x="580.9" y="371.8" width="5.7" height="1.48" fill="#DDE4B0" stroke="none" stroke-width="0" />
<rect x="580.9" y="374.25" width="5.7" height="1.67" fill="#E6ECB8" stroke="none" stroke-width="0" />
<rect x="580.9" y="376.64" width="5.7" height="0.76" fill="#F8F2AE" stroke="none" stroke-width="0" />
<rect x="580.9" y="378.28" width="5.7" height="0.59" fill="#FAF4B4" stroke="none" stroke-width="0" />
<rect x="580.9" y="385.19" width="5.7" height="0.76" fill="#C8D4B4" stroke="none" stroke-width="0" />
<rect x="580.9" y="387.1" width="5.7" height="1.02" fill="#C8D4B4" stroke="none" stroke-width="0" />
<rect x="580.9" y="392.29" width="5.7" height="1.93" fill="#DDE4B0" stroke="none" stroke-width="0" />
<rect x="580.9" y="394.47" width="5.7" height="0.68" fill="#F6EBA6" stroke="none" stroke-width="0" />
<rect x="580.9" y="400.95" width="5.7" height="2.03" fill="#F8F2AE" stroke="none" stroke-width="0" />
<rect x="580.9" y="356.5" width="5.7" height="1.8" fill="#5378B8" stroke="none" stroke-width="0" />
<rect x="580.9" y="359.3" width="5.7" height="1.2" fill="#5D86C4" stroke="none" stroke-width="0" />
</g>
<rect x="580.9" y="325.1" width="5.7" height="33" rx="2.8" fill="none" stroke="#8E8E86" stroke-width="0.45"/>
<rect x="580.9" y="359.3" width="5.7" height="44.4" rx="2.8" fill="none" stroke="#8E8E86" stroke-width="0.45"/>
<path d="M582.4,357.9 L585.1,357.9 L583.75,358.9 Z" fill="#333"/>
<path d="M582.4,359.6 L585.1,359.6 L583.75,358.6 Z" fill="#333"/>
<text font-size="5.6" font-weight="normal" text-anchor="middle" fill="#333" transform="translate(583.75 412) scale(1 1)" >20</text>
<clipPath id="c21"><rect x="595.3" y="347" width="5.7" height="13.1" rx="2.8"/><rect x="595.3" y="361.3" width="5.7" height="42.4" rx="2.8"/></clipPath>
<g clip-path="url(#c21)">
<rect x="595.3" y="347" width="5.7" height="56.7" fill="#E9EEB6" stroke="none" stroke-width="0" />
<rect x="595.3" y="347" width="5.7" height="0.7" fill="#F6EBA6" stroke="none" stroke-width="0" />
<rect x="595.3" y="348.89" width="5.7" height="0.98" fill="#C8D4B4" stroke="none" stroke-width="0" />
<rect x="595.3" y="350.92" width="5.7" height="2.39" fill="#F4E6A2" stroke="none" stroke-width="0" />
<rect x="595.3" y="354.17" width="5.7" height="2.43" fill="#DDE4B0" stroke="none" stroke-width="0" />
<rect x="595.3" y="357.82" width="5.7" height="2.43" fill="#FAF4B4" stroke="none" stroke-width="0" />
<rect x="595.3" y="363.04" width="5.7" height="2.33" fill="#CBD8B4" stroke="none" stroke-width="0" />
<rect x="595.3" y="365.73" width="5.7" height="2" fill="#CBD8B4" stroke="none" stroke-width="0" />
<rect x="595.3" y="373.35" width="5.7" height="1.46" fill="#E6ECB8" stroke="none" stroke-width="0" />
<rect x="595.3" y="377.8" width="5.7" height="0.91" fill="#F8F2AE" stroke="none" stroke-width="0" />
<rect x="595.3" y="382.19" width="5.7" height="0.96" fill="#F8F2AE" stroke="none" stroke-width="0" />
<rect x="595.3" y="384.5" width="5.7" height="2.21" fill="#E6ECB8" stroke="none" stroke-width="0" />
<rect x="595.3" y="389.22" width="5.7" height="0.59" fill="#D3DDB4" stroke="none" stroke-width="0" />
<rect x="595.3" y="392.08" width="5.7" height="1.85" fill="#DDE4B0" stroke="none" stroke-width="0" />
<rect x="595.3" y="394.58" width="5.7" height="0.66" fill="#FAF4B4" stroke="none" stroke-width="0" />
<rect x="595.3" y="395.91" width="5.7" height="1.59" fill="#DDE4B0" stroke="none" stroke-width="0" />
<rect x="595.3" y="401.12" width="5.7" height="1.24" fill="#F4E6A2" stroke="none" stroke-width="0" />
<rect x="595.3" y="402.69" width="5.7" height="2.39" fill="#F8F2AE" stroke="none" stroke-width="0" />
<rect x="595.3" y="358.5" width="5.7" height="1.8" fill="#5378B8" stroke="none" stroke-width="0" />
<rect x="595.3" y="361.3" width="5.7" height="1.2" fill="#5D86C4" stroke="none" stroke-width="0" />
<rect x="595.3" y="347" width="5.7" height="5.8" fill="#050505" stroke="none" stroke-width="0" />
<rect x="595.3" y="352.8" width="5.7" height="4.2" fill="#4E7CC0" stroke="none" stroke-width="0" />
<rect x="595.3" y="357.8" width="5.7" height="0.9" fill="#E03A2A" stroke="none" stroke-width="0" />
</g>
<rect x="595.3" y="347" width="5.7" height="13.1" rx="2.8" fill="none" stroke="#8E8E86" stroke-width="0.45"/>
<rect x="595.3" y="361.3" width="5.7" height="42.4" rx="2.8" fill="none" stroke="#8E8E86" stroke-width="0.45"/>
<path d="M596.8,359.9 L599.5,359.9 L598.15,360.9 Z" fill="#333"/>
<path d="M596.8,361.6 L599.5,361.6 L598.15,360.6 Z" fill="#333"/>
<text font-size="5.6" font-weight="normal" text-anchor="middle" fill="#333" transform="translate(598.15 412) scale(1 1)" >21</text>
<clipPath id="c31"><rect x="609.4" y="341.9" width="5.7" height="16.2" rx="2.8"/><rect x="609.4" y="359.3" width="5.7" height="44.4" rx="2.8"/></clipPath>
<g clip-path="url(#c31)">
<rect x="609.4" y="341.9" width="5.7" height="61.8" fill="#E9EEB6" stroke="none" stroke-width="0" />
<rect x="609.4" y="341.9" width="5.7" height="1.52" fill="#C8D4B4" stroke="none" stroke-width="0" />
<rect x="609.4" y="347.57" width="5.7" height="1.81" fill="#F6EBA6" stroke="none" stroke-width="0" />
<rect x="609.4" y="350.68" width="5.7" height="1.79" fill="#E6ECB8" stroke="none" stroke-width="0" />
<rect x="609.4" y="353.45" width="5.7" height="1.42" fill="#D3DDB4" stroke="none" stroke-width="0" />
<rect x="609.4" y="355.19" width="5.7" height="0.86" fill="#FAF4B4" stroke="none" stroke-width="0" />
<rect x="609.4" y="356.69" width="5.7" height="1.03" fill="#F8F2AE" stroke="none" stroke-width="0" />
<rect x="609.4" y="363.48" width="5.7" height="0.72" fill="#D3DDB4" stroke="none" stroke-width="0" />
<rect x="609.4" y="365.09" width="5.7" height="2.32" fill="#FAF4B4" stroke="none" stroke-width="0" />
<rect x="609.4" y="370.07" width="5.7" height="1.3" fill="#C8D4B4" stroke="none" stroke-width="0" />
<rect x="609.4" y="371.78" width="5.7" height="2.24" fill="#DDE4B0" stroke="none" stroke-width="0" />
<rect x="609.4" y="375.29" width="5.7" height="2.4" fill="#F4E6A2" stroke="none" stroke-width="0" />
<rect x="609.4" y="381.33" width="5.7" height="0.88" fill="#CBD8B4" stroke="none" stroke-width="0" />
<rect x="609.4" y="383.01" width="5.7" height="1.55" fill="#C8D4B4" stroke="none" stroke-width="0" />
<rect x="609.4" y="391.38" width="5.7" height="0.6" fill="#D3DDB4" stroke="none" stroke-width="0" />
<rect x="609.4" y="392.78" width="5.7" height="0.54" fill="#E6ECB8" stroke="none" stroke-width="0" />
<rect x="609.4" y="396.18" width="5.7" height="1.98" fill="#F8F2AE" stroke="none" stroke-width="0" />
<rect x="609.4" y="356.5" width="5.7" height="1.8" fill="#5378B8" stroke="none" stroke-width="0" />
<rect x="609.4" y="359.3" width="5.7" height="1.2" fill="#5D86C4" stroke="none" stroke-width="0" />
<rect x="609.4" y="341.9" width="5.7" height="12.3" fill="#050505" stroke="none" stroke-width="0" />
<rect x="609.4" y="354.2" width="5.7" height="1.5" fill="#C9D6B2" stroke="none" stroke-width="0" />
<rect x="609.4" y="362" width="5.7" height="1.4" fill="#4E7CC0" stroke="none" stroke-width="0" />
</g>
<rect x="609.4" y="341.9" width="5.7" height="16.2" rx="2.8" fill="none" stroke="#8E8E86" stroke-width="0.45"/>
<rect x="609.4" y="359.3" width="5.7" height="44.4" rx="2.8" fill="none" stroke="#8E8E86" stroke-width="0.45"/>
<path d="M610.9,357.9 L613.6,357.9 L612.25,358.9 Z" fill="#333"/>
<path d="M610.9,359.6 L613.6,359.6 L612.25,358.6 Z" fill="#333"/>
<text font-size="5.6" font-weight="normal" text-anchor="middle" fill="#333" transform="translate(612.25 412) scale(1 1)" >22</text>
<text font-size="12.3" font-weight="normal" text-anchor="start" fill="#111" transform="translate(41.4 443) scale(1 1)" >F.</text>
<path d="M110.56 476.48h.9v.9h-.9zM107.94 477.17h.9v.9h-.9zM113.98 476.48h.9v.9h-.9zM120.2 476.96h.9v.9h-.9zM115.36 476.81h.9v.9h-.9zM107.94 476.77h.9v.9h-.9zM105.29 476.58h.9v.9h-.9zM107.29 476.86h.9v.9h-.9zM112.18 476.49h.9v.9h-.9zM107.57 476.95h.9v.9h-.9zM109.54 476.51h.9v.9h-.9zM119.37 476.61h.9v.9h-.9zM110.62 476.71h.9v.9h-.9zM116.42 476.65h.9v.9h-.9zM117.93 476.66h.9v.9h-.9zM105.05 476.81h.9v.9h-.9zM107.22 476.71h.9v.9h-.9zM115.66 476.7h.9v.9h-.9zM106.83 476.95h.9v.9h-.9zM106.23 476.51h.9v.9h-.9zM111.79 476.94h.9v.9h-.9zM114.34 477.75h.9v.9h-.9zM119.19 476.48h.9v.9h-.9zM108.16 476.5h.9v.9h-.9zM104.95 476.62h.9v.9h-.9zM120.44 477.01h.9v.9h-.9zM116.42 476.58h.9v.9h-.9zM113.48 476.66h.9v.9h-.9zM112.74 477.2h.9v.9h-.9zM115.93 476.84h.9v.9h-.9zM108.62 476.6h.9v.9h-.9zM120.61 476.5h.9v.9h-.9zM106.3 476.72h.9v.9h-.9zM106.81 476.48h.9v.9h-.9zM119.53 477.09h.9v.9h-.9zM113.14 476.52h.9v.9h-.9zM113.96 476.9h.9v.9h-.9zM117.46 477.61h.9v.9h-.9zM113.73 476.45h.9v.9h-.9zM115.3 476.58h.9v.9h-.9zM119.5 476.64h.9v.9h-.9zM107.1 476.55h.9v.9h-.9zM117.25 477.1h.9v.9h-.9zM113.18 477.12h.9v.9h-.9zM119.1 476.6h.9v.9h-.9zM107.6 477.42h.9v.9h-.9zM114.29 477.08h.9v.9h-.9zM117.63 476.56h.9v.9h-.9zM116.69 476.63h.9v.9h-.9zM111.96 476.89h.9v.9h-.9zM105.37 476.77h.9v.9h-.9zM112.71 476.81h.9v.9h-.9zM114.66 476.46h.9v.9h-.9zM113.46 476.88h.9v.9h-.9zM111.88 476.65h.9v.9h-.9zM105.38 476.66h.9v.9h-.9zM119.72 476.66h.9v.9h-.9zM118.14 476.47h.9v.9h-.9zM111.26 476.68h.9v.9h-.9zM106.61 476.95h.9v.9h-.9zM114.03 476.67h.9v.9h-.9zM117.41 476.71h.9v.9h-.9zM110.05 476.75h.9v.9h-.9zM119.48 476.79h.9v.9h-.9zM119.47 476.73h.9v.9h-.9zM106.76 476.69h.9v.9h-.9zM107.5 476.94h.9v.9h-.9zM110.33 476.47h.9v.9h-.9zM110.18 476.51h.9v.9h-.9zM118.94 476.53h.9v.9h-.9zM109.33 476.96h.9v.9h-.9zM111.07 476.85h.9v.9h-.9zM113.96 476.46h.9v.9h-.9zM110.6 477.07h.9v.9h-.9zM113.89 476.44h.9v.9h-.9zM106.4 476.64h.9v.9h-.9zM118.29 476.67h.9v.9h-.9zM108.09 477.07h.9v.9h-.9zM116.7 476.84h.9v.9h-.9zM114.23 476.58h.9v.9h-.9zM107.02 476.54h.9v.9h-.9zM120.23 476.78h.9v.9h-.9zM108 476.96h.9v.9h-.9zM108.23 476.93h.9v.9h-.9zM117.12 476.82h.9v.9h-.9zM108.11 476.51h.9v.9h-.9zM115.46 477.19h.9v.9h-.9zM110.53 477.08h.9v.9h-.9zM105.84 477.11h.9v.9h-.9zM105.48 476.62h.9v.9h-.9zM109.16 476.92h.9v.9h-.9zM114.56 476.57h.9v.9h-.9zM120.6 476.65h.9v.9h-.9zM108.42 476.75h.9v.9h-.9zM110.17 476.73h.9v.9h-.9zM109.3 476.75h.9v.9h-.9zM114.29 476.62h.9v.9h-.9zM105.82 477.18h.9v.9h-.9zM115.89 476.43h.9v.9h-.9zM113.86 476.7h.9v.9h-.9zM113.66 476.86h.9v.9h-.9zM108.1 476.57h.9v.9h-.9zM110.66 477.05h.9v.9h-.9zM109.91 476.69h.9v.9h-.9zM114.53 476.55h.9v.9h-.9zM114.1 476.62h.9v.9h-.9zM112.78 477h.9v.9h-.9zM108.81 476.61h.9v.9h-.9zM116.5 476.55h.9v.9h-.9zM116.7 476.78h.9v.9h-.9zM110.12 476.47h.9v.9h-.9zM106.59 476.83h.9v.9h-.9zM107.55 476.68h.9v.9h-.9zM113.15 476.72h.9v.9h-.9zM108.57 476.5h.9v.9h-.9zM119.4 476.73h.9v.9h-.9zM112.12 476.65h.9v.9h-.9zM109.51 476.59h.9v.9h-.9zM114.08 476.82h.9v.9h-.9zM111.43 477.15h.9v.9h-.9zM114.64 476.44h.9v.9h-.9zM107.19 476.55h.9v.9h-.9zM112.03 476.6h.9v.9h-.9zM113.76 476.49h.9v.9h-.9zM114.26 476.81h.9v.9h-.9zM110.83 476.5h.9v.9h-.9zM120.2 476.59h.9v.9h-.9zM119.83 476.61h.9v.9h-.9zM108.64 476.88h.9v.9h-.9zM116.65 476.47h.9v.9h-.9zM104.89 476.89h.9v.9h-.9zM110.37 477.38h.9v.9h-.9zM120.3 476.6h.9v.9h-.9zM111.75 477.02h.9v.9h-.9zM117.98 476.83h.9v.9h-.9zM107.19 476.47h.9v.9h-.9zM115.71 477.31h.9v.9h-.9zM109.37 476.7h.9v.9h-.9zM119.02 477.18h.9v.9h-.9zM118.72 476.5h.9v.9h-.9zM113.88 476.77h.9v.9h-.9zM107.25 476.59h.9v.9h-.9zM110.62 476.97h.9v.9h-.9zM109.08 476.5h.9v.9h-.9zM112.15 476.47h.9v.9h-.9zM115.09 477.02h.9v.9h-.9zM106.75 476.86h.9v.9h-.9zM114.66 476.57h.9v.9h-.9zM117.28 476.77h.9v.9h-.9zM109.59 476.48h.9v.9h-.9zM119.27 476.87h.9v.9h-.9zM109.75 476.79h.9v.9h-.9zM119.16 477.02h.9v.9h-.9zM111.47 476.51h.9v.9h-.9zM108.88 476.96h.9v.9h-.9zM116.67 476.6h.9v.9h-.9zM112.19 476.68h.9v.9h-.9zM113 477.48h.9v.9h-.9zM116.17 476.58h.9v.9h-.9zM117.8 476.47h.9v.9h-.9zM105.29 476.63h.9v.9h-.9zM106.96 476.48h.9v.9h-.9zM112.54 476.52h.9v.9h-.9zM105.81 476.53h.9v.9h-.9zM119.46 476.52h.9v.9h-.9zM111.77 477.6h.9v.9h-.9zM108.59 476.86h.9v.9h-.9zM112.4 476.56h.9v.9h-.9zM105.04 476.94h.9v.9h-.9zM108.98 476.52h.9v.9h-.9zM109.83 476.63h.9v.9h-.9zM120.58 476.59h.9v.9h-.9zM116.98 477.01h.9v.9h-.9zM109.81 476.74h.9v.9h-.9zM110.22 476.6h.9v.9h-.9zM108.6 476.83h.9v.9h-.9zM118.01 477.03h.9v.9h-.9zM116.08 476.85h.9v.9h-.9zM104.43 476.43h.9v.9h-.9zM119.99 476.57h.9v.9h-.9zM119.18 476.61h.9v.9h-.9zM105.66 476.43h.9v.9h-.9zM119.99 476.87h.9v.9h-.9zM106.21 476.9h.9v.9h-.9zM112.88 476.63h.9v.9h-.9zM110.08 476.7h.9v.9h-.9zM116.09 476.67h.9v.9h-.9zM113.47 476.75h.9v.9h-.9zM114.26 476.54h.9v.9h-.9zM112.08 476.56h.9v.9h-.9zM108.72 476.9h.9v.9h-.9zM111.98 476.61h.9v.9h-.9zM118.71 476.52h.9v.9h-.9zM116.73 476.58h.9v.9h-.9zM105.01 476.66h.9v.9h-.9zM107.53 476.44h.9v.9h-.9zM116.32 477.37h.9v.9h-.9zM111.95 477.02h.9v.9h-.9zM106.79 476.67h.9v.9h-.9zM114.09 476.62h.9v.9h-.9zM116.17 476.92h.9v.9h-.9zM112.92 476.82h.9v.9h-.9zM111.94 476.55h.9v.9h-.9zM117.65 476.91h.9v.9h-.9zM108.42 476.6h.9v.9h-.9zM107.85 476.81h.9v.9h-.9zM105.19 476.43h.9v.9h-.9zM111.34 477.01h.9v.9h-.9zM112.35 476.6h.9v.9h-.9zM110.32 476.79h.9v.9h-.9zM115.29 476.96h.9v.9h-.9zM107.21 476.72h.9v.9h-.9zM109.17 477.22h.9v.9h-.9zM119.55 477.07h.9v.9h-.9zM108.87 476.5h.9v.9h-.9zM106.89 476.64h.9v.9h-.9zM119.9 476.74h.9v.9h-.9zM118.33 476.53h.9v.9h-.9zM117.95 476.8h.9v.9h-.9zM116.83 476.54h.9v.9h-.9zM116.63 476.48h.9v.9h-.9zM106.44 476.63h.9v.9h-.9zM115.18 476.72h.9v.9h-.9zM116.69 476.64h.9v.9h-.9zM113.02 476.93h.9v.9h-.9zM105 477.46h.9v.9h-.9zM116.3 476.67h.9v.9h-.9zM119.85 476.71h.9v.9h-.9zM116.12 476.94h.9v.9h-.9zM110.6 476.83h.9v.9h-.9zM110.25 476.89h.9v.9h-.9zM110.45 476.82h.9v.9h-.9zM109.1 476.6h.9v.9h-.9zM117.86 476.79h.9v.9h-.9zM112.27 476.81h.9v.9h-.9zM107.65 476.51h.9v.9h-.9zM115.29 477.09h.9v.9h-.9zM105.41 476.91h.9v.9h-.9zM105.4 476.78h.9v.9h-.9zM120.4 476.53h.9v.9h-.9zM110.04 476.8h.9v.9h-.9zM118.92 476.52h.9v.9h-.9zM111.08 476.57h.9v.9h-.9zM107.66 476.61h.9v.9h-.9zM118.42 476.54h.9v.9h-.9zM119.09 476.57h.9v.9h-.9zM110.07 477.37h.9v.9h-.9zM108.26 476.76h.9v.9h-.9zM110.52 476.95h.9v.9h-.9zM114.79 476.76h.9v.9h-.9zM119.06 476.88h.9v.9h-.9zM114.98 476.58h.9v.9h-.9zM107.28 476.59h.9v.9h-.9zM111.23 476.52h.9v.9h-.9zM118.64 476.49h.9v.9h-.9zM117.36 477.2h.9v.9h-.9zM118.3 476.45h.9v.9h-.9zM118.35 476.65h.9v.9h-.9zM110.22 476.44h.9v.9h-.9zM116.56 476.65h.9v.9h-.9zM108.95 476.53h.9v.9h-.9zM108.38 476.45h.9v.9h-.9zM105.75 476.61h.9v.9h-.9zM109.51 476.69h.9v.9h-.9zM113.08 476.77h.9v.9h-.9zM106.31 476.5h.9v.9h-.9zM119.59 476.97h.9v.9h-.9zM115.51 476.45h.9v.9h-.9zM111.1 476.78h.9v.9h-.9zM110.38 477.05h.9v.9h-.9zM113.52 476.78h.9v.9h-.9zM114.08 476.66h.9v.9h-.9zM113.22 477.15h.9v.9h-.9zM107.53 476.53h.9v.9h-.9zM107.85 476.61h.9v.9h-.9zM115.43 476.68h.9v.9h-.9zM108.82 476.89h.9v.9h-.9zM111.17 476.84h.9v.9h-.9zM110.29 476.61h.9v.9h-.9zM114.84 476.94h.9v.9h-.9zM107.32 476.54h.9v.9h-.9zM110.51 476.58h.9v.9h-.9zM116.41 476.98h.9v.9h-.9zM115.27 476.46h.9v.9h-.9zM113.28 476.86h.9v.9h-.9zM108.88 476.83h.9v.9h-.9zM114.8 477.09h.9v.9h-.9zM119.29 476.5h.9v.9h-.9zM110.02 477h.9v.9h-.9zM113.67 477.08h.9v.9h-.9zM113.86 477h.9v.9h-.9zM110.12 476.54h.9v.9h-.9zM120.5 476.68h.9v.9h-.9zM116.6 476.47h.9v.9h-.9zM117.86 476.84h.9v.9h-.9zM107.51 476.57h.9v.9h-.9zM119.96 476.53h.9v.9h-.9zM111.56 476.7h.9v.9h-.9zM118.81 476.48h.9v.9h-.9zM109.6 477.19h.9v.9h-.9zM107.33 476.95h.9v.9h-.9zM114.39 476.76h.9v.9h-.9zM117.98 476.44h.9v.9h-.9zM106.37 476.94h.9v.9h-.9zM107.8 476.65h.9v.9h-.9zM111.14 477h.9v.9h-.9zM108.46 476.45h.9v.9h-.9zM113.56 476.66h.9v.9h-.9zM110.79 476.84h.9v.9h-.9zM119.55 476.55h.9v.9h-.9zM119.74 476.45h.9v.9h-.9zM119.73 476.57h.9v.9h-.9zM107.16 476.74h.9v.9h-.9zM111.9 477.23h.9v.9h-.9zM107.88 476.71h.9v.9h-.9zM118.25 476.5h.9v.9h-.9zM115.22 476.88h.9v.9h-.9zM116.72 476.59h.9v.9h-.9zM118.12 476.66h.9v.9h-.9zM115.3 476.83h.9v.9h-.9zM119.58 476.76h.9v.9h-.9zM109.23 477.13h.9v.9h-.9zM115.38 476.54h.9v.9h-.9zM105.39 476.8h.9v.9h-.9zM105.86 476.78h.9v.9h-.9zM107.83 477.07h.9v.9h-.9zM109.84 476.52h.9v.9h-.9zM114.93 476.62h.9v.9h-.9zM105.71 476.45h.9v.9h-.9zM119.41 476.58h.9v.9h-.9zM107.48 476.5h.9v.9h-.9zM108.56 476.71h.9v.9h-.9zM107.54 477.13h.9v.9h-.9zM113.73 476.74h.9v.9h-.9zM113.63 477.06h.9v.9h-.9zM112.22 477.09h.9v.9h-.9zM107.48 477.13h.9v.9h-.9zM113.36 476.8h.9v.9h-.9zM105.42 477.07h.9v.9h-.9zM116.69 477.04h.9v.9h-.9zM119.01 477.06h.9v.9h-.9zM108.61 477.27h.9v.9h-.9zM113.74 476.52h.9v.9h-.9zM115.12 476.45h.9v.9h-.9zM115.78 476.44h.9v.9h-.9zM105.97 476.91h.9v.9h-.9zM118.46 477.14h.9v.9h-.9zM118.09 476.84h.9v.9h-.9zM119.38 477.17h.9v.9h-.9zM109.18 476.46h.9v.9h-.9zM115.88 476.55h.9v.9h-.9zM113.43 476.97h.9v.9h-.9zM120.36 476.46h.9v.9h-.9zM113.87 476.62h.9v.9h-.9zM107.45 476.97h.9v.9h-.9zM112.34 476.48h.9v.9h-.9zM114.48 476.53h.9v.9h-.9zM116.63 476.5h.9v.9h-.9zM109.09 476.91h.9v.9h-.9zM115.39 476.56h.9v.9h-.9zM117.87 476.86h.9v.9h-.9zM110.68 476.56h.9v.9h-.9zM113.42 476.54h.9v.9h-.9zM119.96 476.62h.9v.9h-.9zM112.08 477.08h.9v.9h-.9zM115 477.19h.9v.9h-.9zM118.66 477.03h.9v.9h-.9zM106.54 477.12h.9v.9h-.9zM112.79 476.65h.9v.9h-.9zM109.18 476.68h.9v.9h-.9zM112.04 476.57h.9v.9h-.9zM115.8 476.68h.9v.9h-.9zM115.09 476.64h.9v.9h-.9zM104.92 477.5h.9v.9h-.9zM119.44 476.71h.9v.9h-.9zM109.93 476.49h.9v.9h-.9zM108.33 476.46h.9v.9h-.9zM114.86 476.77h.9v.9h-.9zM109.94 476.55h.9v.9h-.9zM111.59 476.5h.9v.9h-.9zM116.69 476.84h.9v.9h-.9zM114.53 476.54h.9v.9h-.9zM113.6 476.44h.9v.9h-.9zM112.89 476.96h.9v.9h-.9zM106.48 476.49h.9v.9h-.9zM106.86 476.76h.9v.9h-.9zM112.09 476.91h.9v.9h-.9zM106.03 476.96h.9v.9h-.9zM118.71 476.63h.9v.9h-.9zM120.21 476.55h.9v.9h-.9zM111.94 476.54h.9v.9h-.9zM104.89 476.9h.9v.9h-.9zM107.67 476.9h.9v.9h-.9zM113.54 476.75h.9v.9h-.9zM108.34 476.62h.9v.9h-.9zM113.81 476.5h.9v.9h-.9zM118.21 476.73h.9v.9h-.9zM115.18 476.73h.9v.9h-.9zM116.68 476.8h.9v.9h-.9zM115.86 476.53h.9v.9h-.9zM105.81 476.9h.9v.9h-.9zM111.1 476.85h.9v.9h-.9zM120.18 476.59h.9v.9h-.9zM110.38 476.83h.9v.9h-.9zM112.79 476.66h.9v.9h-.9zM113.02 476.99h.9v.9h-.9zM119.47 476.58h.9v.9h-.9zM117.41 476.64h.9v.9h-.9zM109.07 477.24h.9v.9h-.9zM114.79 476.56h.9v.9h-.9zM116.41 476.61h.9v.9h-.9zM114.58 476.62h.9v.9h-.9zM118.11 476.88h.9v.9h-.9zM108.61 476.44h.9v.9h-.9zM115.77 476.57h.9v.9h-.9zM105.17 476.78h.9v.9h-.9zM112.83 476.81h.9v.9h-.9zM112.18 476.77h.9v.9h-.9zM109.17 476.8h.9v.9h-.9zM111.14 476.89h.9v.9h-.9zM112.69 476.74h.9v.9h-.9zM109.92 477.15h.9v.9h-.9zM108.11 477.21h.9v.9h-.9zM116.12 476.46h.9v.9h-.9zM118.47 476.81h.9v.9h-.9zM111.08 476.46h.9v.9h-.9zM118.06 476.47h.9v.9h-.9zM115.33 476.85h.9v.9h-.9zM115.9 476.77h.9v.9h-.9zM105.2 476.78h.9v.9h-.9zM109.8 476.5h.9v.9h-.9zM108.3 476.93h.9v.9h-.9zM111.44 476.91h.9v.9h-.9zM106.33 476.9h.9v.9h-.9zM105.7 476.48h.9v.9h-.9zM118.24 476.8h.9v.9h-.9zM104.81 476.88h.9v.9h-.9zM118.45 476.76h.9v.9h-.9zM112.35 476.65h.9v.9h-.9zM115.24 476.96h.9v.9h-.9zM110.5 476.93h.9v.9h-.9zM116.74 476.53h.9v.9h-.9zM115.94 476.69h.9v.9h-.9zM115.63 477.17h.9v.9h-.9zM116.32 476.83h.9v.9h-.9zM105.2 477.31h.9v.9h-.9zM116.05 477.03h.9v.9h-.9zM113.66 476.87h.9v.9h-.9zM112.15 476.68h.9v.9h-.9zM110.93 476.58h.9v.9h-.9zM112.27 476.53h.9v.9h-.9zM107.72 476.82h.9v.9h-.9zM111.96 476.6h.9v.9h-.9zM106.8 476.47h.9v.9h-.9zM114.02 477.1h.9v.9h-.9zM111.59 476.57h.9v.9h-.9zM106.25 477.15h.9v.9h-.9zM106.15 476.44h.9v.9h-.9zM105.88 476.64h.9v.9h-.9zM120.48 476.51h.9v.9h-.9zM116.14 476.46h.9v.9h-.9zM105.85 476.78h.9v.9h-.9zM118.85 476.8h.9v.9h-.9zM117.69 477.12h.9v.9h-.9zM108.71 477.11h.9v.9h-.9zM107.61 476.45h.9v.9h-.9zM117.71 476.7h.9v.9h-.9zM116.52 477.08h.9v.9h-.9zM115.87 476.49h.9v.9h-.9zM109.72 476.5h.9v.9h-.9zM114.24 476.44h.9v.9h-.9zM115.73 477.01h.9v.9h-.9zM110.95 476.63h.9v.9h-.9zM108.86 476.68h.9v.9h-.9zM113.21 476.56h.9v.9h-.9zM116.66 477.22h.9v.9h-.9zM113.59 476.58h.9v.9h-.9zM119.65 476.57h.9v.9h-.9zM118.26 476.85h.9v.9h-.9zM117.39 476.51h.9v.9h-.9zM107.9 476.56h.9v.9h-.9zM119.71 476.6h.9v.9h-.9zM114.39 477.02h.9v.9h-.9zM119.91 476.55h.9v.9h-.9zM103.45 476.81h.9v.9h-.9zM114.19 477.09h.9v.9h-.9zM110.46 477.02h.9v.9h-.9zM106.94 476.64h.9v.9h-.9zM110.21 476.57h.9v.9h-.9zM117.81 476.54h.9v.9h-.9zM117.12 476.43h.9v.9h-.9zM110.02 476.56h.9v.9h-.9zM116.73 476.69h.9v.9h-.9zM109.21 476.89h.9v.9h-.9zM108.57 476.48h.9v.9h-.9zM119.03 476.54h.9v.9h-.9zM119.86 476.82h.9v.9h-.9zM117.2 476.53h.9v.9h-.9zM116.07 477.01h.9v.9h-.9zM111.21 476.73h.9v.9h-.9zM118.37 476.66h.9v.9h-.9zM119.66 476.68h.9v.9h-.9zM110.77 476.63h.9v.9h-.9zM105.81 477.03h.9v.9h-.9zM114.07 476.73h.9v.9h-.9zM113.17 476.7h.9v.9h-.9zM107.94 476.69h.9v.9h-.9zM111.85 476.65h.9v.9h-.9zM108.45 476.78h.9v.9h-.9zM109.22 476.72h.9v.9h-.9zM111.13 476.61h.9v.9h-.9zM109.22 476.59h.9v.9h-.9zM115.38 476.45h.9v.9h-.9zM105.48 477.46h.9v.9h-.9zM116.8 476.59h.9v.9h-.9zM111.93 476.81h.9v.9h-.9zM114.97 476.9h.9v.9h-.9zM119.07 476.48h.9v.9h-.9zM106.23 476.72h.9v.9h-.9zM117.14 476.67h.9v.9h-.9zM147.53 476.62h.9v.9h-.9zM141.84 476.54h.9v.9h-.9zM142.79 476.66h.9v.9h-.9zM149.95 476.83h.9v.9h-.9zM151.07 476.46h.9v.9h-.9zM178.51 477.15h.9v.9h-.9zM149.5 476.67h.9v.9h-.9zM156.33 476.44h.9v.9h-.9zM139.21 476.51h.9v.9h-.9zM167.39 476.87h.9v.9h-.9zM146.5 476.52h.9v.9h-.9zM137.36 476.54h.9v.9h-.9zM159.89 476.97h.9v.9h-.9zM154.63 476.62h.9v.9h-.9zM143.45 476.58h.9v.9h-.9zM151.97 476.67h.9v.9h-.9zM137.05 476.81h.9v.9h-.9zM148.71 476.44h.9v.9h-.9zM150.39 476.76h.9v.9h-.9zM145.13 476.73h.9v.9h-.9zM137.02 476.49h.9v.9h-.9zM146.17 476.45h.9v.9h-.9zM140.87 476.5h.9v.9h-.9zM157.47 476.44h.9v.9h-.9zM150.66 476.72h.9v.9h-.9zM138.33 477.23h.9v.9h-.9zM138.18 476.58h.9v.9h-.9zM146.09 476.63h.9v.9h-.9zM157.61 476.47h.9v.9h-.9zM142.65 476.82h.9v.9h-.9zM143.32 477.52h.9v.9h-.9zM140.07 476.9h.9v.9h-.9zM151.04 476.76h.9v.9h-.9zM160.85 476.89h.9v.9h-.9zM154.39 476.75h.9v.9h-.9zM146.79 476.64h.9v.9h-.9zM137.65 476.67h.9v.9h-.9zM145.42 476.44h.9v.9h-.9zM143.9 476.54h.9v.9h-.9zM160.83 476.92h.9v.9h-.9zM138.17 476.54h.9v.9h-.9zM139.85 476.45h.9v.9h-.9zM161.73 476.77h.9v.9h-.9zM137.52 476.72h.9v.9h-.9zM137.89 477.17h.9v.9h-.9zM147.09 476.81h.9v.9h-.9zM137.35 476.73h.9v.9h-.9zM176.79 476.58h.9v.9h-.9zM147.76 476.44h.9v.9h-.9zM143.16 477.04h.9v.9h-.9zM137.92 476.58h.9v.9h-.9zM158.97 476.68h.9v.9h-.9zM142.97 476.71h.9v.9h-.9zM154.18 476.64h.9v.9h-.9zM138.79 477.05h.9v.9h-.9zM145.44 476.48h.9v.9h-.9zM181.76 476.82h.9v.9h-.9zM159.27 476.57h.9v.9h-.9zM142.04 476.55h.9v.9h-.9zM143.13 477.39h.9v.9h-.9zM155.12 476.74h.9v.9h-.9zM196.96 476.49h.9v.9h-.9zM145.2 477h.9v.9h-.9zM143.86 477.16h.9v.9h-.9zM150.87 476.52h.9v.9h-.9zM148.74 476.57h.9v.9h-.9zM156.52 476.47h.9v.9h-.9zM138.99 476.59h.9v.9h-.9zM152.16 476.86h.9v.9h-.9zM141.6 476.91h.9v.9h-.9zM138.32 476.76h.9v.9h-.9zM142.4 476.44h.9v.9h-.9zM140.79 476.6h.9v.9h-.9zM144.23 476.62h.9v.9h-.9zM146.84 476.51h.9v.9h-.9zM142.29 476.48h.9v.9h-.9zM138.14 476.71h.9v.9h-.9zM142.89 476.63h.9v.9h-.9zM141.16 476.55h.9v.9h-.9zM165.26 476.54h.9v.9h-.9zM165.78 476.93h.9v.9h-.9zM139.21 476.5h.9v.9h-.9zM142.81 476.64h.9v.9h-.9zM145.26 476.68h.9v.9h-.9zM137.74 476.8h.9v.9h-.9zM145.04 476.59h.9v.9h-.9zM137.92 476.43h.9v.9h-.9zM148.95 476.72h.9v.9h-.9zM147.97 476.49h.9v.9h-.9zM141.39 476.6h.9v.9h-.9zM173.32 476.7h.9v.9h-.9zM156.89 476.9h.9v.9h-.9zM141.83 476.79h.9v.9h-.9zM160.96 477.05h.9v.9h-.9zM181.71 476.65h.9v.9h-.9zM172.96 476.69h.9v.9h-.9zM139.68 476.82h.9v.9h-.9zM179.35 477.35h.9v.9h-.9zM141.16 476.58h.9v.9h-.9zM147.44 476.86h.9v.9h-.9zM140.34 476.94h.9v.9h-.9zM143.05 476.93h.9v.9h-.9zM138.42 476.91h.9v.9h-.9zM146.59 476.63h.9v.9h-.9zM150.95 477.34h.9v.9h-.9zM144.52 476.73h.9v.9h-.9zM152.02 476.73h.9v.9h-.9zM151.39 476.55h.9v.9h-.9zM157.86 476.54h.9v.9h-.9zM145.41 476.81h.9v.9h-.9zM149.22 476.46h.9v.9h-.9zM152.31 477h.9v.9h-.9zM155.99 477.49h.9v.9h-.9zM144.93 476.96h.9v.9h-.9zM143.21 477.3h.9v.9h-.9zM151.34 476.47h.9v.9h-.9zM146.54 476.52h.9v.9h-.9zM164.58 476.79h.9v.9h-.9zM146.36 476.54h.9v.9h-.9zM154.87 476.56h.9v.9h-.9zM150.06 476.77h.9v.9h-.9zM137.49 476.87h.9v.9h-.9zM187.25 476.6h.9v.9h-.9zM154.04 476.78h.9v.9h-.9zM178.22 476.48h.9v.9h-.9zM140.6 476.45h.9v.9h-.9zM145.69 476.94h.9v.9h-.9zM147.42 476.49h.9v.9h-.9zM144.16 476.95h.9v.9h-.9zM147.81 476.85h.9v.9h-.9zM145.44 476.48h.9v.9h-.9zM138.29 476.5h.9v.9h-.9zM143.52 476.62h.9v.9h-.9zM171.51 476.48h.9v.9h-.9zM138.81 476.59h.9v.9h-.9zM139.78 476.83h.9v.9h-.9zM145.01 476.84h.9v.9h-.9zM151.54 476.49h.9v.9h-.9zM141.64 476.65h.9v.9h-.9zM138.44 477.1h.9v.9h-.9zM160.09 476.78h.9v.9h-.9zM139.14 476.9h.9v.9h-.9zM187.47 476.44h.9v.9h-.9zM139.08 476.67h.9v.9h-.9zM146.98 476.7h.9v.9h-.9zM143.3 476.5h.9v.9h-.9zM139.44 476.69h.9v.9h-.9zM137.3 476.75h.9v.9h-.9zM148.59 476.6h.9v.9h-.9zM142.97 476.92h.9v.9h-.9zM151.87 476.61h.9v.9h-.9zM157.18 477.05h.9v.9h-.9zM137.73 477.06h.9v.9h-.9zM139.47 476.9h.9v.9h-.9zM141.77 476.72h.9v.9h-.9zM161.24 476.51h.9v.9h-.9zM146.12 476.77h.9v.9h-.9zM148.51 476.83h.9v.9h-.9zM147.76 476.86h.9v.9h-.9zM148.7 477.04h.9v.9h-.9zM157.51 476.52h.9v.9h-.9zM148.61 476.74h.9v.9h-.9zM138.02 476.56h.9v.9h-.9zM141.4 476.58h.9v.9h-.9zM139.41 476.59h.9v.9h-.9zM143.57 476.87h.9v.9h-.9zM138.76 476.62h.9v.9h-.9zM149.29 476.6h.9v.9h-.9zM151.41 477.45h.9v.9h-.9zM146.85 477.75h.9v.9h-.9zM145.17 476.64h.9v.9h-.9zM144.28 476.69h.9v.9h-.9zM137.61 476.46h.9v.9h-.9zM138.74 476.47h.9v.9h-.9zM157.61 476.88h.9v.9h-.9zM145.3 476.53h.9v.9h-.9zM151.07 477.07h.9v.9h-.9zM145.15 476.81h.9v.9h-.9zM138 477.08h.9v.9h-.9zM141.17 476.56h.9v.9h-.9zM140.87 476.66h.9v.9h-.9zM144.42 476.49h.9v.9h-.9zM153.55 476.48h.9v.9h-.9zM138.41 476.92h.9v.9h-.9zM138.42 476.54h.9v.9h-.9zM142.53 477.14h.9v.9h-.9zM158.11 477.03h.9v.9h-.9zM146.61 476.59h.9v.9h-.9zM193.03 477.02h.9v.9h-.9zM153.97 476.87h.9v.9h-.9zM141.27 476.85h.9v.9h-.9zM142.19 476.43h.9v.9h-.9zM157.71 477.58h.9v.9h-.9zM155.23 476.89h.9v.9h-.9zM140.25 476.62h.9v.9h-.9zM142.22 476.91h.9v.9h-.9zM152.12 476.59h.9v.9h-.9zM138.78 476.6h.9v.9h-.9zM139.77 476.47h.9v.9h-.9zM142.23 476.56h.9v.9h-.9zM140.98 476.76h.9v.9h-.9zM151.84 476.51h.9v.9h-.9zM141.12 476.51h.9v.9h-.9zM188.74 477.19h.9v.9h-.9zM150.86 477.25h.9v.9h-.9zM155.79 476.99h.9v.9h-.9zM167.67 477.21h.9v.9h-.9zM138.6 476.47h.9v.9h-.9zM161.55 476.43h.9v.9h-.9zM158.52 477.04h.9v.9h-.9zM154.48 476.63h.9v.9h-.9zM147.48 476.83h.9v.9h-.9zM140.77 476.8h.9v.9h-.9zM149.23 476.65h.9v.9h-.9zM162.9 476.82h.9v.9h-.9zM140.93 476.69h.9v.9h-.9zM170.65 477.08h.9v.9h-.9zM141.79 477.13h.9v.9h-.9zM136.97 476.53h.9v.9h-.9zM153.01 477.05h.9v.9h-.9zM144.45 476.62h.9v.9h-.9zM137.74 476.74h.9v.9h-.9zM146.3 476.51h.9v.9h-.9zM139.85 476.83h.9v.9h-.9zM140.77 476.6h.9v.9h-.9zM147.5 476.74h.9v.9h-.9zM147.16 476.79h.9v.9h-.9zM150.98 476.46h.9v.9h-.9zM137.55 476.98h.9v.9h-.9zM144.47 476.83h.9v.9h-.9zM138.56 476.69h.9v.9h-.9zM136.95 476.76h.9v.9h-.9zM175.75 476.61h.9v.9h-.9zM138.67 477h.9v.9h-.9zM149.79 476.92h.9v.9h-.9zM140.86 477.19h.9v.9h-.9zM149.95 476.43h.9v.9h-.9zM165.6 476.8h.9v.9h-.9zM139.16 476.69h.9v.9h-.9zM151.65 476.63h.9v.9h-.9zM140.21 476.77h.9v.9h-.9zM136.95 476.93h.9v.9h-.9zM144.87 476.62h.9v.9h-.9zM150.89 476.64h.9v.9h-.9zM137.05 476.67h.9v.9h-.9zM191.23 477.11h.9v.9h-.9zM143.66 476.53h.9v.9h-.9zM142.85 476.54h.9v.9h-.9zM153 476.7h.9v.9h-.9zM162.99 476.63h.9v.9h-.9zM138.75 476.53h.9v.9h-.9zM138.69 477.07h.9v.9h-.9zM197.56 476.73h.9v.9h-.9zM137.04 476.8h.9v.9h-.9zM149.79 477.01h.9v.9h-.9zM149.05 476.66h.9v.9h-.9zM138.95 476.93h.9v.9h-.9zM161 476.74h.9v.9h-.9zM138.05 476.95h.9v.9h-.9zM147.84 476.81h.9v.9h-.9zM142.87 476.76h.9v.9h-.9zM138.78 476.51h.9v.9h-.9zM140.91 476.86h.9v.9h-.9zM148.15 476.68h.9v.9h-.9zM148.39 476.54h.9v.9h-.9zM159.99 477.02h.9v.9h-.9zM150.09 476.58h.9v.9h-.9zM145.66 476.88h.9v.9h-.9zM153.8 476.47h.9v.9h-.9zM164.87 476.55h.9v.9h-.9zM174.81 476.62h.9v.9h-.9zM145.41 476.44h.9v.9h-.9zM147.97 477.49h.9v.9h-.9zM189.98 476.62h.9v.9h-.9zM170.19 476.95h.9v.9h-.9zM147.22 477h.9v.9h-.9zM142.51 476.7h.9v.9h-.9zM174.75 477.03h.9v.9h-.9zM154.95 476.57h.9v.9h-.9zM140.66 476.45h.9v.9h-.9zM137.44 477.07h.9v.9h-.9zM145.59 476.68h.9v.9h-.9zM149.06 476.83h.9v.9h-.9zM151.75 476.43h.9v.9h-.9zM137.99 476.95h.9v.9h-.9zM140.92 476.55h.9v.9h-.9zM141.48 476.69h.9v.9h-.9zM157.14 476.45h.9v.9h-.9zM146.35 476.86h.9v.9h-.9zM158.96 476.78h.9v.9h-.9zM150.93 476.98h.9v.9h-.9zM152.96 476.67h.9v.9h-.9zM159.87 476.58h.9v.9h-.9zM143.92 476.49h.9v.9h-.9zM144.33 476.69h.9v.9h-.9zM153.51 476.64h.9v.9h-.9zM153.46 476.88h.9v.9h-.9zM151.74 476.85h.9v.9h-.9zM139.13 476.88h.9v.9h-.9zM155.64 476.57h.9v.9h-.9zM152.55 476.53h.9v.9h-.9zM155.53 476.61h.9v.9h-.9zM140.77 476.93h.9v.9h-.9zM137.31 476.87h.9v.9h-.9zM157.08 476.45h.9v.9h-.9zM152.19 476.57h.9v.9h-.9zM147.46 476.81h.9v.9h-.9zM142.4 476.63h.9v.9h-.9zM145.41 476.77h.9v.9h-.9zM140.55 476.58h.9v.9h-.9zM138.27 476.99h.9v.9h-.9zM140.11 476.71h.9v.9h-.9zM145.64 477.18h.9v.9h-.9zM140.37 476.64h.9v.9h-.9zM144.75 476.59h.9v.9h-.9zM169.69 476.58h.9v.9h-.9zM160.79 477.24h.9v.9h-.9zM153.46 476.71h.9v.9h-.9zM143.59 476.61h.9v.9h-.9zM152.53 476.79h.9v.9h-.9zM140.81 476.76h.9v.9h-.9zM145.47 476.61h.9v.9h-.9zM165.36 476.73h.9v.9h-.9zM185.72 477.06h.9v.9h-.9zM174.65 476.82h.9v.9h-.9zM141 476.61h.9v.9h-.9zM159.75 476.66h.9v.9h-.9zM137.04 476.87h.9v.9h-.9zM139.68 476.73h.9v.9h-.9zM148.87 476.56h.9v.9h-.9zM144.57 476.81h.9v.9h-.9zM155.07 476.68h.9v.9h-.9zM139.6 476.96h.9v.9h-.9zM140.38 476.81h.9v.9h-.9zM137.02 476.67h.9v.9h-.9zM142.15 476.58h.9v.9h-.9zM159.34 477.11h.9v.9h-.9zM136.96 477.1h.9v.9h-.9zM150.05 476.8h.9v.9h-.9zM138.28 476.94h.9v.9h-.9zM146.18 476.46h.9v.9h-.9zM137.7 476.88h.9v.9h-.9zM207.87 476.47h.9v.9h-.9zM168.05 476.6h.9v.9h-.9zM164.79 477.03h.9v.9h-.9zM142.64 476.5h.9v.9h-.9zM181.87 476.58h.9v.9h-.9zM138.69 476.52h.9v.9h-.9zM157.92 476.88h.9v.9h-.9zM143.93 476.66h.9v.9h-.9zM177.7 476.46h.9v.9h-.9zM141.57 476.73h.9v.9h-.9zM156.69 476.62h.9v.9h-.9zM141.63 477.03h.9v.9h-.9zM140.82 476.66h.9v.9h-.9zM155.47 476.55h.9v.9h-.9zM147.7 476.56h.9v.9h-.9zM144.62 476.62h.9v.9h-.9zM143.33 477.41h.9v.9h-.9zM139.79 476.65h.9v.9h-.9zM141.45 476.45h.9v.9h-.9zM139.04 476.63h.9v.9h-.9zM151.12 476.71h.9v.9h-.9zM137.44 476.96h.9v.9h-.9zM159.06 476.51h.9v.9h-.9zM140.43 476.58h.9v.9h-.9zM142.32 477.01h.9v.9h-.9zM140.63 476.48h.9v.9h-.9zM194.16 476.82h.9v.9h-.9zM144.31 476.51h.9v.9h-.9zM153.81 476.43h.9v.9h-.9zM156.88 476.86h.9v.9h-.9zM138.78 477.16h.9v.9h-.9zM186.5 476.48h.9v.9h-.9zM138.65 476.6h.9v.9h-.9zM149.12 476.77h.9v.9h-.9zM149.6 476.69h.9v.9h-.9zM157.44 476.58h.9v.9h-.9zM137.21 477.2h.9v.9h-.9zM144.11 476.76h.9v.9h-.9zM138.63 477.03h.9v.9h-.9zM141.87 476.84h.9v.9h-.9zM137.47 476.66h.9v.9h-.9zM147.38 476.49h.9v.9h-.9zM158.04 476.51h.9v.9h-.9zM151.01 476.49h.9v.9h-.9zM139.26 476.49h.9v.9h-.9zM140.96 476.67h.9v.9h-.9zM163.24 476.96h.9v.9h-.9zM140.39 476.55h.9v.9h-.9zM141.22 476.85h.9v.9h-.9zM137.71 476.69h.9v.9h-.9zM140.96 476.6h.9v.9h-.9zM163.37 476.63h.9v.9h-.9zM146.07 476.91h.9v.9h-.9zM156.33 476.94h.9v.9h-.9zM192.59 476.5h.9v.9h-.9zM146.56 476.79h.9v.9h-.9zM145.05 476.82h.9v.9h-.9zM142.96 476.67h.9v.9h-.9zM139.37 476.54h.9v.9h-.9zM164.61 476.68h.9v.9h-.9zM155.39 477.55h.9v.9h-.9zM146.17 476.86h.9v.9h-.9zM154.76 477.48h.9v.9h-.9zM138.23 476.43h.9v.9h-.9zM150.03 476.5h.9v.9h-.9zM167.44 477.14h.9v.9h-.9zM137.64 476.7h.9v.9h-.9zM159.88 476.44h.9v.9h-.9zM156.48 476.88h.9v.9h-.9zM159.78 477.02h.9v.9h-.9zM139.31 477.02h.9v.9h-.9zM151.58 476.82h.9v.9h-.9zM166.96 477.02h.9v.9h-.9zM173.02 476.54h.9v.9h-.9zM147.09 476.66h.9v.9h-.9zM191.08 476.53h.9v.9h-.9zM163.06 476.76h.9v.9h-.9zM145.19 476.45h.9v.9h-.9zM138.1 476.46h.9v.9h-.9zM146.09 476.7h.9v.9h-.9zM136.95 476.66h.9v.9h-.9zM138.65 476.56h.9v.9h-.9zM152.39 477.08h.9v.9h-.9zM141.73 476.8h.9v.9h-.9zM137.21 477.17h.9v.9h-.9zM155.16 476.88h.9v.9h-.9zM159.88 477.06h.9v.9h-.9zM142.67 477.19h.9v.9h-.9zM171.77 476.57h.9v.9h-.9zM141.34 476.54h.9v.9h-.9zM138.74 476.95h.9v.9h-.9zM156.15 477.22h.9v.9h-.9zM176.54 476.57h.9v.9h-.9zM179.35 476.62h.9v.9h-.9zM151.42 477.05h.9v.9h-.9zM140.03 476.73h.9v.9h-.9zM147.82 476.58h.9v.9h-.9zM151.22 476.73h.9v.9h-.9zM138.61 476.56h.9v.9h-.9zM173.29 477.37h.9v.9h-.9zM143.02 477.44h.9v.9h-.9zM137.34 476.47h.9v.9h-.9zM148.23 477.33h.9v.9h-.9zM140 476.91h.9v.9h-.9zM147.14 476.63h.9v.9h-.9zM153.68 476.51h.9v.9h-.9zM140.27 476.66h.9v.9h-.9zM163.44 476.46h.9v.9h-.9zM138.08 476.57h.9v.9h-.9zM163.59 476.97h.9v.9h-.9zM144.18 476.46h.9v.9h-.9zM137.8 476.72h.9v.9h-.9zM140.57 476.45h.9v.9h-.9zM142.91 476.44h.9v.9h-.9zM153.08 477.22h.9v.9h-.9zM145.26 476.59h.9v.9h-.9zM142.77 476.6h.9v.9h-.9zM144.93 476.48h.9v.9h-.9zM161.36 476.78h.9v.9h-.9zM139.11 476.91h.9v.9h-.9zM137.88 476.61h.9v.9h-.9zM141.64 476.7h.9v.9h-.9zM174.02 476.64h.9v.9h-.9zM142.7 476.54h.9v.9h-.9zM153.06 477.22h.9v.9h-.9zM138.14 476.67h.9v.9h-.9zM147.97 476.77h.9v.9h-.9zM137.33 476.72h.9v.9h-.9zM171.88 476.85h.9v.9h-.9zM139.03 477.13h.9v.9h-.9zM138.25 476.5h.9v.9h-.9zM151.56 476.67h.9v.9h-.9zM152.61 476.47h.9v.9h-.9zM140.99 476.73h.9v.9h-.9zM140.26 476.91h.9v.9h-.9zM159.36 476.59h.9v.9h-.9zM138.98 476.69h.9v.9h-.9zM141.21 476.75h.9v.9h-.9zM117.58 482.3h.9v.9h-.9zM109.5 478.22h.9v.9h-.9zM109.46 490.29h.9v.9h-.9zM119.33 484.19h.9v.9h-.9zM109.94 485.13h.9v.9h-.9zM117.63 492.21h.9v.9h-.9zM105.16 477.2h.9v.9h-.9zM108.97 482.89h.9v.9h-.9zM115.46 479.47h.9v.9h-.9zM113.09 487.27h.9v.9h-.9zM109.18 481.66h.9v.9h-.9zM114.83 492.61h.9v.9h-.9zM113.36 479.12h.9v.9h-.9zM115.84 487.14h.9v.9h-.9zM107.48 476.66h.9v.9h-.9zM113.13 479.47h.9v.9h-.9zM113.2 481.52h.9v.9h-.9zM102.89 480.44h.9v.9h-.9zM118.21 487.64h.9v.9h-.9zM109.14 477.33h.9v.9h-.9zM108.75 482.77h.9v.9h-.9zM121.76 482.33h.9v.9h-.9zM117.56 479.06h.9v.9h-.9zM113.66 477.65h.9v.9h-.9zM118.39 488.28h.9v.9h-.9zM114.14 483.39h.9v.9h-.9zM104.75 478.73h.9v.9h-.9zM116.74 483.49h.9v.9h-.9zM111.94 478.2h.9v.9h-.9zM117 480.98h.9v.9h-.9zM112.09 493.26h.9v.9h-.9zM110.84 481.73h.9v.9h-.9zM111.83 477.76h.9v.9h-.9zM113.82 482.83h.9v.9h-.9zM113.41 477.68h.9v.9h-.9zM105.96 479.69h.9v.9h-.9zM114.18 479.43h.9v.9h-.9zM111.11 482.37h.9v.9h-.9zM119.16 482.52h.9v.9h-.9zM111.55 493h.9v.9h-.9zM107.63 480.29h.9v.9h-.9zM103.4 476.62h.9v.9h-.9zM111.84 481.75h.9v.9h-.9zM114.29 490.08h.9v.9h-.9zM116.39 487.66h.9v.9h-.9zM119.86 491.64h.9v.9h-.9zM109.59 477.9h.9v.9h-.9zM109.34 484.4h.9v.9h-.9zM115.07 482.98h.9v.9h-.9zM113.1 491.43h.9v.9h-.9zM106.56 478.22h.9v.9h-.9zM114.15 485.63h.9v.9h-.9zM114.01 486.37h.9v.9h-.9zM112.88 490.7h.9v.9h-.9zM104.17 477.53h.9v.9h-.9zM111.29 477.3h.9v.9h-.9zM119.09 491.37h.9v.9h-.9zM115.48 481.84h.9v.9h-.9zM112.59 481.79h.9v.9h-.9zM119.92 483.24h.9v.9h-.9zM118.62 478.74h.9v.9h-.9zM115.16 480.85h.9v.9h-.9zM113.59 485.48h.9v.9h-.9zM107.25 484.29h.9v.9h-.9zM113.08 481.34h.9v.9h-.9zM108.35 477.85h.9v.9h-.9zM111.09 494.06h.9v.9h-.9zM116.36 486.25h.9v.9h-.9zM120.12 488.41h.9v.9h-.9zM105.29 476.94h.9v.9h-.9zM112.03 477.86h.9v.9h-.9zM104.57 481.33h.9v.9h-.9zM109.51 486.5h.9v.9h-.9zM117.5 481.06h.9v.9h-.9zM111.34 489.5h.9v.9h-.9zM109.92 479.97h.9v.9h-.9zM113.37 491.43h.9v.9h-.9zM115.97 479.62h.9v.9h-.9zM111.26 480.55h.9v.9h-.9zM115.52 478.19h.9v.9h-.9zM108.49 483.31h.9v.9h-.9zM117.15 483.73h.9v.9h-.9zM105.83 477.52h.9v.9h-.9zM115.35 481.88h.9v.9h-.9zM109.36 479.06h.9v.9h-.9zM105.19 479.03h.9v.9h-.9zM116.44 484.03h.9v.9h-.9zM119.08 479.5h.9v.9h-.9zM108.39 477.34h.9v.9h-.9zM112.05 483.03h.9v.9h-.9zM110.61 481.44h.9v.9h-.9zM112.39 476.73h.9v.9h-.9zM123.23 484.14h.9v.9h-.9zM110.31 478.13h.9v.9h-.9zM108.27 484.01h.9v.9h-.9zM113.78 479.11h.9v.9h-.9zM113.8 486.82h.9v.9h-.9zM108.45 478.86h.9v.9h-.9zM108.87 483.79h.9v.9h-.9zM107.01 478.47h.9v.9h-.9zM119.02 487.45h.9v.9h-.9zM112.92 484h.9v.9h-.9zM108.49 480.96h.9v.9h-.9zM114.78 483.74h.9v.9h-.9zM109.51 489.62h.9v.9h-.9zM112.67 480.68h.9v.9h-.9zM110.42 485.34h.9v.9h-.9zM108.09 486.64h.9v.9h-.9zM111.58 486.67h.9v.9h-.9zM116.77 480.47h.9v.9h-.9zM105.98 483.71h.9v.9h-.9zM114.88 481.54h.9v.9h-.9zM104.77 477.84h.9v.9h-.9zM108.3 488.25h.9v.9h-.9zM110 479.43h.9v.9h-.9zM110.67 479.83h.9v.9h-.9zM112.23 481.92h.9v.9h-.9zM106.9 483.05h.9v.9h-.9zM112.02 481.48h.9v.9h-.9zM121.89 484.94h.9v.9h-.9zM112.05 487h.9v.9h-.9zM114.43 489.64h.9v.9h-.9zM111.5 480.21h.9v.9h-.9zM106.16 479.06h.9v.9h-.9zM107.44 479.43h.9v.9h-.9zM115.36 478.71h.9v.9h-.9zM111.25 480.11h.9v.9h-.9zM118.13 483.72h.9v.9h-.9zM118.63 483.25h.9v.9h-.9zM112.97 479.07h.9v.9h-.9zM122.81 481.25h.9v.9h-.9zM106.52 477.55h.9v.9h-.9zM117.11 488.38h.9v.9h-.9zM109.52 486.1h.9v.9h-.9zM110.11 483.54h.9v.9h-.9zM117.48 488.95h.9v.9h-.9zM115.47 481.14h.9v.9h-.9zM113.02 488.77h.9v.9h-.9zM112.15 495.33h.9v.9h-.9zM110.62 482.6h.9v.9h-.9zM115.66 488.3h.9v.9h-.9zM116.34 485.88h.9v.9h-.9zM114.97 478.13h.9v.9h-.9zM112.93 477.56h.9v.9h-.9zM116.72 481.74h.9v.9h-.9zM106.1 488.27h.9v.9h-.9zM106.65 485.22h.9v.9h-.9zM106.13 485.3h.9v.9h-.9zM110.21 485h.9v.9h-.9zM113.08 498.29h.9v.9h-.9zM115.78 481.65h.9v.9h-.9zM110.5 485.55h.9v.9h-.9zM116.56 482.01h.9v.9h-.9zM113.18 483.01h.9v.9h-.9zM109.84 485.42h.9v.9h-.9zM116 476.43h.9v.9h-.9zM106.04 479.74h.9v.9h-.9zM109.14 488.31h.9v.9h-.9zM110.04 481.96h.9v.9h-.9zM115.07 479.42h.9v.9h-.9zM119.27 483.65h.9v.9h-.9zM112.48 485.59h.9v.9h-.9zM115.04 486.7h.9v.9h-.9zM112.56 477.18h.9v.9h-.9zM112.29 480.33h.9v.9h-.9zM109.21 485.31h.9v.9h-.9zM118.36 494.05h.9v.9h-.9zM119.62 479h.9v.9h-.9zM115.14 481.79h.9v.9h-.9zM119.16 483.95h.9v.9h-.9zM111.64 480.71h.9v.9h-.9zM107.4 476.5h.9v.9h-.9zM113.34 484.48h.9v.9h-.9zM112.81 486.17h.9v.9h-.9zM108.98 484.94h.9v.9h-.9zM123.17 483.01h.9v.9h-.9zM116.84 488.53h.9v.9h-.9zM111.11 497.46h.9v.9h-.9zM107.94 482.13h.9v.9h-.9zM116.42 489.48h.9v.9h-.9zM118.9 484.78h.9v.9h-.9zM110.4 481.04h.9v.9h-.9zM105.81 478.35h.9v.9h-.9zM119.54 497.02h.9v.9h-.9zM113.5 489.15h.9v.9h-.9zM115.46 480.11h.9v.9h-.9zM115.1 487.5h.9v.9h-.9zM109.66 483.23h.9v.9h-.9zM119.33 485.05h.9v.9h-.9zM106.7 476.7h.9v.9h-.9zM109.89 480.69h.9v.9h-.9zM111.87 476.49h.9v.9h-.9zM112.17 476.48h.9v.9h-.9zM105.24 479.97h.9v.9h-.9zM117.94 485.42h.9v.9h-.9zM108.24 478.72h.9v.9h-.9zM104.61 479.29h.9v.9h-.9zM114.87 480.08h.9v.9h-.9zM109.39 486.1h.9v.9h-.9zM119.1 486.89h.9v.9h-.9zM106.8 487.76h.9v.9h-.9zM117.99 484.74h.9v.9h-.9zM107.81 479.67h.9v.9h-.9zM107.77 477.85h.9v.9h-.9zM109.67 481.28h.9v.9h-.9zM108.24 482.69h.9v.9h-.9zM114.22 477.95h.9v.9h-.9zM105.67 482.73h.9v.9h-.9zM112.44 480.37h.9v.9h-.9zM115.17 486.84h.9v.9h-.9zM116.17 484.59h.9v.9h-.9zM115.5 477.96h.9v.9h-.9zM106.86 481.6h.9v.9h-.9zM110.09 485.29h.9v.9h-.9zM110.88 479.62h.9v.9h-.9zM108.85 480.15h.9v.9h-.9zM113.16 486.59h.9v.9h-.9zM112.96 476.56h.9v.9h-.9zM115.24 485.83h.9v.9h-.9zM114.88 490.83h.9v.9h-.9zM118.74 493.62h.9v.9h-.9zM115.58 483.2h.9v.9h-.9zM116.03 479.94h.9v.9h-.9zM110.1 484.91h.9v.9h-.9zM109.98 485.71h.9v.9h-.9zM114.59 486.31h.9v.9h-.9zM114.19 476.57h.9v.9h-.9zM116.34 482.17h.9v.9h-.9zM114.37 482.67h.9v.9h-.9zM119.3 478.31h.9v.9h-.9zM109.26 481.49h.9v.9h-.9zM110.16 478.17h.9v.9h-.9zM117.48 481.34h.9v.9h-.9zM106.31 477.32h.9v.9h-.9zM113.18 483.97h.9v.9h-.9zM116.6 481.17h.9v.9h-.9zM111.63 485.33h.9v.9h-.9zM113.09 477.4h.9v.9h-.9zM109.61 478.14h.9v.9h-.9zM108.92 488.47h.9v.9h-.9zM113.86 479.59h.9v.9h-.9zM111.41 480.81h.9v.9h-.9zM116.56 485.77h.9v.9h-.9zM116.9 486.2h.9v.9h-.9zM106.55 484.35h.9v.9h-.9zM113.22 480.42h.9v.9h-.9zM113.39 476.78h.9v.9h-.9zM109.94 489.35h.9v.9h-.9zM109.17 486.59h.9v.9h-.9zM110.08 476.82h.9v.9h-.9zM108.41 478.22h.9v.9h-.9zM107.23 491.81h.9v.9h-.9zM112.42 485.61h.9v.9h-.9zM109.17 478.53h.9v.9h-.9zM116.75 477.89h.9v.9h-.9zM112.59 480.21h.9v.9h-.9zM119.57 489.39h.9v.9h-.9zM115.12 484.67h.9v.9h-.9zM115.35 485.64h.9v.9h-.9zM112.34 481.85h.9v.9h-.9zM107 476.57h.9v.9h-.9zM111.03 485.26h.9v.9h-.9zM121 478.24h.9v.9h-.9zM114.01 478.23h.9v.9h-.9zM106.48 481.51h.9v.9h-.9zM110.85 490.13h.9v.9h-.9zM109.32 477.86h.9v.9h-.9zM112.95 486.19h.9v.9h-.9zM117.24 478.55h.9v.9h-.9zM113.79 485.13h.9v.9h-.9zM120.57 484.57h.9v.9h-.9zM109.05 480.34h.9v.9h-.9zM115.44 489.73h.9v.9h-.9zM111.95 484.72h.9v.9h-.9zM104.41 476.6h.9v.9h-.9zM112.86 480.18h.9v.9h-.9zM106.72 477.23h.9v.9h-.9zM113.01 488.1h.9v.9h-.9zM108.58 480.1h.9v.9h-.9zM111.95 476.66h.9v.9h-.9zM115.81 481.27h.9v.9h-.9zM111.31 478.88h.9v.9h-.9zM112.03 477.32h.9v.9h-.9zM120.11 483.95h.9v.9h-.9zM110.68 486.75h.9v.9h-.9zM107.7 484.4h.9v.9h-.9zM120.65 484.99h.9v.9h-.9zM113.27 484.1h.9v.9h-.9zM118.74 483.48h.9v.9h-.9zM111.84 480.95h.9v.9h-.9zM113.17 479.28h.9v.9h-.9zM106.91 479.46h.9v.9h-.9zM111.53 480.49h.9v.9h-.9zM116.46 478.19h.9v.9h-.9zM106.61 477.18h.9v.9h-.9zM110.72 478.86h.9v.9h-.9zM112.05 478.61h.9v.9h-.9zM111.99 478.95h.9v.9h-.9zM105.27 481.63h.9v.9h-.9zM111.26 477.91h.9v.9h-.9zM113.92 488.37h.9v.9h-.9zM106.9 479.33h.9v.9h-.9zM119.16 490.09h.9v.9h-.9zM113.86 478.67h.9v.9h-.9zM112.08 481.89h.9v.9h-.9zM111.34 487h.9v.9h-.9zM110.27 484.52h.9v.9h-.9zM116.16 482.65h.9v.9h-.9zM106.83 478.7h.9v.9h-.9zM112.19 478.18h.9v.9h-.9zM109.36 485.98h.9v.9h-.9zM108.29 484.11h.9v.9h-.9zM112.31 492h.9v.9h-.9zM113.72 484.3h.9v.9h-.9zM111.18 479.17h.9v.9h-.9zM115.18 478.42h.9v.9h-.9zM110.84 483.64h.9v.9h-.9zM109.54 480.05h.9v.9h-.9zM107.85 477.29h.9v.9h-.9zM115.81 482.48h.9v.9h-.9zM111.16 488.47h.9v.9h-.9zM109.95 477.16h.9v.9h-.9zM115.18 486.84h.9v.9h-.9zM106.44 483.19h.9v.9h-.9zM117.92 492.66h.9v.9h-.9zM103.56 478.43h.9v.9h-.9zM110.78 484.96h.9v.9h-.9zM107.88 483.64h.9v.9h-.9zM117.13 483.5h.9v.9h-.9zM120.57 477.88h.9v.9h-.9zM119.97 487.98h.9v.9h-.9zM107.97 479.45h.9v.9h-.9zM118.62 480.82h.9v.9h-.9zM113.99 477.74h.9v.9h-.9zM108.47 476.62h.9v.9h-.9zM115.04 484.32h.9v.9h-.9zM110.05 478.72h.9v.9h-.9zM117.72 494.25h.9v.9h-.9zM118.93 479.09h.9v.9h-.9zM114.67 481.55h.9v.9h-.9zM104.69 480.04h.9v.9h-.9zM105.93 482.83h.9v.9h-.9zM112.43 482.4h.9v.9h-.9zM111.14 478.39h.9v.9h-.9zM112.79 491.82h.9v.9h-.9zM107.88 485.11h.9v.9h-.9zM109.12 477.93h.9v.9h-.9zM107.18 479.77h.9v.9h-.9zM112.69 482.9h.9v.9h-.9zM105.2 479.8h.9v.9h-.9zM105.71 477.02h.9v.9h-.9zM115.9 478.42h.9v.9h-.9zM105.22 483.19h.9v.9h-.9zM116.99 487.77h.9v.9h-.9zM109.16 478.68h.9v.9h-.9zM113.11 485.32h.9v.9h-.9zM108.87 479.11h.9v.9h-.9zM111.28 487.1h.9v.9h-.9zM110.74 476.88h.9v.9h-.9zM115.4 486h.9v.9h-.9zM111.15 477.38h.9v.9h-.9zM121.23 483.5h.9v.9h-.9zM116.95 485.22h.9v.9h-.9zM115.04 481.58h.9v.9h-.9zM106.32 480.52h.9v.9h-.9zM108.99 480.62h.9v.9h-.9zM107.15 478.26h.9v.9h-.9zM104.03 479.69h.9v.9h-.9zM118.14 487.32h.9v.9h-.9zM110.8 478.78h.9v.9h-.9zM111.21 477.71h.9v.9h-.9zM112.54 486.47h.9v.9h-.9zM111.05 479.8h.9v.9h-.9zM110.47 490.39h.9v.9h-.9zM116.15 477.83h.9v.9h-.9zM114.95 478.42h.9v.9h-.9zM118.91 478.31h.9v.9h-.9zM111.24 482.1h.9v.9h-.9zM114.13 480h.9v.9h-.9zM112.24 482.23h.9v.9h-.9zM115.65 478.47h.9v.9h-.9zM119.06 479.58h.9v.9h-.9zM108.24 477.39h.9v.9h-.9zM112.41 484.37h.9v.9h-.9zM106.58 477.19h.9v.9h-.9zM106.94 479.77h.9v.9h-.9zM107.58 480.76h.9v.9h-.9zM118.99 476.88h.9v.9h-.9zM114.58 477.97h.9v.9h-.9zM118.22 480.5h.9v.9h-.9zM110.08 490.51h.9v.9h-.9zM115.64 478.14h.9v.9h-.9zM107.92 483.23h.9v.9h-.9zM108.77 479.08h.9v.9h-.9zM122.06 490.7h.9v.9h-.9zM114.29 486.7h.9v.9h-.9zM115.45 477.89h.9v.9h-.9zM112.14 484.89h.9v.9h-.9zM108.84 481.41h.9v.9h-.9zM107.87 479.83h.9v.9h-.9zM105.22 482.52h.9v.9h-.9zM109.83 483.42h.9v.9h-.9zM106.33 477.41h.9v.9h-.9zM114.05 482.73h.9v.9h-.9zM110.76 491.92h.9v.9h-.9zM107.69 484.75h.9v.9h-.9zM109.72 477.15h.9v.9h-.9zM106.66 488.48h.9v.9h-.9zM110.39 480.8h.9v.9h-.9zM105.93 478.24h.9v.9h-.9zM111.73 484.63h.9v.9h-.9zM112.02 479.86h.9v.9h-.9zM120.47 486.11h.9v.9h-.9zM114.21 482.23h.9v.9h-.9zM107.6 487.14h.9v.9h-.9zM107.9 478.61h.9v.9h-.9zM110.96 486.48h.9v.9h-.9zM114.33 485.3h.9v.9h-.9zM116.64 486.43h.9v.9h-.9zM114.57 485.69h.9v.9h-.9zM115.95 481.9h.9v.9h-.9zM116.18 479.44h.9v.9h-.9zM111.78 481.22h.9v.9h-.9zM120.25 482.83h.9v.9h-.9zM112.46 484.16h.9v.9h-.9zM106.09 479.51h.9v.9h-.9zM108.04 478.03h.9v.9h-.9zM116.88 476.79h.9v.9h-.9zM109.69 480.32h.9v.9h-.9zM115.42 484.61h.9v.9h-.9zM110.31 481.83h.9v.9h-.9zM111.66 494.48h.9v.9h-.9zM108.91 479.37h.9v.9h-.9zM113.73 479.6h.9v.9h-.9zM115.47 487.83h.9v.9h-.9zM113.96 480.25h.9v.9h-.9zM113.97 476.75h.9v.9h-.9zM109.33 481.67h.9v.9h-.9zM113.59 489.43h.9v.9h-.9zM111.78 483.98h.9v.9h-.9zM108.91 490.15h.9v.9h-.9zM116.34 478.33h.9v.9h-.9zM112.56 493.35h.9v.9h-.9zM109.25 480.47h.9v.9h-.9zM121 482.79h.9v.9h-.9zM113.78 486.23h.9v.9h-.9zM111.59 489.09h.9v.9h-.9zM109.61 478.35h.9v.9h-.9zM113.09 485.72h.9v.9h-.9zM115.83 482.92h.9v.9h-.9zM111.92 495.2h.9v.9h-.9zM112.82 477.26h.9v.9h-.9zM119.11 488.97h.9v.9h-.9zM114.14 480.39h.9v.9h-.9zM108.68 479.73h.9v.9h-.9zM111.55 486.39h.9v.9h-.9zM116.34 478.39h.9v.9h-.9zM109.43 480.95h.9v.9h-.9zM111.16 486.06h.9v.9h-.9zM114.22 488.28h.9v.9h-.9zM118.23 484.33h.9v.9h-.9zM111.73 480.57h.9v.9h-.9zM119.82 479.76h.9v.9h-.9zM110.86 484.77h.9v.9h-.9zM109.75 479.22h.9v.9h-.9zM115.86 482.09h.9v.9h-.9zM114.44 478.18h.9v.9h-.9zM112.19 483.47h.9v.9h-.9zM121.34 485.39h.9v.9h-.9zM108.91 477.48h.9v.9h-.9zM106.73 477.09h.9v.9h-.9zM113.42 476.48h.9v.9h-.9zM113.33 492.61h.9v.9h-.9zM112.45 482.45h.9v.9h-.9zM112.87 484.37h.9v.9h-.9zM117.49 477.89h.9v.9h-.9zM106.13 481.64h.9v.9h-.9zM109.22 482.86h.9v.9h-.9zM112.5 488.66h.9v.9h-.9zM109.55 485.18h.9v.9h-.9zM119.71 486.8h.9v.9h-.9zM105.62 476.72h.9v.9h-.9zM107.8 478.39h.9v.9h-.9zM114.92 493.76h.9v.9h-.9zM106.92 483.58h.9v.9h-.9zM113.64 484.36h.9v.9h-.9zM110.76 485.94h.9v.9h-.9zM110.42 479.48h.9v.9h-.9zM112.99 495.18h.9v.9h-.9zM117.56 478.01h.9v.9h-.9zM113.51 485.81h.9v.9h-.9zM104.53 482.37h.9v.9h-.9zM113.82 478.41h.9v.9h-.9zM111.86 488.24h.9v.9h-.9zM109.83 479.78h.9v.9h-.9zM109.36 478.96h.9v.9h-.9zM113.87 476.52h.9v.9h-.9zM111.83 483.74h.9v.9h-.9zM119.88 486.56h.9v.9h-.9zM116.49 484.69h.9v.9h-.9zM110.56 490.15h.9v.9h-.9zM113.05 485.17h.9v.9h-.9zM106.11 484.44h.9v.9h-.9zM115.33 491.7h.9v.9h-.9zM111.19 481.99h.9v.9h-.9zM118.46 481.95h.9v.9h-.9zM122.12 486.78h.9v.9h-.9zM109.62 477.72h.9v.9h-.9zM116.48 479.98h.9v.9h-.9zM107.04 478.04h.9v.9h-.9zM116.61 488.13h.9v.9h-.9zM111.14 490.89h.9v.9h-.9zM118.27 480.44h.9v.9h-.9zM115.35 482.52h.9v.9h-.9zM113.23 479.39h.9v.9h-.9zM117.85 481.31h.9v.9h-.9zM109.86 490.82h.9v.9h-.9zM114.84 480.75h.9v.9h-.9zM112.91 490.71h.9v.9h-.9zM106.02 481.17h.9v.9h-.9zM107.38 482.19h.9v.9h-.9zM111.28 479.05h.9v.9h-.9zM110.54 486.9h.9v.9h-.9zM112.61 476.6h.9v.9h-.9zM109.49 478.74h.9v.9h-.9zM112.86 477.57h.9v.9h-.9zM114.09 490.67h.9v.9h-.9zM116.57 479.68h.9v.9h-.9zM113.39 479.58h.9v.9h-.9zM112.83 485.41h.9v.9h-.9zM115.7 477.65h.9v.9h-.9zM113.07 478.07h.9v.9h-.9zM107.97 480.64h.9v.9h-.9zM117.74 477.45h.9v.9h-.9zM122.35 495.14h.9v.9h-.9zM108.61 478.08h.9v.9h-.9zM110.77 484.03h.9v.9h-.9zM111.33 478.54h.9v.9h-.9zM105.15 482.39h.9v.9h-.9zM113.36 489.09h.9v.9h-.9zM108.75 482.24h.9v.9h-.9zM112.21 481.85h.9v.9h-.9zM119.35 477.36h.9v.9h-.9zM107.62 484.5h.9v.9h-.9zM111.63 477.69h.9v.9h-.9zM108.02 479.67h.9v.9h-.9zM107.27 487.55h.9v.9h-.9zM112.09 484.62h.9v.9h-.9zM117.57 492.44h.9v.9h-.9zM113.05 492.92h.9v.9h-.9zM122.67 481.26h.9v.9h-.9zM109.99 482.26h.9v.9h-.9zM110.82 483.99h.9v.9h-.9zM112.74 494.65h.9v.9h-.9zM115.39 477.27h.9v.9h-.9zM109.42 480.22h.9v.9h-.9zM114.26 482.75h.9v.9h-.9zM113.84 486.08h.9v.9h-.9zM119.58 487.15h.9v.9h-.9zM114.86 478.29h.9v.9h-.9zM113.78 486.63h.9v.9h-.9zM117.93 491.95h.9v.9h-.9zM107.98 477.3h.9v.9h-.9zM111.33 494.4h.9v.9h-.9zM113.22 481.86h.9v.9h-.9zM108.43 484.32h.9v.9h-.9zM104.26 481.11h.9v.9h-.9zM112.07 477.09h.9v.9h-.9zM110.59 491.62h.9v.9h-.9zM118.5 495.27h.9v.9h-.9zM105.39 481.32h.9v.9h-.9zM121.07 478.08h.9v.9h-.9zM108.7 480.8h.9v.9h-.9zM115.41 488.29h.9v.9h-.9zM109.7 480.57h.9v.9h-.9zM114.52 487.76h.9v.9h-.9zM106.91 477.15h.9v.9h-.9zM113.69 483.63h.9v.9h-.9zM113.1 487.69h.9v.9h-.9zM108.59 484.2h.9v.9h-.9zM109.96 479.95h.9v.9h-.9zM107.39 479.26h.9v.9h-.9zM110.43 488.06h.9v.9h-.9zM107.32 477.46h.9v.9h-.9zM115.62 477.93h.9v.9h-.9zM110.91 482.43h.9v.9h-.9zM110.9 477.79h.9v.9h-.9zM105.36 480.8h.9v.9h-.9zM121.89 487.51h.9v.9h-.9zM116.16 478.73h.9v.9h-.9zM106.85 481.06h.9v.9h-.9zM110.8 477.4h.9v.9h-.9zM114.31 488.03h.9v.9h-.9zM114.94 478.52h.9v.9h-.9zM115.78 480.74h.9v.9h-.9zM106.58 481.76h.9v.9h-.9zM105.26 486.17h.9v.9h-.9zM105.7 480.38h.9v.9h-.9zM116.24 488.22h.9v.9h-.9zM115.07 482.84h.9v.9h-.9zM117.06 487.43h.9v.9h-.9zM113.49 485.12h.9v.9h-.9zM117.6 488.73h.9v.9h-.9zM107.96 480.59h.9v.9h-.9zM106.95 482.99h.9v.9h-.9zM113.22 486.16h.9v.9h-.9zM109.42 482.01h.9v.9h-.9zM116.41 487.55h.9v.9h-.9zM111.54 489.91h.9v.9h-.9zM110.13 482.65h.9v.9h-.9zM114.05 485.35h.9v.9h-.9zM108.74 480.2h.9v.9h-.9zM121.33 480.82h.9v.9h-.9zM111.37 477.28h.9v.9h-.9zM116.02 480.52h.9v.9h-.9zM109.88 479.27h.9v.9h-.9zM117.89 480.07h.9v.9h-.9zM116.92 490.86h.9v.9h-.9zM111.69 477.85h.9v.9h-.9zM118.13 483.87h.9v.9h-.9zM110.56 482.35h.9v.9h-.9zM109.77 480.92h.9v.9h-.9zM114.33 486.45h.9v.9h-.9zM113.37 477.63h.9v.9h-.9zM109.24 479.44h.9v.9h-.9zM106.45 478.84h.9v.9h-.9zM117.28 478.56h.9v.9h-.9zM108.14 477.61h.9v.9h-.9zM117.7 482.65h.9v.9h-.9zM118.71 480.23h.9v.9h-.9zM120.73 484.9h.9v.9h-.9zM114.31 488.98h.9v.9h-.9zM115.04 486.19h.9v.9h-.9zM106.62 480.52h.9v.9h-.9zM106.7 476.67h.9v.9h-.9zM113.62 488.02h.9v.9h-.9zM116.53 476.67h.9v.9h-.9zM111.66 476.89h.9v.9h-.9zM104.52 478.17h.9v.9h-.9zM116.55 485.83h.9v.9h-.9zM115.82 487.36h.9v.9h-.9zM113.63 476.82h.9v.9h-.9zM105.89 479.92h.9v.9h-.9zM112.26 477.25h.9v.9h-.9zM118.45 478.26h.9v.9h-.9zM113.66 477.36h.9v.9h-.9zM121.92 485.04h.9v.9h-.9zM119.44 487.81h.9v.9h-.9zM115.55 484.41h.9v.9h-.9zM120.04 488.87h.9v.9h-.9zM115.02 479.98h.9v.9h-.9zM115.31 483.54h.9v.9h-.9zM120.34 482.27h.9v.9h-.9zM107.81 481.42h.9v.9h-.9zM110.29 484.6h.9v.9h-.9zM117.91 485.42h.9v.9h-.9zM118.3 485.52h.9v.9h-.9zM107.51 483.33h.9v.9h-.9zM110.6 482.52h.9v.9h-.9zM111.64 482.46h.9v.9h-.9zM108.26 487.46h.9v.9h-.9zM115.48 494.43h.9v.9h-.9zM112.7 486.1h.9v.9h-.9zM114.31 493.86h.9v.9h-.9zM114.47 477.16h.9v.9h-.9zM106.59 487.5h.9v.9h-.9zM106.27 485.35h.9v.9h-.9zM111.87 479.73h.9v.9h-.9zM115.76 487.9h.9v.9h-.9zM112.71 478.4h.9v.9h-.9zM113.84 488.45h.9v.9h-.9zM117.65 486.45h.9v.9h-.9zM108.13 478.76h.9v.9h-.9zM114.57 483.57h.9v.9h-.9zM109.17 480.34h.9v.9h-.9zM114.42 477.53h.9v.9h-.9zM108.71 480.69h.9v.9h-.9zM114.01 486.45h.9v.9h-.9zM109.91 486.7h.9v.9h-.9zM109.21 484.02h.9v.9h-.9zM113.84 478.19h.9v.9h-.9zM109.12 479.32h.9v.9h-.9zM117.8 489.55h.9v.9h-.9zM117.2 487.29h.9v.9h-.9zM117.1 479.28h.9v.9h-.9zM110.87 481.08h.9v.9h-.9zM107.41 486.66h.9v.9h-.9zM119.11 480.92h.9v.9h-.9zM116.76 478.72h.9v.9h-.9zM107.06 482.27h.9v.9h-.9zM114.43 483.47h.9v.9h-.9zM109.85 488.04h.9v.9h-.9zM110.24 478.39h.9v.9h-.9zM114.12 477.62h.9v.9h-.9zM118.15 477.7h.9v.9h-.9zM106.65 479.19h.9v.9h-.9zM105.85 481.92h.9v.9h-.9zM116.99 486.26h.9v.9h-.9zM116.99 483.98h.9v.9h-.9zM117 477.76h.9v.9h-.9zM116.54 488.6h.9v.9h-.9zM115.24 482.17h.9v.9h-.9zM113.54 478.17h.9v.9h-.9zM118.32 480.97h.9v.9h-.9zM111.76 486.66h.9v.9h-.9zM109.86 481.06h.9v.9h-.9zM108.23 488.18h.9v.9h-.9zM119.33 484.42h.9v.9h-.9zM110.15 489.26h.9v.9h-.9zM113.27 488.05h.9v.9h-.9zM108.48 479.27h.9v.9h-.9zM113.87 478.03h.9v.9h-.9zM114.19 479.44h.9v.9h-.9zM117.49 484.24h.9v.9h-.9zM111.04 497.99h.9v.9h-.9zM110.35 479.39h.9v.9h-.9zM113.11 478.87h.9v.9h-.9zM111.47 479.03h.9v.9h-.9zM120.05 491.1h.9v.9h-.9zM114.12 480.45h.9v.9h-.9zM114.85 484.33h.9v.9h-.9zM108.02 484.06h.9v.9h-.9zM111.23 484.43h.9v.9h-.9zM118.59 490.5h.9v.9h-.9zM111.23 483.65h.9v.9h-.9zM112.25 489.57h.9v.9h-.9zM108.68 477.17h.9v.9h-.9zM114.81 481.8h.9v.9h-.9zM115.34 480.41h.9v.9h-.9zM105.69 480.64h.9v.9h-.9zM113.62 479.33h.9v.9h-.9zM116.53 485.02h.9v.9h-.9zM116.81 481.41h.9v.9h-.9zM114.38 484h.9v.9h-.9zM111.46 477.89h.9v.9h-.9zM113.25 489h.9v.9h-.9zM114.41 486.86h.9v.9h-.9zM108.68 485.52h.9v.9h-.9zM110.95 481.36h.9v.9h-.9zM110.09 486.76h.9v.9h-.9zM108.24 483.26h.9v.9h-.9zM116.09 478.09h.9v.9h-.9zM110.82 477.17h.9v.9h-.9zM115.62 490.76h.9v.9h-.9zM103.23 478.58h.9v.9h-.9zM118.2 477.96h.9v.9h-.9zM110.85 479.95h.9v.9h-.9zM114.07 491.43h.9v.9h-.9zM107.04 481.21h.9v.9h-.9zM115.11 480.4h.9v.9h-.9zM139.12 482.27h.9v.9h-.9zM141.07 481.03h.9v.9h-.9zM142.96 479.46h.9v.9h-.9zM138.14 491.49h.9v.9h-.9zM141.57 483.22h.9v.9h-.9zM135.27 481.58h.9v.9h-.9zM139.65 477.22h.9v.9h-.9zM140.49 489.31h.9v.9h-.9zM133.04 491.78h.9v.9h-.9zM136.36 476.6h.9v.9h-.9zM135.7 484.95h.9v.9h-.9zM130.26 476.61h.9v.9h-.9zM134.43 486.85h.9v.9h-.9zM139.17 477.46h.9v.9h-.9zM130.12 481.11h.9v.9h-.9zM138.26 477.58h.9v.9h-.9zM144.65 483.27h.9v.9h-.9zM131.07 493.16h.9v.9h-.9zM146.43 483.03h.9v.9h-.9zM143.48 489.41h.9v.9h-.9zM133.45 492.26h.9v.9h-.9zM146.64 484.2h.9v.9h-.9zM131.38 487.5h.9v.9h-.9zM139.5 480.83h.9v.9h-.9zM139.87 482.85h.9v.9h-.9zM142 477.18h.9v.9h-.9zM130.29 488.97h.9v.9h-.9zM134.61 489.62h.9v.9h-.9zM140.61 481.17h.9v.9h-.9zM131.99 488h.9v.9h-.9zM138.43 485.54h.9v.9h-.9zM134.47 489.2h.9v.9h-.9zM145.33 480.08h.9v.9h-.9zM139.5 484.96h.9v.9h-.9zM132.55 478.05h.9v.9h-.9zM143.96 479.4h.9v.9h-.9zM140.93 486.96h.9v.9h-.9zM142.39 482.22h.9v.9h-.9zM145.95 486.72h.9v.9h-.9zM144.3 490.11h.9v.9h-.9zM140.2 479.44h.9v.9h-.9zM144.23 479.63h.9v.9h-.9zM145.18 487.62h.9v.9h-.9zM150.48 477.99h.9v.9h-.9zM136.21 483.6h.9v.9h-.9zM145.34 477.04h.9v.9h-.9zM132.34 479.1h.9v.9h-.9zM142.16 476.93h.9v.9h-.9zM130.48 497.16h.9v.9h-.9zM131.22 487.83h.9v.9h-.9zM136.64 480.53h.9v.9h-.9zM145.21 481.77h.9v.9h-.9zM129.53 477.88h.9v.9h-.9zM136.09 478.9h.9v.9h-.9zM133.85 483.33h.9v.9h-.9zM141.62 488.28h.9v.9h-.9zM143.1 481.74h.9v.9h-.9zM134.65 485.83h.9v.9h-.9zM136.53 481.1h.9v.9h-.9zM132.65 481.79h.9v.9h-.9zM151.45 476.5h.9v.9h-.9zM139.89 481.13h.9v.9h-.9zM129.07 489.93h.9v.9h-.9zM135.03 480.32h.9v.9h-.9zM140.95 487h.9v.9h-.9zM132.66 482.66h.9v.9h-.9zM137.91 477.9h.9v.9h-.9zM140.87 477.89h.9v.9h-.9zM133.55 492.59h.9v.9h-.9zM131.85 491.51h.9v.9h-.9zM139.26 483.49h.9v.9h-.9zM132.95 479.87h.9v.9h-.9zM131.92 484.24h.9v.9h-.9zM137.62 481.12h.9v.9h-.9zM136.8 491.2h.9v.9h-.9zM142.43 478.95h.9v.9h-.9zM134.84 484.24h.9v.9h-.9zM140.43 496.97h.9v.9h-.9zM144.15 477.56h.9v.9h-.9zM138.23 476.73h.9v.9h-.9zM141.07 476.52h.9v.9h-.9zM142.93 488.18h.9v.9h-.9zM139.87 491.2h.9v.9h-.9zM137.62 486.34h.9v.9h-.9zM142.72 481.49h.9v.9h-.9zM134.58 500.25h.9v.9h-.9zM137.1 488.6h.9v.9h-.9zM142.69 476.87h.9v.9h-.9zM132.6 477.25h.9v.9h-.9zM137.37 483.06h.9v.9h-.9zM136.78 490.58h.9v.9h-.9zM129.86 480.7h.9v.9h-.9zM144.46 478.59h.9v.9h-.9zM139.2 489.91h.9v.9h-.9zM133.15 486.56h.9v.9h-.9zM137.38 476.58h.9v.9h-.9zM140.35 498.51h.9v.9h-.9zM139.74 481.24h.9v.9h-.9zM133.06 485.95h.9v.9h-.9zM147.61 481.05h.9v.9h-.9zM135.94 491.44h.9v.9h-.9zM136.15 477.94h.9v.9h-.9zM139.07 487.43h.9v.9h-.9zM145.26 479.88h.9v.9h-.9zM141.02 480.43h.9v.9h-.9zM140.86 489.93h.9v.9h-.9zM144.58 486.83h.9v.9h-.9zM143.19 478.36h.9v.9h-.9zM144.72 480.67h.9v.9h-.9zM139.36 485.09h.9v.9h-.9zM137.29 480.96h.9v.9h-.9zM150.75 479.99h.9v.9h-.9zM139.37 486.35h.9v.9h-.9zM136.11 483.15h.9v.9h-.9zM144.66 476.61h.9v.9h-.9zM134.74 486.25h.9v.9h-.9zM139.26 477.31h.9v.9h-.9zM142.39 476.78h.9v.9h-.9zM140.96 478.94h.9v.9h-.9zM139.04 486.05h.9v.9h-.9zM137.72 492.15h.9v.9h-.9zM137.28 478.03h.9v.9h-.9zM141.33 485.79h.9v.9h-.9zM142.1 490.69h.9v.9h-.9zM138.83 487.01h.9v.9h-.9zM129.13 496.04h.9v.9h-.9zM142.55 483.89h.9v.9h-.9zM148.25 490.77h.9v.9h-.9zM140.46 477.68h.9v.9h-.9zM146.56 479.89h.9v.9h-.9zM151.08 481.15h.9v.9h-.9zM138 476.72h.9v.9h-.9zM140.91 481.34h.9v.9h-.9zM144.08 485.4h.9v.9h-.9zM136.39 480.94h.9v.9h-.9zM135.22 478.09h.9v.9h-.9zM145.81 477.27h.9v.9h-.9zM134.94 488.31h.9v.9h-.9zM138.69 478.13h.9v.9h-.9zM142.66 481.04h.9v.9h-.9zM143.85 483.52h.9v.9h-.9zM138.71 488.27h.9v.9h-.9zM133.79 487.09h.9v.9h-.9zM148.3 479.98h.9v.9h-.9zM138.43 498.72h.9v.9h-.9zM140.34 495.21h.9v.9h-.9zM143.65 477.47h.9v.9h-.9zM137.76 480.94h.9v.9h-.9zM136.35 491.25h.9v.9h-.9zM135.9 478.2h.9v.9h-.9zM137.41 481.43h.9v.9h-.9zM134.48 485.07h.9v.9h-.9zM140.55 494.61h.9v.9h-.9zM131.87 499.88h.9v.9h-.9zM145.34 484.14h.9v.9h-.9zM132.72 488h.9v.9h-.9zM140.65 484.22h.9v.9h-.9zM139.8 489.08h.9v.9h-.9zM140.77 482.03h.9v.9h-.9zM135.27 479.09h.9v.9h-.9zM132.65 490.05h.9v.9h-.9zM134.61 480.33h.9v.9h-.9zM143.32 480.51h.9v.9h-.9zM143.19 478.6h.9v.9h-.9zM146.84 481.43h.9v.9h-.9zM136.04 478.27h.9v.9h-.9zM137.18 482.04h.9v.9h-.9zM131.36 497.16h.9v.9h-.9zM143.93 483h.9v.9h-.9zM136.47 477.25h.9v.9h-.9zM146.32 483.86h.9v.9h-.9zM132.38 477.74h.9v.9h-.9zM132.42 478.88h.9v.9h-.9zM135.77 481.72h.9v.9h-.9zM144 484.3h.9v.9h-.9zM140.96 485.63h.9v.9h-.9zM139.83 479.16h.9v.9h-.9zM141.57 486.41h.9v.9h-.9zM140.35 476.79h.9v.9h-.9zM137.52 478.95h.9v.9h-.9zM137.78 482.8h.9v.9h-.9zM148.91 488.5h.9v.9h-.9zM142.15 479.96h.9v.9h-.9zM134.98 483.85h.9v.9h-.9zM148.98 492.35h.9v.9h-.9zM137.4 479.39h.9v.9h-.9zM135.71 493.95h.9v.9h-.9zM141.9 493.51h.9v.9h-.9zM136.4 480.67h.9v.9h-.9zM141.83 478.58h.9v.9h-.9zM148.66 495.65h.9v.9h-.9zM135.44 476.59h.9v.9h-.9zM131.42 488.04h.9v.9h-.9zM141.89 480.46h.9v.9h-.9zM144.24 485.53h.9v.9h-.9zM141.1 481.2h.9v.9h-.9zM135.34 486.53h.9v.9h-.9zM139.61 476.54h.9v.9h-.9zM131.56 481.98h.9v.9h-.9zM131.44 493.33h.9v.9h-.9zM134.75 479.2h.9v.9h-.9zM141 481.77h.9v.9h-.9zM129.25 476.79h.9v.9h-.9zM132.75 484.27h.9v.9h-.9zM135.26 478.11h.9v.9h-.9zM141.41 477.43h.9v.9h-.9zM140.32 484.39h.9v.9h-.9zM142.06 480.06h.9v.9h-.9zM141.44 495.18h.9v.9h-.9zM134.66 482.75h.9v.9h-.9zM140.78 477.87h.9v.9h-.9zM131.55 476.63h.9v.9h-.9zM134.83 489.51h.9v.9h-.9zM130.12 482.29h.9v.9h-.9zM138.63 483.68h.9v.9h-.9zM136.68 485.76h.9v.9h-.9zM141.99 477.27h.9v.9h-.9zM143.2 480.31h.9v.9h-.9zM128.04 495.62h.9v.9h-.9zM135.35 488.25h.9v.9h-.9zM144.51 481.59h.9v.9h-.9zM141.95 492.37h.9v.9h-.9zM136.82 481.57h.9v.9h-.9zM128.89 484.78h.9v.9h-.9zM147.27 484.79h.9v.9h-.9zM142.4 479.64h.9v.9h-.9zM142.67 480.79h.9v.9h-.9zM148.3 480.07h.9v.9h-.9zM136.85 477.26h.9v.9h-.9zM139.24 492.59h.9v.9h-.9zM131.53 479.55h.9v.9h-.9zM139.41 478.21h.9v.9h-.9zM129.32 484.49h.9v.9h-.9zM139.86 497.83h.9v.9h-.9zM145.54 480.03h.9v.9h-.9zM150.94 486.58h.9v.9h-.9zM141.25 479.75h.9v.9h-.9zM140.77 476.49h.9v.9h-.9zM142.7 486.8h.9v.9h-.9zM141.93 477.03h.9v.9h-.9zM133.71 486.26h.9v.9h-.9zM141.94 477.16h.9v.9h-.9zM132.36 478.87h.9v.9h-.9zM142.4 482h.9v.9h-.9zM143.58 482.24h.9v.9h-.9zM153.34 483.24h.9v.9h-.9zM141.87 479.78h.9v.9h-.9zM134.54 488.85h.9v.9h-.9zM139.8 484.82h.9v.9h-.9zM133.79 481.71h.9v.9h-.9zM136.27 486.84h.9v.9h-.9zM141.46 479.11h.9v.9h-.9zM140.02 493.32h.9v.9h-.9zM151.72 478.66h.9v.9h-.9zM138.11 481.01h.9v.9h-.9zM141.86 481.84h.9v.9h-.9zM143.41 486.97h.9v.9h-.9zM139.23 489.64h.9v.9h-.9zM135.65 485.16h.9v.9h-.9zM144.71 493.13h.9v.9h-.9zM133.68 477.65h.9v.9h-.9zM136.86 488.93h.9v.9h-.9zM132.59 482.51h.9v.9h-.9zM133.12 478.43h.9v.9h-.9zM150.64 479.43h.9v.9h-.9zM129.53 481.07h.9v.9h-.9zM141.54 479.38h.9v.9h-.9zM129.91 477.62h.9v.9h-.9zM144.11 487.28h.9v.9h-.9zM139.64 487.53h.9v.9h-.9zM140.4 476.6h.9v.9h-.9zM132.11 482.35h.9v.9h-.9zM142.31 485.33h.9v.9h-.9zM137.46 478.78h.9v.9h-.9zM134.3 485.57h.9v.9h-.9zM143.77 484.12h.9v.9h-.9zM142.39 478.97h.9v.9h-.9zM132.13 479.51h.9v.9h-.9zM134.69 487.96h.9v.9h-.9zM129.76 482.91h.9v.9h-.9zM138.63 488.07h.9v.9h-.9zM139.7 476.84h.9v.9h-.9zM143.98 482.51h.9v.9h-.9zM139.68 479.34h.9v.9h-.9zM137.97 484.12h.9v.9h-.9zM135.11 483.32h.9v.9h-.9zM135.29 481.57h.9v.9h-.9zM134.16 480.31h.9v.9h-.9zM139.43 486.87h.9v.9h-.9zM145.27 479.41h.9v.9h-.9zM141.57 477.5h.9v.9h-.9zM137.91 485.11h.9v.9h-.9zM132.28 500.55h.9v.9h-.9zM133.04 492.29h.9v.9h-.9zM134.86 485h.9v.9h-.9zM132.73 477.26h.9v.9h-.9zM131.82 482.53h.9v.9h-.9zM129.47 486.25h.9v.9h-.9zM137.48 486.58h.9v.9h-.9zM137.79 486.28h.9v.9h-.9zM146.17 492.27h.9v.9h-.9zM142.4 483.72h.9v.9h-.9zM134.06 483.6h.9v.9h-.9zM129.3 480.42h.9v.9h-.9zM130.73 493.06h.9v.9h-.9zM145.03 479.47h.9v.9h-.9zM138.17 483.98h.9v.9h-.9zM138.36 491.48h.9v.9h-.9zM142.85 486.11h.9v.9h-.9zM132.35 476.96h.9v.9h-.9zM129.64 481.04h.9v.9h-.9zM140.08 487.92h.9v.9h-.9zM135.99 484.88h.9v.9h-.9zM145.41 485.08h.9v.9h-.9zM134.02 486.31h.9v.9h-.9zM139.26 482.46h.9v.9h-.9zM134.66 485.9h.9v.9h-.9zM134.64 484.41h.9v.9h-.9zM140.25 480.58h.9v.9h-.9zM138.27 488.57h.9v.9h-.9zM142.37 481.91h.9v.9h-.9zM142.77 481.35h.9v.9h-.9zM143.17 489.88h.9v.9h-.9zM137.2 487.35h.9v.9h-.9zM147.46 478.83h.9v.9h-.9zM132.87 490.45h.9v.9h-.9zM137.56 478.75h.9v.9h-.9zM140.8 481.88h.9v.9h-.9zM138.7 478.63h.9v.9h-.9zM139.37 483.43h.9v.9h-.9zM143.22 476.8h.9v.9h-.9zM132.48 484.57h.9v.9h-.9zM134.14 476.5h.9v.9h-.9zM148.58 478.96h.9v.9h-.9zM139.55 483.34h.9v.9h-.9zM149.31 482.45h.9v.9h-.9zM130.09 485.76h.9v.9h-.9zM131.69 493.03h.9v.9h-.9zM138.9 477.3h.9v.9h-.9zM143.74 479.18h.9v.9h-.9zM134.02 490.3h.9v.9h-.9zM133 483.41h.9v.9h-.9zM136.57 485.35h.9v.9h-.9zM146.56 481.01h.9v.9h-.9zM143.05 492.73h.9v.9h-.9zM136.73 493.16h.9v.9h-.9zM134.9 479.57h.9v.9h-.9zM141.8 496.23h.9v.9h-.9zM130.43 488.48h.9v.9h-.9zM147.03 477.85h.9v.9h-.9zM134.29 486.64h.9v.9h-.9zM134.13 486.13h.9v.9h-.9zM135.15 484.17h.9v.9h-.9zM145.31 484.31h.9v.9h-.9zM135.71 491.09h.9v.9h-.9zM139.12 489.61h.9v.9h-.9zM141.59 488.98h.9v.9h-.9zM134.78 482.27h.9v.9h-.9zM137.71 479.24h.9v.9h-.9zM141.13 490.86h.9v.9h-.9zM132.48 478.69h.9v.9h-.9zM139.37 478.58h.9v.9h-.9zM140.72 484.51h.9v.9h-.9zM150.76 484.68h.9v.9h-.9zM142.19 483.3h.9v.9h-.9zM132.55 488.85h.9v.9h-.9zM140.42 491.56h.9v.9h-.9zM134.79 478.21h.9v.9h-.9zM138.56 482.42h.9v.9h-.9zM147.17 492.34h.9v.9h-.9zM142.19 486.84h.9v.9h-.9zM147.1 480.6h.9v.9h-.9zM150.09 483.49h.9v.9h-.9zM134.87 484.28h.9v.9h-.9zM131.97 484.58h.9v.9h-.9zM135.77 476.67h.9v.9h-.9zM140.63 481.01h.9v.9h-.9zM128.39 483.76h.9v.9h-.9zM136.82 487.21h.9v.9h-.9zM142.44 482.18h.9v.9h-.9zM134.15 490.3h.9v.9h-.9zM134.3 477.08h.9v.9h-.9zM137.11 478.34h.9v.9h-.9zM148.19 477.9h.9v.9h-.9zM137.4 476.46h.9v.9h-.9zM135.84 489.94h.9v.9h-.9zM145.79 494h.9v.9h-.9zM138.91 481.11h.9v.9h-.9zM132.09 494.48h.9v.9h-.9zM134.9 482.69h.9v.9h-.9zM141.36 478.6h.9v.9h-.9zM140.93 490.61h.9v.9h-.9zM136.56 483.52h.9v.9h-.9zM137.77 485.78h.9v.9h-.9zM149.54 484.35h.9v.9h-.9zM146.79 482.17h.9v.9h-.9zM129.07 485.99h.9v.9h-.9zM139.63 478.24h.9v.9h-.9zM148.41 477.41h.9v.9h-.9zM138.77 488.78h.9v.9h-.9zM144.68 485.91h.9v.9h-.9zM146.25 477.48h.9v.9h-.9zM141.34 479.5h.9v.9h-.9zM143.2 480.95h.9v.9h-.9zM152.36 479.35h.9v.9h-.9zM145.9 483.03h.9v.9h-.9zM136.07 485.54h.9v.9h-.9zM131.29 484.15h.9v.9h-.9zM138.08 490.93h.9v.9h-.9zM130.03 485.25h.9v.9h-.9zM149.99 481.23h.9v.9h-.9zM133.31 482.19h.9v.9h-.9zM138.76 480.06h.9v.9h-.9zM133.09 496.27h.9v.9h-.9zM134.73 478.83h.9v.9h-.9zM139.55 489.75h.9v.9h-.9zM154.58 479.37h.9v.9h-.9zM143.24 483.64h.9v.9h-.9zM136.69 499.07h.9v.9h-.9zM135.85 479.91h.9v.9h-.9zM137.45 484.25h.9v.9h-.9zM142.08 484.63h.9v.9h-.9zM135.55 483.69h.9v.9h-.9zM144.74 486.19h.9v.9h-.9zM137.81 486.57h.9v.9h-.9zM129.54 478.27h.9v.9h-.9zM129.77 481.44h.9v.9h-.9zM144.8 480.55h.9v.9h-.9zM139.25 483.18h.9v.9h-.9zM129.5 481.63h.9v.9h-.9zM136.16 484.39h.9v.9h-.9zM134.66 484.56h.9v.9h-.9zM146.02 491.01h.9v.9h-.9zM137.42 486.36h.9v.9h-.9zM140.52 479.05h.9v.9h-.9zM146.67 482.83h.9v.9h-.9zM136.32 483.18h.9v.9h-.9zM135.59 480.44h.9v.9h-.9zM135.65 479.66h.9v.9h-.9zM149.46 485.27h.9v.9h-.9zM146.47 480.24h.9v.9h-.9zM134.82 480.47h.9v.9h-.9zM134.08 495.69h.9v.9h-.9zM137.57 482.17h.9v.9h-.9zM136.64 479.62h.9v.9h-.9zM142.94 476.66h.9v.9h-.9zM139.16 491.19h.9v.9h-.9zM131 494.97h.9v.9h-.9zM131.83 495.73h.9v.9h-.9zM132.62 480h.9v.9h-.9zM125.77 541.67h.9v.9h-.9zM118.88 509.58h.9v.9h-.9zM130.64 501.13h.9v.9h-.9zM120.6 520.02h.9v.9h-.9zM119.62 506.36h.9v.9h-.9zM130.58 513.37h.9v.9h-.9zM127.88 545.31h.9v.9h-.9zM134.26 489.81h.9v.9h-.9zM128.48 515.22h.9v.9h-.9zM117.56 513.03h.9v.9h-.9zM128.69 519.19h.9v.9h-.9zM125.42 529.48h.9v.9h-.9zM119 520.06h.9v.9h-.9zM119.54 506.66h.9v.9h-.9zM122.75 527.8h.9v.9h-.9zM128.81 528.08h.9v.9h-.9zM126.86 540.52h.9v.9h-.9zM135.38 498.56h.9v.9h-.9zM129.76 500.55h.9v.9h-.9zM121.48 503.57h.9v.9h-.9zM121.56 512.15h.9v.9h-.9zM129.28 530.21h.9v.9h-.9zM116.38 495.7h.9v.9h-.9zM134.22 494.89h.9v.9h-.9zM120.21 511.44h.9v.9h-.9zM122.21 528.01h.9v.9h-.9zM129.12 532.37h.9v.9h-.9zM116.49 508.34h.9v.9h-.9zM121.08 521.03h.9v.9h-.9zM117.93 511.86h.9v.9h-.9zM127.48 545.85h.9v.9h-.9zM134.53 493.9h.9v.9h-.9zM121.06 518.12h.9v.9h-.9zM130.85 528.36h.9v.9h-.9zM121.6 523.51h.9v.9h-.9zM128.63 527.95h.9v.9h-.9zM121.66 503.23h.9v.9h-.9zM120.48 503.31h.9v.9h-.9zM128.84 523.65h.9v.9h-.9zM132.04 500.86h.9v.9h-.9zM124.94 547.76h.9v.9h-.9zM122.46 529.54h.9v.9h-.9zM119.95 502.97h.9v.9h-.9zM127.01 544.9h.9v.9h-.9zM125.02 530.68h.9v.9h-.9zM127.52 530.17h.9v.9h-.9zM123.68 531.63h.9v.9h-.9zM122.88 515.81h.9v.9h-.9zM129.83 495.29h.9v.9h-.9zM124.74 530.33h.9v.9h-.9zM133.41 504.12h.9v.9h-.9zM123.97 542.81h.9v.9h-.9zM128.46 538.79h.9v.9h-.9zM128.63 533.93h.9v.9h-.9zM127.32 541.76h.9v.9h-.9zM130.17 527.17h.9v.9h-.9zM122.81 530.55h.9v.9h-.9zM130.76 500.21h.9v.9h-.9zM130.23 510.83h.9v.9h-.9zM123.88 531.35h.9v.9h-.9zM128.46 505.66h.9v.9h-.9zM120.84 513.55h.9v.9h-.9zM121.24 505.82h.9v.9h-.9zM117.87 495.24h.9v.9h-.9zM120.18 516.9h.9v.9h-.9zM123.67 532.59h.9v.9h-.9zM115.51 492.7h.9v.9h-.9zM128.25 539.73h.9v.9h-.9zM116.76 506.24h.9v.9h-.9zM122.11 520.06h.9v.9h-.9zM118.98 491.46h.9v.9h-.9zM119.57 514.18h.9v.9h-.9zM118.14 489.12h.9v.9h-.9zM127.39 539.86h.9v.9h-.9zM134.79 495.21h.9v.9h-.9zM126.03 541.05h.9v.9h-.9zM132.15 514.54h.9v.9h-.9zM121.68 505.32h.9v.9h-.9zM123.44 520.8h.9v.9h-.9zM128.55 528.92h.9v.9h-.9zM125.14 534.44h.9v.9h-.9zM131.9 495.15h.9v.9h-.9zM128.32 506.08h.9v.9h-.9zM132.38 514.82h.9v.9h-.9zM120.6 511.37h.9v.9h-.9zM128.99 537.04h.9v.9h-.9zM126 547.22h.9v.9h-.9zM130.38 495.3h.9v.9h-.9zM131.1 524.34h.9v.9h-.9zM120.19 522.23h.9v.9h-.9zM123 532.98h.9v.9h-.9zM124.68 539.75h.9v.9h-.9zM121.96 524.01h.9v.9h-.9zM126.09 546.73h.9v.9h-.9zM121.94 528.98h.9v.9h-.9zM123.33 536.25h.9v.9h-.9zM121.83 503.38h.9v.9h-.9zM120.61 520.57h.9v.9h-.9zM123.74 534.39h.9v.9h-.9zM130.52 508h.9v.9h-.9zM129.59 530.15h.9v.9h-.9zM128.65 536.2h.9v.9h-.9zM131.25 501.61h.9v.9h-.9zM130.1 521.35h.9v.9h-.9zM128.66 531.07h.9v.9h-.9zM129.2 519.53h.9v.9h-.9zM123.6 527.35h.9v.9h-.9zM125.98 545.64h.9v.9h-.9zM124.23 524.73h.9v.9h-.9zM128.2 531.65h.9v.9h-.9zM129.13 529.33h.9v.9h-.9zM120.42 503.36h.9v.9h-.9zM128.53 527.94h.9v.9h-.9zM118.55 507h.9v.9h-.9zM117.14 494.47h.9v.9h-.9zM130.01 506.32h.9v.9h-.9zM129.27 509.56h.9v.9h-.9zM131.35 508.21h.9v.9h-.9zM130.55 498.89h.9v.9h-.9zM133.02 506.69h.9v.9h-.9zM129.84 521.78h.9v.9h-.9zM116.3 493.28h.9v.9h-.9zM128.93 530.23h.9v.9h-.9zM123.3 526.66h.9v.9h-.9zM129.59 535.86h.9v.9h-.9zM112 496.36h.9v.9h-.9zM129.74 508.91h.9v.9h-.9zM127.04 544.45h.9v.9h-.9zM120.16 514.29h.9v.9h-.9zM127.86 536.89h.9v.9h-.9zM131.03 516.5h.9v.9h-.9zM120.56 492.29h.9v.9h-.9zM112.61 492.24h.9v.9h-.9zM120.9 526.75h.9v.9h-.9zM124.68 531.74h.9v.9h-.9zM123.9 536.72h.9v.9h-.9zM116.28 504.28h.9v.9h-.9zM123.79 533.41h.9v.9h-.9zM126.71 542.58h.9v.9h-.9zM124.74 533.39h.9v.9h-.9zM125.17 545.1h.9v.9h-.9zM134.53 501.99h.9v.9h-.9zM129.14 513.75h.9v.9h-.9zM123.06 529.63h.9v.9h-.9zM117.55 493.42h.9v.9h-.9zM126.81 544.43h.9v.9h-.9zM124.66 525.56h.9v.9h-.9zM118.35 512.52h.9v.9h-.9zM119.16 500.82h.9v.9h-.9zM119.92 492.31h.9v.9h-.9zM125.64 536.85h.9v.9h-.9zM116.5 501.17h.9v.9h-.9zM128.5 533.04h.9v.9h-.9zM123.26 533.82h.9v.9h-.9zM123.26 522.3h.9v.9h-.9zM118.67 495.44h.9v.9h-.9zM123.45 527.86h.9v.9h-.9zM132.18 507.81h.9v.9h-.9zM133.34 497.03h.9v.9h-.9zM116.35 494.05h.9v.9h-.9zM130.66 506.83h.9v.9h-.9zM121.48 513.78h.9v.9h-.9zM123.95 538.66h.9v.9h-.9zM124.08 535.24h.9v.9h-.9zM120.05 511.06h.9v.9h-.9zM130.34 528.54h.9v.9h-.9zM118.42 489.19h.9v.9h-.9zM124.92 541.47h.9v.9h-.9zM133.43 502.6h.9v.9h-.9zM125.13 537.95h.9v.9h-.9zM122.7 515.21h.9v.9h-.9zM134.31 493.92h.9v.9h-.9zM118.81 501.29h.9v.9h-.9zM122.91 534h.9v.9h-.9zM131.24 489.95h.9v.9h-.9zM127.76 544.45h.9v.9h-.9zM128.51 536.9h.9v.9h-.9zM135.25 489.96h.9v.9h-.9zM127.18 537.05h.9v.9h-.9zM126.14 545.17h.9v.9h-.9zM134.55 490.47h.9v.9h-.9zM121.7 520.22h.9v.9h-.9zM120.06 503.45h.9v.9h-.9zM122.74 520.61h.9v.9h-.9zM130.26 505.58h.9v.9h-.9zM117.68 493.29h.9v.9h-.9zM123.39 536.22h.9v.9h-.9zM119.86 495.23h.9v.9h-.9zM124.69 543.33h.9v.9h-.9zM129.89 520.55h.9v.9h-.9zM123.33 523.91h.9v.9h-.9zM125.08 537.62h.9v.9h-.9zM125.35 543.43h.9v.9h-.9zM130.4 501.38h.9v.9h-.9zM126.04 546.07h.9v.9h-.9zM122.92 530.26h.9v.9h-.9zM124.32 506.18h.9v.9h-.9zM131.84 504.13h.9v.9h-.9zM118.33 499.2h.9v.9h-.9zM122.05 513.69h.9v.9h-.9zM121.31 502.86h.9v.9h-.9zM116.14 503.58h.9v.9h-.9zM132.27 503.07h.9v.9h-.9zM128.25 529.64h.9v.9h-.9zM128.33 535.83h.9v.9h-.9zM120.6 513.84h.9v.9h-.9zM113.78 499.91h.9v.9h-.9zM120.44 507.36h.9v.9h-.9zM122.83 528.87h.9v.9h-.9zM128.23 539.17h.9v.9h-.9zM129.66 512.31h.9v.9h-.9zM126.83 536.15h.9v.9h-.9zM124.36 541.86h.9v.9h-.9zM127.64 542.78h.9v.9h-.9zM117.28 507.17h.9v.9h-.9zM116.4 490.79h.9v.9h-.9zM127.82 544.17h.9v.9h-.9zM116.19 496.97h.9v.9h-.9zM120.15 516.29h.9v.9h-.9zM133.13 496.61h.9v.9h-.9zM117.3 505.94h.9v.9h-.9zM130.31 513.24h.9v.9h-.9zM126.04 547.91h.9v.9h-.9zM131.63 516.92h.9v.9h-.9zM122.57 513.92h.9v.9h-.9zM128.61 521.08h.9v.9h-.9zM123.3 511.71h.9v.9h-.9zM118.9 494.56h.9v.9h-.9zM126.85 537.39h.9v.9h-.9zM128.3 534.03h.9v.9h-.9zM128.91 530.91h.9v.9h-.9zM126.95 535.37h.9v.9h-.9zM127.85 543.78h.9v.9h-.9zM120.17 521.4h.9v.9h-.9zM124.91 543.98h.9v.9h-.9zM122.97 503.77h.9v.9h-.9zM125.88 541.5h.9v.9h-.9zM130.09 519.38h.9v.9h-.9zM115.74 491.57h.9v.9h-.9zM128.7 538.16h.9v.9h-.9zM120.67 516.4h.9v.9h-.9zM132.15 507.87h.9v.9h-.9zM125.65 546.3h.9v.9h-.9zM131.52 498.35h.9v.9h-.9zM129.61 494.74h.9v.9h-.9zM125.73 548.08h.9v.9h-.9zM125.74 534.1h.9v.9h-.9zM129.76 528.21h.9v.9h-.9zM113.69 495.62h.9v.9h-.9zM125.46 538.37h.9v.9h-.9zM120.33 514.76h.9v.9h-.9zM115.18 492.23h.9v.9h-.9zM123.88 537.98h.9v.9h-.9zM121.79 520.93h.9v.9h-.9zM130.26 526.3h.9v.9h-.9zM119.95 512.56h.9v.9h-.9zM116.7 489.15h.9v.9h-.9zM130.91 512.5h.9v.9h-.9zM132.93 490.23h.9v.9h-.9zM130.58 495.52h.9v.9h-.9zM120.37 528.33h.9v.9h-.9zM121.71 510.06h.9v.9h-.9zM128.23 534.45h.9v.9h-.9zM122.38 504.25h.9v.9h-.9zM124.19 525.97h.9v.9h-.9zM125.72 546.09h.9v.9h-.9zM128.25 528.71h.9v.9h-.9zM132.96 517.22h.9v.9h-.9zM126.13 546.94h.9v.9h-.9zM119.18 494.16h.9v.9h-.9zM130.12 505.35h.9v.9h-.9zM123.82 521.91h.9v.9h-.9zM124.11 536.85h.9v.9h-.9zM124.68 542.87h.9v.9h-.9zM128.35 534.23h.9v.9h-.9zM117.25 505.22h.9v.9h-.9zM122.11 531.3h.9v.9h-.9zM118.51 501.65h.9v.9h-.9zM123.26 538.33h.9v.9h-.9zM133.24 502.91h.9v.9h-.9zM125.06 525.56h.9v.9h-.9zM129.26 512.78h.9v.9h-.9zM119.1 520.64h.9v.9h-.9zM127.53 544.06h.9v.9h-.9zM124.43 537.02h.9v.9h-.9zM131.32 518.98h.9v.9h-.9zM127.45 526.05h.9v.9h-.9zM130.75 523.92h.9v.9h-.9zM119.78 514.55h.9v.9h-.9zM114 493.78h.9v.9h-.9zM121.8 507.2h.9v.9h-.9zM129.26 504.38h.9v.9h-.9zM131.16 510.64h.9v.9h-.9zM126.71 532.74h.9v.9h-.9zM120.37 512.36h.9v.9h-.9zM119.28 502.27h.9v.9h-.9zM124.33 513.32h.9v.9h-.9zM123.23 523.08h.9v.9h-.9zM118.42 490.51h.9v.9h-.9zM123.9 523.75h.9v.9h-.9zM122.36 510.33h.9v.9h-.9zM121.49 503.6h.9v.9h-.9zM117.78 489.36h.9v.9h-.9zM118.66 506.73h.9v.9h-.9zM127.11 538.16h.9v.9h-.9zM124.3 537.48h.9v.9h-.9zM128.03 537.26h.9v.9h-.9zM129.02 532.85h.9v.9h-.9zM130.31 511.03h.9v.9h-.9zM122.98 525.78h.9v.9h-.9zM131 519.79h.9v.9h-.9zM120.44 503.42h.9v.9h-.9zM127.22 542.57h.9v.9h-.9zM133.69 489.36h.9v.9h-.9zM124.11 528.21h.9v.9h-.9zM135.06 488.61h.9v.9h-.9zM130.32 525.74h.9v.9h-.9zM126.06 542.37h.9v.9h-.9zM135.46 495.28h.9v.9h-.9zM127.23 531.65h.9v.9h-.9zM120.84 511.39h.9v.9h-.9zM122.64 537.12h.9v.9h-.9zM126.79 547.36h.9v.9h-.9zM128.05 528.9h.9v.9h-.9zM118.54 511.74h.9v.9h-.9zM137.83 492.71h.9v.9h-.9zM131.83 504.46h.9v.9h-.9zM123.69 517.27h.9v.9h-.9zM124.46 540.71h.9v.9h-.9zM130.88 515.56h.9v.9h-.9zM124.96 541.44h.9v.9h-.9zM119.11 503.33h.9v.9h-.9zM117.22 505.57h.9v.9h-.9zM132.74 502.55h.9v.9h-.9zM116.34 494.71h.9v.9h-.9zM116.35 504.99h.9v.9h-.9zM132.87 492.66h.9v.9h-.9zM128.1 525.82h.9v.9h-.9zM123.32 509.97h.9v.9h-.9zM128.51 534.99h.9v.9h-.9zM114.8 504.09h.9v.9h-.9zM119.7 526.38h.9v.9h-.9zM126.88 548.26h.9v.9h-.9zM133.03 489.78h.9v.9h-.9zM129.44 500.74h.9v.9h-.9zM123.61 524.73h.9v.9h-.9zM114.4 491.99h.9v.9h-.9zM119.07 512.4h.9v.9h-.9zM130.08 506.34h.9v.9h-.9zM127.98 540.98h.9v.9h-.9zM122.25 498.82h.9v.9h-.9zM120.3 489.71h.9v.9h-.9zM116.79 504.56h.9v.9h-.9zM116.73 496.62h.9v.9h-.9zM118.94 489.51h.9v.9h-.9zM130.06 515.6h.9v.9h-.9zM130.56 503.06h.9v.9h-.9zM118.74 506.73h.9v.9h-.9zM124.27 540.53h.9v.9h-.9zM131.49 497.56h.9v.9h-.9zM124.63 540.13h.9v.9h-.9zM123.25 535.32h.9v.9h-.9zM121.85 504.96h.9v.9h-.9zM127.87 539.53h.9v.9h-.9zM139.27 493h.9v.9h-.9zM125.35 545.22h.9v.9h-.9zM131.38 490.39h.9v.9h-.9zM125.19 533.96h.9v.9h-.9zM129.99 509.34h.9v.9h-.9zM130.84 508.99h.9v.9h-.9zM127.73 531.91h.9v.9h-.9zM125.98 543.42h.9v.9h-.9zM125.9 546.98h.9v.9h-.9zM118.06 503.8h.9v.9h-.9zM122.63 509.83h.9v.9h-.9zM124.76 544.56h.9v.9h-.9zM114.83 499.77h.9v.9h-.9zM121.41 499.81h.9v.9h-.9zM131.66 505.69h.9v.9h-.9zM134.53 490.63h.9v.9h-.9zM126.71 537.6h.9v.9h-.9zM125.22 540.66h.9v.9h-.9zM138.93 497.46h.9v.9h-.9zM123.72 526.63h.9v.9h-.9zM127.74 548.35h.9v.9h-.9zM119.46 501.56h.9v.9h-.9zM130.42 506.81h.9v.9h-.9zM125.09 542.44h.9v.9h-.9zM124.61 530.44h.9v.9h-.9zM128.13 535.44h.9v.9h-.9zM127.61 543.91h.9v.9h-.9zM130.33 524.44h.9v.9h-.9zM120.13 506.84h.9v.9h-.9zM132.83 488.86h.9v.9h-.9zM117.77 509.06h.9v.9h-.9zM124.14 539.18h.9v.9h-.9zM119.44 512.28h.9v.9h-.9zM118.7 515.58h.9v.9h-.9zM124.32 528.42h.9v.9h-.9zM126.05 547.77h.9v.9h-.9zM115.55 493.03h.9v.9h-.9zM121.39 499.26h.9v.9h-.9zM129.67 496.63h.9v.9h-.9zM128.06 538.15h.9v.9h-.9zM115.77 504.04h.9v.9h-.9zM131.57 497.57h.9v.9h-.9zM120.86 517.66h.9v.9h-.9zM115.5 504.4h.9v.9h-.9zM132.37 506.06h.9v.9h-.9zM128.69 537.41h.9v.9h-.9zM123.24 531.87h.9v.9h-.9zM121.69 497.07h.9v.9h-.9zM126.24 542.97h.9v.9h-.9zM128.91 538.49h.9v.9h-.9zM131.79 518.9h.9v.9h-.9zM124.19 517.95h.9v.9h-.9zM120.6 488.7h.9v.9h-.9zM122.88 511.52h.9v.9h-.9zM130.02 506.36h.9v.9h-.9zM132.05 491.52h.9v.9h-.9zM122.84 511.94h.9v.9h-.9zM128.88 495.64h.9v.9h-.9zM116.86 498.18h.9v.9h-.9zM122.57 525.7h.9v.9h-.9zM127.72 533.43h.9v.9h-.9zM123.61 530.47h.9v.9h-.9zM131.71 514.35h.9v.9h-.9zM132.62 509.92h.9v.9h-.9zM120.08 511.43h.9v.9h-.9zM128.95 528.72h.9v.9h-.9zM127.79 537.23h.9v.9h-.9zM125.02 543.29h.9v.9h-.9zM121.91 519.22h.9v.9h-.9zM120.54 524.72h.9v.9h-.9zM115.89 499.85h.9v.9h-.9zM127.69 538.68h.9v.9h-.9zM115.23 496.32h.9v.9h-.9zM121.47 524.77h.9v.9h-.9zM125.41 536.46h.9v.9h-.9zM124.18 523.19h.9v.9h-.9zM127.98 528.94h.9v.9h-.9zM114.92 493.15h.9v.9h-.9zM125.01 541.91h.9v.9h-.9zM119.05 502.49h.9v.9h-.9zM116.2 489.99h.9v.9h-.9zM120.93 519.31h.9v.9h-.9zM122.04 517.8h.9v.9h-.9zM134.74 488.92h.9v.9h-.9zM117.11 506.13h.9v.9h-.9zM123.58 537.53h.9v.9h-.9zM128.44 534.65h.9v.9h-.9zM130.61 492.82h.9v.9h-.9zM126.18 545.31h.9v.9h-.9zM128.37 534.52h.9v.9h-.9zM120.78 509.87h.9v.9h-.9zM123.9 527.37h.9v.9h-.9zM125.87 545.91h.9v.9h-.9zM120.81 520.14h.9v.9h-.9zM118.84 491.67h.9v.9h-.9zM126 547.54h.9v.9h-.9zM122.28 504.05h.9v.9h-.9zM122.77 526.14h.9v.9h-.9zM114.74 495.32h.9v.9h-.9zM117.59 513.29h.9v.9h-.9zM118.3 506.23h.9v.9h-.9zM121.82 527.86h.9v.9h-.9zM117.65 505.27h.9v.9h-.9zM128.61 533.26h.9v.9h-.9zM135.35 490.07h.9v.9h-.9zM135.53 493.91h.9v.9h-.9zM132.02 518.24h.9v.9h-.9zM128.13 540.65h.9v.9h-.9zM130.91 506.88h.9v.9h-.9zM134.07 496.34h.9v.9h-.9zM128.99 525.39h.9v.9h-.9zM124.51 537.35h.9v.9h-.9zM132.93 495.8h.9v.9h-.9zM130.36 516.97h.9v.9h-.9zM130.87 515.35h.9v.9h-.9zM125.73 546.02h.9v.9h-.9zM119.28 501.1h.9v.9h-.9zM131.68 516.4h.9v.9h-.9zM130.93 526.29h.9v.9h-.9zM122.18 505.19h.9v.9h-.9zM124.64 544.93h.9v.9h-.9zM114.1 490.66h.9v.9h-.9zM114.58 489.85h.9v.9h-.9zM121.96 503.78h.9v.9h-.9zM130.24 510.44h.9v.9h-.9zM133.97 500.07h.9v.9h-.9zM119.62 504.94h.9v.9h-.9zM123.87 537.51h.9v.9h-.9zM118.28 519.04h.9v.9h-.9zM125.71 538.62h.9v.9h-.9zM127.61 544.21h.9v.9h-.9zM134.85 490.35h.9v.9h-.9zM133.44 500.06h.9v.9h-.9zM119.66 498.95h.9v.9h-.9zM125.27 533.51h.9v.9h-.9zM127.97 547.55h.9v.9h-.9zM119.75 504.35h.9v.9h-.9zM118.81 519.64h.9v.9h-.9zM123.53 528.53h.9v.9h-.9zM132.22 510.85h.9v.9h-.9zM121 530.62h.9v.9h-.9zM118.09 493.83h.9v.9h-.9zM119.53 509.18h.9v.9h-.9zM111.62 495.5h.9v.9h-.9zM126.07 541.77h.9v.9h-.9zM128.96 541.28h.9v.9h-.9zM129.56 512.22h.9v.9h-.9zM133.82 507.74h.9v.9h-.9zM114.71 499.49h.9v.9h-.9zM132.83 508.8h.9v.9h-.9zM128.16 543.79h.9v.9h-.9zM119.41 509.15h.9v.9h-.9zM133.81 501.4h.9v.9h-.9zM133.53 491h.9v.9h-.9zM127.74 537.49h.9v.9h-.9zM117.2 506.91h.9v.9h-.9zM115.6 500.41h.9v.9h-.9zM121.69 518.64h.9v.9h-.9zM128.58 525.37h.9v.9h-.9zM130.62 506.9h.9v.9h-.9zM125.95 548.19h.9v.9h-.9zM133.6 493.31h.9v.9h-.9zM133.72 496.54h.9v.9h-.9zM120.99 497.35h.9v.9h-.9zM119.31 498.87h.9v.9h-.9zM131.86 506.28h.9v.9h-.9zM129.16 526.14h.9v.9h-.9zM121.84 498.3h.9v.9h-.9zM126.15 543.64h.9v.9h-.9zM128.25 539.41h.9v.9h-.9zM134.1 506.6h.9v.9h-.9zM115.78 501.65h.9v.9h-.9zM120.54 495.68h.9v.9h-.9zM125.76 547.71h.9v.9h-.9zM130.27 498.77h.9v.9h-.9zM129.75 523.03h.9v.9h-.9zM109.54 489.9h.9v.9h-.9zM128.78 535.27h.9v.9h-.9zM136.1 498.04h.9v.9h-.9zM122.17 509.99h.9v.9h-.9zM130.4 509.7h.9v.9h-.9zM119.4 512.3h.9v.9h-.9zM121.85 515.98h.9v.9h-.9zM128.51 529.88h.9v.9h-.9zM124.67 532.27h.9v.9h-.9zM132.29 501.12h.9v.9h-.9zM126.86 547.85h.9v.9h-.9zM116.94 503.41h.9v.9h-.9zM127.35 542.54h.9v.9h-.9zM116.67 500.09h.9v.9h-.9zM119.09 513.31h.9v.9h-.9zM120.97 520.67h.9v.9h-.9zM133.35 495.49h.9v.9h-.9zM128.1 538.73h.9v.9h-.9zM132.42 509.42h.9v.9h-.9zM128.67 528.09h.9v.9h-.9zM116.4 495.11h.9v.9h-.9zM119.26 511.87h.9v.9h-.9zM130.1 518.62h.9v.9h-.9zM132.73 515.65h.9v.9h-.9zM126.18 542.73h.9v.9h-.9zM122.16 526.64h.9v.9h-.9zM127.96 532.94h.9v.9h-.9zM131.98 509.48h.9v.9h-.9zM127.12 545.99h.9v.9h-.9zM127.77 540.65h.9v.9h-.9zM128.2 526.02h.9v.9h-.9zM118.48 496.02h.9v.9h-.9zM132.97 504.06h.9v.9h-.9zM118.44 497.36h.9v.9h-.9zM126.18 544h.9v.9h-.9zM122.82 520.51h.9v.9h-.9zM124.35 543.23h.9v.9h-.9zM133.07 502.44h.9v.9h-.9zM121.42 488.79h.9v.9h-.9zM123.03 531.72h.9v.9h-.9zM120.21 510.09h.9v.9h-.9zM129.97 525.63h.9v.9h-.9zM118.89 520.06h.9v.9h-.9zM131.9 507.49h.9v.9h-.9zM126.03 544.22h.9v.9h-.9zM129.42 496.27h.9v.9h-.9zM113.65 498.71h.9v.9h-.9zM117.97 503.33h.9v.9h-.9zM121.58 519.93h.9v.9h-.9zM128.3 527.16h.9v.9h-.9zM119.16 501.55h.9v.9h-.9zM130.28 511.5h.9v.9h-.9zM131.3 503.95h.9v.9h-.9zM120.68 520.94h.9v.9h-.9zM120.12 490.37h.9v.9h-.9zM121.14 521.42h.9v.9h-.9zM114.94 490.41h.9v.9h-.9zM128.86 523.24h.9v.9h-.9zM119.38 527.55h.9v.9h-.9zM127.15 547.5h.9v.9h-.9zM118.15 496.49h.9v.9h-.9zM123.72 523.83h.9v.9h-.9zM117.64 502.62h.9v.9h-.9zM124.79 537.78h.9v.9h-.9zM118.41 497.84h.9v.9h-.9zM115.98 511.27h.9v.9h-.9zM135.18 500.18h.9v.9h-.9zM127.74 523.77h.9v.9h-.9zM127.16 542.4h.9v.9h-.9zM124.17 531.03h.9v.9h-.9zM122.53 525.58h.9v.9h-.9zM113.49 490.52h.9v.9h-.9zM131.53 506.28h.9v.9h-.9zM125.43 534.97h.9v.9h-.9zM116.55 498.24h.9v.9h-.9zM117.75 494.55h.9v.9h-.9zM120.69 525.98h.9v.9h-.9zM131.23 528.33h.9v.9h-.9zM115.6 490.16h.9v.9h-.9zM131.23 500.46h.9v.9h-.9zM137.07 489.93h.9v.9h-.9zM120.32 522.21h.9v.9h-.9zM118.1 510.61h.9v.9h-.9zM127.95 532.8h.9v.9h-.9zM118.99 510.76h.9v.9h-.9zM133.31 493.33h.9v.9h-.9zM126.96 540.55h.9v.9h-.9zM123.9 534.03h.9v.9h-.9zM124.42 533.7h.9v.9h-.9zM131.88 508.95h.9v.9h-.9zM130.35 510.2h.9v.9h-.9zM119.31 512.74h.9v.9h-.9zM126.99 542.81h.9v.9h-.9zM129.16 525h.9v.9h-.9zM112.77 491.02h.9v.9h-.9zM121 529.61h.9v.9h-.9zM125.92 547.75h.9v.9h-.9zM112.79 490.02h.9v.9h-.9zM132.47 515.69h.9v.9h-.9zM128.08 536.83h.9v.9h-.9zM124.39 539.25h.9v.9h-.9zM123.49 528.78h.9v.9h-.9zM128.3 532.36h.9v.9h-.9zM115.65 503.81h.9v.9h-.9zM124.7 536.82h.9v.9h-.9zM129.05 531.56h.9v.9h-.9zM129.83 529.73h.9v.9h-.9zM122.1 495.58h.9v.9h-.9zM129.36 511.12h.9v.9h-.9zM128.87 526h.9v.9h-.9zM126.11 546.34h.9v.9h-.9zM121.23 498.94h.9v.9h-.9zM125.81 546.57h.9v.9h-.9zM125.29 544.02h.9v.9h-.9zM127.49 541.05h.9v.9h-.9zM119.61 520.54h.9v.9h-.9zM127.96 525.31h.9v.9h-.9zM124.35 531.74h.9v.9h-.9zM126.95 543.89h.9v.9h-.9zM128.92 529.36h.9v.9h-.9zM131.46 518.55h.9v.9h-.9zM125.3 538.13h.9v.9h-.9zM126.88 531.32h.9v.9h-.9zM133.13 493.86h.9v.9h-.9zM116.5 494.81h.9v.9h-.9zM127.92 544.21h.9v.9h-.9zM128.02 531.94h.9v.9h-.9zM127.84 529.64h.9v.9h-.9zM130.5 521.18h.9v.9h-.9zM122.67 526.01h.9v.9h-.9zM125.87 547.74h.9v.9h-.9zM125.16 538.18h.9v.9h-.9zM110.25 494.39h.9v.9h-.9zM128.25 532.83h.9v.9h-.9zM127.59 543.87h.9v.9h-.9zM128.94 532.22h.9v.9h-.9zM123.85 540.81h.9v.9h-.9zM131.49 490.62h.9v.9h-.9zM122.91 516.82h.9v.9h-.9zM128.43 529.11h.9v.9h-.9zM122.53 530.65h.9v.9h-.9zM130.83 508.94h.9v.9h-.9zM116.08 490.27h.9v.9h-.9zM117.82 499.43h.9v.9h-.9zM123.99 513.06h.9v.9h-.9zM128.43 529.72h.9v.9h-.9zM117.05 493.71h.9v.9h-.9zM132.62 496.48h.9v.9h-.9zM122.94 530h.9v.9h-.9zM120.52 495.98h.9v.9h-.9zM128.29 537.18h.9v.9h-.9zM123.58 532.48h.9v.9h-.9zM124.25 539.35h.9v.9h-.9zM124.19 532.06h.9v.9h-.9zM130.37 523.1h.9v.9h-.9zM131.14 516.7h.9v.9h-.9zM131.63 509.72h.9v.9h-.9zM125.94 546.22h.9v.9h-.9zM123.12 534.82h.9v.9h-.9zM125.57 542.3h.9v.9h-.9zM123.6 536.06h.9v.9h-.9zM120.16 512.71h.9v.9h-.9zM121.27 506.49h.9v.9h-.9zM128.36 534.09h.9v.9h-.9zM117.02 494.57h.9v.9h-.9zM122.91 528.39h.9v.9h-.9zM117.09 507.76h.9v.9h-.9zM129.64 513.5h.9v.9h-.9zM121.76 499.4h.9v.9h-.9zM125.74 539.6h.9v.9h-.9zM130.22 521.3h.9v.9h-.9zM121.65 519.28h.9v.9h-.9zM115.45 505.91h.9v.9h-.9zM131.96 494.43h.9v.9h-.9zM137.11 504.83h.9v.9h-.9zM133.02 508.94h.9v.9h-.9zM116.49 504.06h.9v.9h-.9zM128.47 536.77h.9v.9h-.9zM129.76 495.92h.9v.9h-.9zM119.03 491.07h.9v.9h-.9zM131.45 495.28h.9v.9h-.9zM129.9 529.87h.9v.9h-.9zM122.42 511.75h.9v.9h-.9zM132.31 500.99h.9v.9h-.9zM120.73 507.38h.9v.9h-.9zM129.95 511.07h.9v.9h-.9zM117.52 500.55h.9v.9h-.9zM118.9 512.91h.9v.9h-.9zM118 508.89h.9v.9h-.9zM121.94 531.42h.9v.9h-.9zM128.19 539.09h.9v.9h-.9zM127.68 536.6h.9v.9h-.9zM124.06 520.07h.9v.9h-.9zM130.04 523.1h.9v.9h-.9zM124.38 530.3h.9v.9h-.9zM127.37 529.08h.9v.9h-.9zM125.17 540.25h.9v.9h-.9zM121.76 514.48h.9v.9h-.9zM119.06 496h.9v.9h-.9zM121.27 529.63h.9v.9h-.9zM123.54 522.79h.9v.9h-.9zM118.66 514.95h.9v.9h-.9zM130.96 511.58h.9v.9h-.9zM125.4 540.75h.9v.9h-.9zM121.01 503.21h.9v.9h-.9zM115.69 500.09h.9v.9h-.9zM124.91 545.09h.9v.9h-.9zM126 542.54h.9v.9h-.9zM124.91 544.72h.9v.9h-.9zM127.25 545.19h.9v.9h-.9zM131.21 518.75h.9v.9h-.9zM129.29 530.37h.9v.9h-.9zM121.48 519.37h.9v.9h-.9zM119.74 512.26h.9v.9h-.9zM120.19 520.04h.9v.9h-.9zM124.78 541.08h.9v.9h-.9zM122.3 499.24h.9v.9h-.9zM128.94 522.51h.9v.9h-.9zM133.37 509.06h.9v.9h-.9zM122.85 519.89h.9v.9h-.9zM129.02 518.89h.9v.9h-.9zM127.33 541.94h.9v.9h-.9zM121.88 521.03h.9v.9h-.9zM117.03 509.79h.9v.9h-.9zM113.79 494.14h.9v.9h-.9zM129.18 531.81h.9v.9h-.9zM129.65 518.28h.9v.9h-.9zM125.38 544.61h.9v.9h-.9zM127.76 528.08h.9v.9h-.9zM119.95 502.77h.9v.9h-.9zM130.27 509.79h.9v.9h-.9zM132.6 513.92h.9v.9h-.9zM126.07 540.62h.9v.9h-.9zM131.73 524.22h.9v.9h-.9zM125.41 542.59h.9v.9h-.9zM114.03 502.93h.9v.9h-.9zM128.39 534.21h.9v.9h-.9zM131.46 503.18h.9v.9h-.9zM127.29 541.51h.9v.9h-.9zM131.82 512.1h.9v.9h-.9zM114.15 506.59h.9v.9h-.9zM122.25 522.2h.9v.9h-.9zM116.49 499.71h.9v.9h-.9zM129.92 510.75h.9v.9h-.9zM131.29 494.96h.9v.9h-.9zM125.68 544.06h.9v.9h-.9zM132.63 509.97h.9v.9h-.9zM129.58 520.04h.9v.9h-.9zM128.49 540.12h.9v.9h-.9zM126.26 544.12h.9v.9h-.9zM124.83 541.31h.9v.9h-.9zM124.1 534.97h.9v.9h-.9zM122.11 506.32h.9v.9h-.9zM127.17 543.89h.9v.9h-.9zM124.24 524.49h.9v.9h-.9zM121.07 520.2h.9v.9h-.9zM123.3 528.15h.9v.9h-.9zM127.1 540.03h.9v.9h-.9zM130.79 508.71h.9v.9h-.9zM119.03 491.69h.9v.9h-.9zM127.98 546.24h.9v.9h-.9zM131.08 511.75h.9v.9h-.9zM129.08 532.19h.9v.9h-.9zM119.2 509.48h.9v.9h-.9zM134.58 490.29h.9v.9h-.9zM131.46 499.86h.9v.9h-.9zM130.89 504.25h.9v.9h-.9zM130.86 506.79h.9v.9h-.9zM122.42 522.18h.9v.9h-.9zM125.34 536.78h.9v.9h-.9zM120.24 513.17h.9v.9h-.9zM134.12 500.94h.9v.9h-.9zM122.16 505.33h.9v.9h-.9zM125.18 537.56h.9v.9h-.9zM128.29 533.76h.9v.9h-.9zM124.82 541.04h.9v.9h-.9zM120.69 518.77h.9v.9h-.9zM127.3 535.19h.9v.9h-.9zM127.6 530.86h.9v.9h-.9zM120.05 506.65h.9v.9h-.9zM130.27 506.18h.9v.9h-.9zM124.5 540.16h.9v.9h-.9zM128.04 535.76h.9v.9h-.9zM117.23 489.9h.9v.9h-.9zM125.25 541.53h.9v.9h-.9zM121.98 525.39h.9v.9h-.9zM124.22 511.91h.9v.9h-.9zM126.13 545.7h.9v.9h-.9zM126.07 545.23h.9v.9h-.9zM115.87 511.97h.9v.9h-.9zM128.96 499.92h.9v.9h-.9zM120.82 498.79h.9v.9h-.9zM132.78 504.4h.9v.9h-.9zM120.17 505.24h.9v.9h-.9zM128.19 520.65h.9v.9h-.9zM125.95 538.64h.9v.9h-.9zM128.26 540.47h.9v.9h-.9zM127.84 543.24h.9v.9h-.9zM122.94 524.77h.9v.9h-.9zM132.52 501.59h.9v.9h-.9zM121.59 514.38h.9v.9h-.9zM123.47 520.7h.9v.9h-.9zM130.19 519.65h.9v.9h-.9zM118.27 492.24h.9v.9h-.9zM126.26 544.53h.9v.9h-.9zM115.29 496.41h.9v.9h-.9zM119.2 511.42h.9v.9h-.9zM116.98 507.44h.9v.9h-.9zM115.92 505.48h.9v.9h-.9zM123.53 532.97h.9v.9h-.9zM120.56 505.42h.9v.9h-.9zM122.89 521.83h.9v.9h-.9zM121.5 526.16h.9v.9h-.9zM134.45 496h.9v.9h-.9zM128.31 528.33h.9v.9h-.9zM117.66 490.16h.9v.9h-.9zM116.3 492.75h.9v.9h-.9zM131.42 500.06h.9v.9h-.9zM124.25 535.51h.9v.9h-.9zM129.29 525.58h.9v.9h-.9zM117.01 492.43h.9v.9h-.9zM131.41 515.59h.9v.9h-.9zM132 516.81h.9v.9h-.9zM121.21 521.99h.9v.9h-.9zM122.29 533.77h.9v.9h-.9zM119.11 521.11h.9v.9h-.9zM120.49 504.55h.9v.9h-.9zM122.96 518.13h.9v.9h-.9zM128.32 521.52h.9v.9h-.9zM126.81 540.87h.9v.9h-.9zM121.47 513.4h.9v.9h-.9zM122.98 529.6h.9v.9h-.9zM130.85 513.93h.9v.9h-.9zM130.26 495.97h.9v.9h-.9zM121.41 515.21h.9v.9h-.9zM125.33 546.32h.9v.9h-.9zM128.54 540.44h.9v.9h-.9zM127.01 527.17h.9v.9h-.9zM128.57 541.24h.9v.9h-.9zM129.11 511.5h.9v.9h-.9zM128.59 527.14h.9v.9h-.9zM116.87 498.46h.9v.9h-.9zM123.85 537.39h.9v.9h-.9zM127 543.35h.9v.9h-.9zM121.83 509.54h.9v.9h-.9zM119.48 513.2h.9v.9h-.9zM124.69 527.97h.9v.9h-.9zM131.12 497.9h.9v.9h-.9zM124.53 537.69h.9v.9h-.9zM135.02 489.23h.9v.9h-.9zM132.28 511.57h.9v.9h-.9zM125.75 531.99h.9v.9h-.9zM111.99 493.5h.9v.9h-.9zM132.36 508.52h.9v.9h-.9zM136.28 503.23h.9v.9h-.9zM130.43 516.09h.9v.9h-.9zM128.02 546.82h.9v.9h-.9zM131.28 504.6h.9v.9h-.9zM133.1 497.86h.9v.9h-.9zM117.43 496.68h.9v.9h-.9zM123.64 527.21h.9v.9h-.9zM129.22 528.8h.9v.9h-.9zM130.33 517.7h.9v.9h-.9zM120.58 493.08h.9v.9h-.9zM130.05 529.38h.9v.9h-.9zM126.7 546.23h.9v.9h-.9zM116.92 491.98h.9v.9h-.9zM119.94 499.71h.9v.9h-.9zM120.82 496h.9v.9h-.9zM127.17 548.17h.9v.9h-.9zM123.81 537.71h.9v.9h-.9zM119.29 513.45h.9v.9h-.9zM127.31 537.59h.9v.9h-.9zM120.45 519.36h.9v.9h-.9zM123.2 519.61h.9v.9h-.9zM132.2 503.23h.9v.9h-.9zM114.45 508.76h.9v.9h-.9zM124.57 541.57h.9v.9h-.9zM128.39 519.44h.9v.9h-.9zM124.65 534.32h.9v.9h-.9zM135.32 501.56h.9v.9h-.9zM121.97 529.37h.9v.9h-.9zM114.99 493.82h.9v.9h-.9zM113.56 499.43h.9v.9h-.9zM128.4 538.4h.9v.9h-.9zM132.75 511.7h.9v.9h-.9zM116.26 505.18h.9v.9h-.9zM132.22 493.83h.9v.9h-.9zM128.37 517.35h.9v.9h-.9zM120.25 516.33h.9v.9h-.9zM131.62 493.92h.9v.9h-.9zM134.87 492.17h.9v.9h-.9zM126.83 542.23h.9v.9h-.9zM122.67 530.34h.9v.9h-.9zM122.62 532.07h.9v.9h-.9zM127.94 540.52h.9v.9h-.9zM125.62 543.94h.9v.9h-.9zM126.19 547.48h.9v.9h-.9zM130.07 500.98h.9v.9h-.9zM121.52 529.01h.9v.9h-.9zM124.2 536.24h.9v.9h-.9zM123.06 530.95h.9v.9h-.9zM132.38 519.46h.9v.9h-.9zM125.66 547.33h.9v.9h-.9zM121.06 515.68h.9v.9h-.9zM129.94 524.61h.9v.9h-.9zM132.28 509.93h.9v.9h-.9zM128.2 542.66h.9v.9h-.9zM122.73 533.42h.9v.9h-.9zM116.12 505.14h.9v.9h-.9zM127.99 533.29h.9v.9h-.9zM121.65 529.14h.9v.9h-.9zM120.32 507.09h.9v.9h-.9zM124.77 529.65h.9v.9h-.9zM130.34 517.61h.9v.9h-.9zM124.87 542.08h.9v.9h-.9zM127.41 538.67h.9v.9h-.9zM113.42 490.26h.9v.9h-.9zM122.68 500.35h.9v.9h-.9zM123.23 524.48h.9v.9h-.9zM118.1 493.24h.9v.9h-.9zM128.68 526.14h.9v.9h-.9zM124.54 536.14h.9v.9h-.9zM124.05 533.34h.9v.9h-.9zM126.63 540.27h.9v.9h-.9zM126.25 539.37h.9v.9h-.9zM123.44 537.14h.9v.9h-.9zM125.66 544.71h.9v.9h-.9zM120.57 514.93h.9v.9h-.9zM130 531.94h.9v.9h-.9zM127.8 530.08h.9v.9h-.9zM121.07 516.02h.9v.9h-.9zM119.71 504.68h.9v.9h-.9zM121.64 500.72h.9v.9h-.9zM120.02 502.21h.9v.9h-.9zM131.06 496.27h.9v.9h-.9zM117.28 501.53h.9v.9h-.9zM128.96 539.6h.9v.9h-.9zM114.16 494.8h.9v.9h-.9zM121.37 508.62h.9v.9h-.9zM122.34 514.87h.9v.9h-.9zM124.36 529.72h.9v.9h-.9zM137.25 498.01h.9v.9h-.9zM132.35 505.84h.9v.9h-.9zM119.06 501.2h.9v.9h-.9zM121.76 527.54h.9v.9h-.9zM119.41 508.3h.9v.9h-.9zM135.85 488.71h.9v.9h-.9zM116.17 503.67h.9v.9h-.9zM126.06 548.02h.9v.9h-.9zM117.57 493.27h.9v.9h-.9zM119.33 519.74h.9v.9h-.9zM116.05 510.98h.9v.9h-.9zM136.55 492.91h.9v.9h-.9zM119.06 520.06h.9v.9h-.9zM127.33 546.07h.9v.9h-.9zM117.81 504.35h.9v.9h-.9zM114.34 497.8h.9v.9h-.9zM125.84 542.53h.9v.9h-.9zM114.58 498.31h.9v.9h-.9zM130.34 494.22h.9v.9h-.9zM119.88 492.13h.9v.9h-.9zM127.54 544.48h.9v.9h-.9zM126.74 543.34h.9v.9h-.9zM124.36 538.02h.9v.9h-.9zM125.04 531.99h.9v.9h-.9zM132.34 506.74h.9v.9h-.9zM125.49 542.94h.9v.9h-.9zM132.02 490.63h.9v.9h-.9zM125.47 525.97h.9v.9h-.9zM115.02 498.31h.9v.9h-.9zM123 503.18h.9v.9h-.9zM128.25 537.72h.9v.9h-.9zM124.2 537.11h.9v.9h-.9zM120.19 506.66h.9v.9h-.9zM129.77 527.5h.9v.9h-.9zM131.69 498.64h.9v.9h-.9zM120.31 516.2h.9v.9h-.9zM114.22 499.88h.9v.9h-.9zM129.77 518.24h.9v.9h-.9zM122.47 502.13h.9v.9h-.9zM124.47 541.47h.9v.9h-.9zM121.09 513.28h.9v.9h-.9zM126.67 546.33h.9v.9h-.9zM127 547.89h.9v.9h-.9zM115.64 493.77h.9v.9h-.9zM126.15 547.06h.9v.9h-.9zM127.72 522.36h.9v.9h-.9zM120.72 526.05h.9v.9h-.9zM113.1 490.33h.9v.9h-.9zM127.85 518.05h.9v.9h-.9zM130.92 524.4h.9v.9h-.9zM134.63 495.36h.9v.9h-.9zM118.18 490.23h.9v.9h-.9zM118.76 490.98h.9v.9h-.9zM131.68 500.45h.9v.9h-.9zM125.05 539.54h.9v.9h-.9zM124.45 534.24h.9v.9h-.9zM118.76 507.43h.9v.9h-.9zM122.97 527.75h.9v.9h-.9zM133.27 493.79h.9v.9h-.9zM129.05 502.74h.9v.9h-.9zM127.8 540.38h.9v.9h-.9zM130.37 504.7h.9v.9h-.9zM120.82 519.17h.9v.9h-.9zM119.46 511.98h.9v.9h-.9zM120.94 499.15h.9v.9h-.9zM132.15 509.77h.9v.9h-.9zM123.7 522.33h.9v.9h-.9zM125.43 531.32h.9v.9h-.9zM118.47 491.06h.9v.9h-.9zM131.73 498.49h.9v.9h-.9zM126.92 542.3h.9v.9h-.9zM123.8 529.29h.9v.9h-.9zM119.68 519.3h.9v.9h-.9zM129.42 530.25h.9v.9h-.9zM130.59 500.39h.9v.9h-.9zM123.87 528.33h.9v.9h-.9zM131.08 489.73h.9v.9h-.9zM128.18 539.37h.9v.9h-.9zM127.54 536.55h.9v.9h-.9zM126.08 545.46h.9v.9h-.9zM120.65 526.41h.9v.9h-.9zM124.43 528.19h.9v.9h-.9zM124.64 537.67h.9v.9h-.9zM121.26 510.34h.9v.9h-.9zM119.08 504.2h.9v.9h-.9zM120.29 504.91h.9v.9h-.9zM117.06 490.26h.9v.9h-.9zM131.63 498.45h.9v.9h-.9zM125.85 543.78h.9v.9h-.9zM131.98 510.23h.9v.9h-.9zM127.1 543.65h.9v.9h-.9zM125.85 547.02h.9v.9h-.9zM133.67 495.58h.9v.9h-.9zM124.85 536.9h.9v.9h-.9zM118.46 497.29h.9v.9h-.9zM120.87 520.09h.9v.9h-.9zM132.42 501.83h.9v.9h-.9zM131.9 493.98h.9v.9h-.9zM126.12 547.24h.9v.9h-.9zM133.17 490.02h.9v.9h-.9zM122.36 528.95h.9v.9h-.9zM129.55 498.92h.9v.9h-.9zM122.16 525.1h.9v.9h-.9zM124.23 527.65h.9v.9h-.9zM127.06 535.77h.9v.9h-.9zM124.62 546.43h.9v.9h-.9zM130.33 514.8h.9v.9h-.9zM129.44 526.29h.9v.9h-.9zM126.83 546.59h.9v.9h-.9zM107.8 488.83h.9v.9h-.9zM131.54 519.02h.9v.9h-.9zM119.47 512.07h.9v.9h-.9zM118.03 489.05h.9v.9h-.9zM118.21 501.88h.9v.9h-.9zM122.01 503.45h.9v.9h-.9zM121.31 526.65h.9v.9h-.9zM131.62 502.82h.9v.9h-.9zM120.84 497.01h.9v.9h-.9zM130.29 521.49h.9v.9h-.9zM122.44 516.52h.9v.9h-.9zM120.91 494.12h.9v.9h-.9zM127.98 523.83h.9v.9h-.9zM117.28 511.3h.9v.9h-.9zM132.87 491.84h.9v.9h-.9zM131.21 520.15h.9v.9h-.9zM130.73 495.54h.9v.9h-.9zM134.19 497.53h.9v.9h-.9zM128.37 537.88h.9v.9h-.9zM122.59 530.84h.9v.9h-.9zM125.78 533.71h.9v.9h-.9zM125.18 541.71h.9v.9h-.9zM128.11 538.84h.9v.9h-.9zM133.85 496.53h.9v.9h-.9zM122.13 523.43h.9v.9h-.9zM114.05 501.93h.9v.9h-.9zM122.98 519.62h.9v.9h-.9zM120.32 499.2h.9v.9h-.9zM128.66 517.78h.9v.9h-.9zM125.19 539.63h.9v.9h-.9zM128.23 541.68h.9v.9h-.9zM114.53 493.78h.9v.9h-.9zM122.25 509.98h.9v.9h-.9zM122.99 533.73h.9v.9h-.9zM116.01 501.29h.9v.9h-.9zM129.88 502.85h.9v.9h-.9zM121.46 526.19h.9v.9h-.9zM127.58 538.89h.9v.9h-.9zM124.15 530.73h.9v.9h-.9zM124.33 530.88h.9v.9h-.9zM123.24 535.71h.9v.9h-.9zM116.02 505.25h.9v.9h-.9zM119.6 511.39h.9v.9h-.9zM119.26 497.39h.9v.9h-.9zM131.35 519.35h.9v.9h-.9zM110.28 494.73h.9v.9h-.9zM123.46 529.87h.9v.9h-.9zM130.71 501.18h.9v.9h-.9zM111.8 493.8h.9v.9h-.9zM130.7 501.55h.9v.9h-.9zM120.57 508.65h.9v.9h-.9zM125.71 544.34h.9v.9h-.9zM133.53 496.19h.9v.9h-.9zM129.16 533.53h.9v.9h-.9zM132.11 509.45h.9v.9h-.9zM125.64 545.95h.9v.9h-.9zM124.1 537h.9v.9h-.9zM131.35 517.12h.9v.9h-.9zM129.06 513.61h.9v.9h-.9zM128.22 529.3h.9v.9h-.9zM125.94 543.37h.9v.9h-.9zM123.05 519.23h.9v.9h-.9zM127.19 541.69h.9v.9h-.9zM120.02 500.19h.9v.9h-.9zM120.68 503.25h.9v.9h-.9zM121.24 518.03h.9v.9h-.9zM121.31 531.9h.9v.9h-.9zM118.09 489.94h.9v.9h-.9zM117.44 490.11h.9v.9h-.9zM121.39 522.53h.9v.9h-.9zM115.04 510.23h.9v.9h-.9zM131.88 502.76h.9v.9h-.9zM119.29 516.65h.9v.9h-.9zM131.58 514.22h.9v.9h-.9zM133.6 501.38h.9v.9h-.9zM120.89 491.17h.9v.9h-.9zM131.66 501.75h.9v.9h-.9zM111.1 497.17h.9v.9h-.9zM122.09 527.2h.9v.9h-.9zM123.01 524.83h.9v.9h-.9zM113.31 490.45h.9v.9h-.9zM135.71 502.51h.9v.9h-.9zM118.5 505.52h.9v.9h-.9zM115.62 501.08h.9v.9h-.9zM122.25 535.51h.9v.9h-.9zM123.6 533.82h.9v.9h-.9zM131.33 520.27h.9v.9h-.9zM131.91 507.24h.9v.9h-.9zM121.28 512.09h.9v.9h-.9zM127.97 531.86h.9v.9h-.9zM124.13 540.33h.9v.9h-.9zM128.75 523.62h.9v.9h-.9zM124.29 536.4h.9v.9h-.9zM132.76 502.76h.9v.9h-.9zM125.94 547.05h.9v.9h-.9zM130.59 505.83h.9v.9h-.9zM132.1 521.71h.9v.9h-.9zM121.92 520.81h.9v.9h-.9zM129.28 533.09h.9v.9h-.9zM121.98 523.8h.9v.9h-.9zM120.29 516.77h.9v.9h-.9zM123.42 522.22h.9v.9h-.9zM132.03 501.13h.9v.9h-.9zM130.65 504.46h.9v.9h-.9zM129.2 516.57h.9v.9h-.9zM121.35 493.21h.9v.9h-.9zM130.81 502.5h.9v.9h-.9zM116.98 495.72h.9v.9h-.9zM121.73 509.63h.9v.9h-.9zM132.09 499.33h.9v.9h-.9zM126.76 547.98h.9v.9h-.9zM124.24 532.88h.9v.9h-.9zM122.25 520.99h.9v.9h-.9zM129.75 527.16h.9v.9h-.9zM118.41 502.15h.9v.9h-.9zM117.55 512.38h.9v.9h-.9zM118.38 491.29h.9v.9h-.9zM124.96 535.88h.9v.9h-.9zM116.78 492.39h.9v.9h-.9zM122.83 494.62h.9v.9h-.9zM121.06 521.82h.9v.9h-.9zM122.83 521.65h.9v.9h-.9zM116.9 499.67h.9v.9h-.9zM134.63 505.05h.9v.9h-.9zM122.99 519.12h.9v.9h-.9zM123.09 536.94h.9v.9h-.9zM123.36 533.1h.9v.9h-.9zM123.06 500.33h.9v.9h-.9zM114.6 491.82h.9v.9h-.9zM129.06 530.38h.9v.9h-.9zM129.69 525.06h.9v.9h-.9zM124.16 539.95h.9v.9h-.9zM123.71 539.05h.9v.9h-.9zM122.96 500.39h.9v.9h-.9zM123.82 523.56h.9v.9h-.9zM134.7 490.65h.9v.9h-.9zM122.97 495.81h.9v.9h-.9zM122.01 530.06h.9v.9h-.9zM124.85 529.16h.9v.9h-.9zM127.51 546.31h.9v.9h-.9zM124 525.82h.9v.9h-.9zM125.7 547.47h.9v.9h-.9zM122.96 519.92h.9v.9h-.9zM124.44 540.32h.9v.9h-.9zM123.15 520.29h.9v.9h-.9zM128.27 526.5h.9v.9h-.9zM121.54 503.6h.9v.9h-.9zM125.58 540.6h.9v.9h-.9zM124.53 542.69h.9v.9h-.9zM123.4 534.83h.9v.9h-.9zM111.9 490.14h.9v.9h-.9zM130.53 495.54h.9v.9h-.9zM119.73 508.83h.9v.9h-.9zM120.39 494.2h.9v.9h-.9zM124.41 537.47h.9v.9h-.9zM127.52 538.68h.9v.9h-.9zM120.81 527.8h.9v.9h-.9zM128.4 521.33h.9v.9h-.9zM124.35 541.32h.9v.9h-.9zM130.79 528.2h.9v.9h-.9zM128.72 519.22h.9v.9h-.9zM128.43 527.89h.9v.9h-.9zM120.2 509.96h.9v.9h-.9zM122.38 521.01h.9v.9h-.9zM114.99 496.15h.9v.9h-.9zM127.83 543.4h.9v.9h-.9zM119.9 492.09h.9v.9h-.9zM129 535.1h.9v.9h-.9zM120.52 512.44h.9v.9h-.9zM113.75 500.52h.9v.9h-.9zM130.96 516.62h.9v.9h-.9zM118.49 510.44h.9v.9h-.9zM127.78 539.27h.9v.9h-.9zM129.44 531.71h.9v.9h-.9zM120.17 494.5h.9v.9h-.9zM125.12 540.22h.9v.9h-.9zM120.28 515.14h.9v.9h-.9zM139.08 491.01h.9v.9h-.9zM117.11 499.19h.9v.9h-.9zM127.78 533.86h.9v.9h-.9zM124.04 536.8h.9v.9h-.9zM128.67 531.85h.9v.9h-.9zM135.31 491.91h.9v.9h-.9zM133.01 502.89h.9v.9h-.9zM125.13 542.22h.9v.9h-.9zM130.24 530.5h.9v.9h-.9zM124.82 544.15h.9v.9h-.9zM122.61 532.09h.9v.9h-.9zM127.1 541.61h.9v.9h-.9zM131.5 507.03h.9v.9h-.9zM124.72 542.2h.9v.9h-.9zM129.56 526.69h.9v.9h-.9zM130.74 490.78h.9v.9h-.9zM128.06 531.61h.9v.9h-.9zM124.49 518h.9v.9h-.9zM128.09 543.39h.9v.9h-.9zM122.95 518.77h.9v.9h-.9zM118.65 501.68h.9v.9h-.9zM128.47 525.89h.9v.9h-.9zM134.77 500.92h.9v.9h-.9zM119.05 502.69h.9v.9h-.9zM130.17 523.14h.9v.9h-.9zM116.13 501.24h.9v.9h-.9zM120.36 492.15h.9v.9h-.9zM129.8 508.36h.9v.9h-.9zM117.11 491.81h.9v.9h-.9zM134.48 504.78h.9v.9h-.9zM128.86 527.79h.9v.9h-.9zM124.28 545.5h.9v.9h-.9zM116.47 500.92h.9v.9h-.9zM120.85 529.12h.9v.9h-.9zM134.08 497.86h.9v.9h-.9zM130.72 504.13h.9v.9h-.9zM126.98 542.3h.9v.9h-.9zM123.83 518.64h.9v.9h-.9zM116.52 506.07h.9v.9h-.9zM135.25 503.24h.9v.9h-.9zM121.56 513.58h.9v.9h-.9zM129.85 503.12h.9v.9h-.9zM128.46 536.48h.9v.9h-.9zM130.17 524.17h.9v.9h-.9zM120.41 524.64h.9v.9h-.9zM132.28 499.66h.9v.9h-.9zM127.59 543.44h.9v.9h-.9zM120.59 515.6h.9v.9h-.9zM120.22 498.55h.9v.9h-.9zM119.97 509.63h.9v.9h-.9zM125.3 547.12h.9v.9h-.9zM122.53 515.41h.9v.9h-.9zM129.32 513.63h.9v.9h-.9zM128.64 503.72h.9v.9h-.9zM128.24 532.6h.9v.9h-.9zM128.57 529.22h.9v.9h-.9zM115.5 496.95h.9v.9h-.9zM124.07 540.66h.9v.9h-.9zM123.51 519.92h.9v.9h-.9zM130.45 505.31h.9v.9h-.9zM130.57 489.47h.9v.9h-.9zM122.28 511.37h.9v.9h-.9zM126.99 538.12h.9v.9h-.9zM122.13 527.58h.9v.9h-.9zM127.18 544.45h.9v.9h-.9zM128.88 505.7h.9v.9h-.9zM134.8 489.4h.9v.9h-.9zM121.52 508.03h.9v.9h-.9zM135.72 491.79h.9v.9h-.9zM129.99 529.56h.9v.9h-.9zM132.01 526.94h.9v.9h-.9zM129.25 516.69h.9v.9h-.9zM119.85 512.4h.9v.9h-.9zM120.86 509.54h.9v.9h-.9zM119.78 491.8h.9v.9h-.9zM127.69 540.08h.9v.9h-.9zM118.76 506.08h.9v.9h-.9zM123.57 524.36h.9v.9h-.9zM131.58 528.05h.9v.9h-.9zM122.83 512.12h.9v.9h-.9zM125.25 538.28h.9v.9h-.9zM123.91 525.36h.9v.9h-.9zM133.88 496.99h.9v.9h-.9zM127.88 537.49h.9v.9h-.9zM134.66 493.8h.9v.9h-.9zM130.48 506.13h.9v.9h-.9zM119.37 499.4h.9v.9h-.9zM117.39 491.09h.9v.9h-.9zM123.82 530.94h.9v.9h-.9zM115.02 494.54h.9v.9h-.9zM134.32 493.36h.9v.9h-.9zM123.28 525.11h.9v.9h-.9zM128.88 528.13h.9v.9h-.9zM127.79 537.1h.9v.9h-.9zM134.85 493.3h.9v.9h-.9zM135.07 498.2h.9v.9h-.9zM127.66 529.2h.9v.9h-.9zM123.08 524.79h.9v.9h-.9zM121.83 521.58h.9v.9h-.9zM121.7 522.35h.9v.9h-.9zM121.6 514.81h.9v.9h-.9zM131.69 502.28h.9v.9h-.9zM125.57 545.87h.9v.9h-.9zM129.65 494.54h.9v.9h-.9zM131.65 516.42h.9v.9h-.9zM111.34 490.72h.9v.9h-.9zM130.64 504.21h.9v.9h-.9zM118.25 506.56h.9v.9h-.9zM132.56 495.01h.9v.9h-.9zM124.22 536h.9v.9h-.9zM126.63 536.04h.9v.9h-.9zM113.03 499.72h.9v.9h-.9zM130.42 498.95h.9v.9h-.9zM125.63 539.89h.9v.9h-.9zM128.41 523.08h.9v.9h-.9zM130.82 504.32h.9v.9h-.9zM119.84 523.63h.9v.9h-.9zM132.15 519.17h.9v.9h-.9zM120.47 506.75h.9v.9h-.9zM119.76 510.24h.9v.9h-.9zM122.94 537.4h.9v.9h-.9zM115.17 507.65h.9v.9h-.9zM123.62 531.34h.9v.9h-.9zM119.54 499.17h.9v.9h-.9zM129.24 518.59h.9v.9h-.9zM124.37 541.82h.9v.9h-.9zM114.06 502.77h.9v.9h-.9zM129.35 522.17h.9v.9h-.9zM113.72 492.55h.9v.9h-.9zM122.63 529.35h.9v.9h-.9zM120.36 491.54h.9v.9h-.9zM120.52 509.85h.9v.9h-.9zM125.69 544.55h.9v.9h-.9zM130.54 522.12h.9v.9h-.9zM121.19 516.76h.9v.9h-.9zM126.72 544.97h.9v.9h-.9zM122.6 511.38h.9v.9h-.9zM124.1 539.78h.9v.9h-.9zM120.16 514.72h.9v.9h-.9zM124.79 534.94h.9v.9h-.9zM122.81 509.57h.9v.9h-.9zM127.23 531.47h.9v.9h-.9zM129.82 507.54h.9v.9h-.9zM129.39 521.16h.9v.9h-.9zM123.47 526.83h.9v.9h-.9zM114.1 490.53h.9v.9h-.9zM126.18 547.11h.9v.9h-.9zM120.02 505.87h.9v.9h-.9zM117.61 498.14h.9v.9h-.9zM119.37 523.39h.9v.9h-.9zM123.72 526.63h.9v.9h-.9zM128.61 536.05h.9v.9h-.9zM115.3 496.14h.9v.9h-.9zM128.89 515.59h.9v.9h-.9zM127.67 535.59h.9v.9h-.9zM129.47 530.41h.9v.9h-.9zM126.82 545.32h.9v.9h-.9zM120.5 525.39h.9v.9h-.9zM118.89 506.87h.9v.9h-.9zM116.12 503.77h.9v.9h-.9zM119.2 501.62h.9v.9h-.9zM115.62 496.47h.9v.9h-.9zM111.09 492.58h.9v.9h-.9zM129.63 507.94h.9v.9h-.9zM119.77 496.81h.9v.9h-.9zM115.44 494.45h.9v.9h-.9zM115.59 498.1h.9v.9h-.9zM135.22 498.85h.9v.9h-.9zM124.13 542.29h.9v.9h-.9zM122.54 523.54h.9v.9h-.9zM119.78 515.34h.9v.9h-.9zM135.07 494.34h.9v.9h-.9zM122.16 521.76h.9v.9h-.9zM123.22 525.68h.9v.9h-.9zM133.43 499.46h.9v.9h-.9zM120.2 494.92h.9v.9h-.9zM132.99 495.42h.9v.9h-.9zM124.85 540.29h.9v.9h-.9zM113.42 489h.9v.9h-.9zM127.34 529.19h.9v.9h-.9zM120.04 512.32h.9v.9h-.9zM131.49 523.39h.9v.9h-.9zM122.61 531.61h.9v.9h-.9zM123.57 534.08h.9v.9h-.9zM125.69 545.94h.9v.9h-.9zM125.74 543.56h.9v.9h-.9zM130.76 511.05h.9v.9h-.9zM117.69 494.29h.9v.9h-.9zM131.41 506.7h.9v.9h-.9zM134.9 501.48h.9v.9h-.9zM132.08 505.37h.9v.9h-.9zM118.44 493.76h.9v.9h-.9zM128.42 529.31h.9v.9h-.9zM132.45 500.16h.9v.9h-.9zM124.9 539.15h.9v.9h-.9zM127.48 547.78h.9v.9h-.9zM131.64 511.45h.9v.9h-.9zM131.91 520.81h.9v.9h-.9zM125.52 541.07h.9v.9h-.9zM128.07 543.51h.9v.9h-.9zM114.87 501.04h.9v.9h-.9zM122.14 529.2h.9v.9h-.9zM116.78 489.3h.9v.9h-.9zM120.51 507.94h.9v.9h-.9zM126.19 547.98h.9v.9h-.9zM114.38 490.21h.9v.9h-.9zM124.67 537.18h.9v.9h-.9zM113.43 510.38h.9v.9h-.9zM123.27 531.3h.9v.9h-.9zM130.73 516.64h.9v.9h-.9zM117.97 503.27h.9v.9h-.9zM121.52 504.55h.9v.9h-.9zM118.62 502.66h.9v.9h-.9zM127.02 543.08h.9v.9h-.9zM122.92 532.67h.9v.9h-.9zM127.97 519.64h.9v.9h-.9zM116.51 488.63h.9v.9h-.9zM120.7 527.26h.9v.9h-.9zM133.74 497.76h.9v.9h-.9zM130.13 521.33h.9v.9h-.9zM126.16 546.89h.9v.9h-.9zM132.12 510.57h.9v.9h-.9zM131.81 508.8h.9v.9h-.9zM124.68 542.69h.9v.9h-.9zM125.68 547.06h.9v.9h-.9zM131.35 515.52h.9v.9h-.9zM131.25 522.48h.9v.9h-.9zM127.15 544.79h.9v.9h-.9zM121.55 519.86h.9v.9h-.9zM133.71 500.32h.9v.9h-.9zM124.11 538.88h.9v.9h-.9zM125.85 541.07h.9v.9h-.9zM79.24 480.32h.9v.9h-.9zM91.48 510.94h.9v.9h-.9zM104.89 485.18h.9v.9h-.9zM101.97 479.35h.9v.9h-.9zM110.13 524.06h.9v.9h-.9zM119.46 539.61h.9v.9h-.9zM152.68 488.58h.9v.9h-.9zM182.98 505.59h.9v.9h-.9zM194.64 476.43h.9v.9h-.9zM198.72 476.43h.9v.9h-.9zM209.79 476.43h.9v.9h-.9zM202.8 476.43h.9v.9h-.9zM189.39 476.43h.9v.9h-.9zM161.42 488.58h.9v.9h-.9zM142.77 510.45h.9v.9h-.9zM145.68 500.73h.9v.9h-.9zM148.6 493.44h.9v.9h-.9zM141.02 527.46h.9v.9h-.9z" fill="#111"/>
<line x1="126.9" y1="462.3" x2="126.9" y2="559.5" stroke="#666" stroke-width="0.8" stroke-dasharray="0.8 0.9"/>
<line x1="68.6" y1="496.3" x2="214.3" y2="496.3" stroke="#333" stroke-width="0.8" stroke-dasharray="0.8 0.9"/>
<line x1="68.6" y1="462.3" x2="68.6" y2="559.5" stroke="#404040" stroke-width="0.8" />
<line x1="68.6" y1="559.5" x2="214.3" y2="559.5" stroke="#404040" stroke-width="0.8" />
<line x1="65.6" y1="559.5" x2="68.6" y2="559.5" stroke="#404040" stroke-width="0.8" />
<text font-size="7" font-weight="bold" text-anchor="end" fill="#111" transform="translate(64.3 562) scale(1 1)"  stroke="#111" stroke-width="0.21">0.0</text>
<line x1="65.6" y1="535.2" x2="68.6" y2="535.2" stroke="#404040" stroke-width="0.8" />
<text font-size="7" font-weight="bold" text-anchor="end" fill="#111" transform="translate(64.3 537.7) scale(1 1)"  stroke="#111" stroke-width="0.21">0.5</text>
<line x1="65.6" y1="510.9" x2="68.6" y2="510.9" stroke="#404040" stroke-width="0.8" />
<text font-size="7" font-weight="bold" text-anchor="end" fill="#111" transform="translate(64.3 513.4) scale(1 1)"  stroke="#111" stroke-width="0.21">1.0</text>
<line x1="65.6" y1="486.6" x2="68.6" y2="486.6" stroke="#404040" stroke-width="0.8" />
<text font-size="7" font-weight="bold" text-anchor="end" fill="#111" transform="translate(64.3 489.1) scale(1 1)"  stroke="#111" stroke-width="0.21">1.5</text>
<line x1="65.6" y1="462.3" x2="68.6" y2="462.3" stroke="#404040" stroke-width="0.8" />
<text font-size="7" font-weight="bold" text-anchor="end" fill="#111" transform="translate(64.3 464.8) scale(1 1)"  stroke="#111" stroke-width="0.21">2.0</text>
<line x1="68.6" y1="559.5" x2="68.6" y2="562.1" stroke="#404040" stroke-width="0.8" />
<text font-size="7" font-weight="bold" text-anchor="middle" fill="#111" transform="translate(68.6 570.9) scale(1 1)"  stroke="#111" stroke-width="0.21">-0.010</text>
<line x1="97.74" y1="559.5" x2="97.74" y2="562.1" stroke="#404040" stroke-width="0.8" />
<text font-size="7" font-weight="bold" text-anchor="middle" fill="#111" transform="translate(97.74 570.9) scale(1 1)"  stroke="#111" stroke-width="0.21">-0.005</text>
<line x1="126.88" y1="559.5" x2="126.88" y2="562.1" stroke="#404040" stroke-width="0.8" />
<text font-size="7" font-weight="bold" text-anchor="middle" fill="#111" transform="translate(126.88 570.9) scale(1 1)"  stroke="#111" stroke-width="0.21">0.000</text>
<line x1="156.02" y1="559.5" x2="156.02" y2="562.1" stroke="#404040" stroke-width="0.8" />
<text font-size="7" font-weight="bold" text-anchor="middle" fill="#111" transform="translate(156.02 570.9) scale(1 1)"  stroke="#111" stroke-width="0.21">0.005</text>
<line x1="185.16" y1="559.5" x2="185.16" y2="562.1" stroke="#404040" stroke-width="0.8" />
<text font-size="7" font-weight="bold" text-anchor="middle" fill="#111" transform="translate(185.16 570.9) scale(1 1)"  stroke="#111" stroke-width="0.21">0.010</text>
<line x1="214.3" y1="559.5" x2="214.3" y2="562.1" stroke="#404040" stroke-width="0.8" />
<text font-size="7" font-weight="bold" text-anchor="middle" fill="#111" transform="translate(214.3 570.9) scale(1 1)"  stroke="#111" stroke-width="0.21">0.015</text>
<text font-size="7.7" font-weight="bold" text-anchor="middle" fill="#111" transform="translate(141.5 583) scale(1 1)"  stroke="#111" stroke-width="0.23">Difference</text>
<text font-size="7.6" font-weight="bold" text-anchor="middle" fill="#111" transform="translate(47.4 510.5) rotate(-90) scale(1 1.05)"  stroke="#111" stroke-width="0.23">-log(q value)</text>
<text font-size="12.3" font-weight="normal" text-anchor="start" fill="#111" transform="translate(261.7 442.8) scale(1 1)" >G.</text>
<line x1="297.4" y1="507.91" x2="301.7" y2="507.91" stroke="#222" stroke-width="0.8" />
<circle cx="300.7" cy="509.44" r="1.85" fill="#1273F2"/>
<circle cx="300.7" cy="508.99" r="1.85" fill="#1273F2"/>
<circle cx="300.7" cy="508.6" r="1.85" fill="#1273F2"/>
<circle cx="300.7" cy="508.13" r="1.85" fill="#1273F2"/>
<circle cx="300.7" cy="507.97" r="1.85" fill="#1273F2"/>
<circle cx="300.7" cy="507.91" r="1.85" fill="#1273F2"/>
<circle cx="300.7" cy="507.47" r="1.85" fill="#1273F2"/>
<circle cx="300.7" cy="507.19" r="1.85" fill="#1273F2"/>
<circle cx="300.7" cy="506.42" r="1.85" fill="#1273F2"/>
<circle cx="300.7" cy="506.34" r="1.85" fill="#1273F2"/>
<line x1="303.9" y1="504.32" x2="308.2" y2="504.32" stroke="#222" stroke-width="0.8" />
<circle cx="307.2" cy="506.75" r="1.85" fill="#F4525A"/>
<circle cx="307.2" cy="506.56" r="1.85" fill="#F4525A"/>
<circle cx="307.2" cy="505.93" r="1.85" fill="#F4525A"/>
<circle cx="307.2" cy="505.62" r="1.85" fill="#F4525A"/>
<circle cx="307.2" cy="504.85" r="1.85" fill="#F4525A"/>
<circle cx="307.2" cy="504.32" r="1.85" fill="#F4525A"/>
<circle cx="307.2" cy="504.31" r="1.85" fill="#F4525A"/>
<circle cx="307.2" cy="503.63" r="1.85" fill="#F4525A"/>
<circle cx="307.2" cy="503.07" r="1.85" fill="#F4525A"/>
<circle cx="307.2" cy="502" r="1.85" fill="#F4525A"/>
<line x1="303.8" y1="557.6" x2="303.8" y2="560.9" stroke="#666" stroke-width="0.8" />
<text font-size="5.6" font-weight="bold" text-anchor="end" fill="#111" transform="translate(305.2 566) rotate(-45) scale(1 1)"  stroke="#111" stroke-width="0.17">chr7_105</text>
<line x1="314.7" y1="553.89" x2="319" y2="553.89" stroke="#222" stroke-width="0.8" />
<circle cx="318" cy="554.08" r="1.85" fill="#1273F2"/>
<circle cx="318" cy="553.97" r="1.85" fill="#1273F2"/>
<circle cx="318" cy="553.96" r="1.85" fill="#1273F2"/>
<circle cx="318" cy="553.94" r="1.85" fill="#1273F2"/>
<circle cx="318" cy="553.9" r="1.85" fill="#1273F2"/>
<circle cx="318" cy="553.89" r="1.85" fill="#1273F2"/>
<circle cx="318" cy="553.54" r="1.85" fill="#1273F2"/>
<circle cx="318" cy="553.41" r="1.85" fill="#1273F2"/>
<circle cx="318" cy="553.38" r="1.85" fill="#1273F2"/>
<circle cx="318" cy="553.32" r="1.85" fill="#1273F2"/>
<line x1="321.2" y1="552.44" x2="325.5" y2="552.44" stroke="#222" stroke-width="0.8" />
<circle cx="324.5" cy="553.02" r="1.85" fill="#F4525A"/>
<circle cx="324.5" cy="552.95" r="1.85" fill="#F4525A"/>
<circle cx="324.5" cy="552.73" r="1.85" fill="#F4525A"/>
<circle cx="324.5" cy="552.61" r="1.85" fill="#F4525A"/>
<circle cx="324.5" cy="552.6" r="1.85" fill="#F4525A"/>
<circle cx="324.5" cy="552.44" r="1.85" fill="#F4525A"/>
<circle cx="324.5" cy="552.38" r="1.85" fill="#F4525A"/>
<circle cx="324.5" cy="552.36" r="1.85" fill="#F4525A"/>
<circle cx="324.5" cy="552.36" r="1.85" fill="#F4525A"/>
<circle cx="324.5" cy="552.34" r="1.85" fill="#F4525A"/>
<line x1="321.1" y1="557.6" x2="321.1" y2="560.9" stroke="#666" stroke-width="0.8" />
<text font-size="5.6" font-weight="bold" text-anchor="end" fill="#111" transform="translate(322.5 566) rotate(-45) scale(1 1)"  stroke="#111" stroke-width="0.17">chr9_44</text>
<line x1="332" y1="491.83" x2="336.3" y2="491.83" stroke="#222" stroke-width="0.8" />
<circle cx="335.3" cy="497.04" r="1.85" fill="#1273F2"/>
<circle cx="335.3" cy="496.38" r="1.85" fill="#1273F2"/>
<circle cx="335.3" cy="495.13" r="1.85" fill="#1273F2"/>
<circle cx="335.3" cy="494.12" r="1.85" fill="#1273F2"/>
<circle cx="335.3" cy="492.95" r="1.85" fill="#1273F2"/>
<circle cx="335.3" cy="491.83" r="1.85" fill="#1273F2"/>
<circle cx="335.3" cy="490.43" r="1.85" fill="#1273F2"/>
<circle cx="335.3" cy="488.98" r="1.85" fill="#1273F2"/>
<circle cx="335.3" cy="488.32" r="1.85" fill="#1273F2"/>
<circle cx="335.3" cy="486.54" r="1.85" fill="#1273F2"/>
<line x1="338.5" y1="498.85" x2="342.8" y2="498.85" stroke="#222" stroke-width="0.8" />
<circle cx="341.8" cy="503.54" r="1.85" fill="#F4525A"/>
<circle cx="341.8" cy="502.65" r="1.85" fill="#F4525A"/>
<circle cx="341.8" cy="501.29" r="1.85" fill="#F4525A"/>
<circle cx="341.8" cy="500.68" r="1.85" fill="#F4525A"/>
<circle cx="341.8" cy="499.91" r="1.85" fill="#F4525A"/>
<circle cx="341.8" cy="498.85" r="1.85" fill="#F4525A"/>
<circle cx="341.8" cy="497.75" r="1.85" fill="#F4525A"/>
<circle cx="341.8" cy="497.4" r="1.85" fill="#F4525A"/>
<circle cx="341.8" cy="495.68" r="1.85" fill="#F4525A"/>
<circle cx="341.8" cy="495.61" r="1.85" fill="#F4525A"/>
<line x1="338.4" y1="557.6" x2="338.4" y2="560.9" stroke="#666" stroke-width="0.8" />
<text font-size="5.6" font-weight="bold" text-anchor="end" fill="#111" transform="translate(339.8 566) rotate(-45) scale(1 1)"  stroke="#111" stroke-width="0.17">chr6_167</text>
<line x1="349.3" y1="511.25" x2="353.6" y2="511.25" stroke="#222" stroke-width="0.8" />
<circle cx="352.6" cy="513.87" r="1.85" fill="#1273F2"/>
<circle cx="352.6" cy="513.41" r="1.85" fill="#1273F2"/>
<circle cx="352.6" cy="513.23" r="1.85" fill="#1273F2"/>
<circle cx="352.6" cy="512.18" r="1.85" fill="#1273F2"/>
<circle cx="352.6" cy="511.99" r="1.85" fill="#1273F2"/>
<circle cx="352.6" cy="511.25" r="1.85" fill="#1273F2"/>
<circle cx="352.6" cy="511.2" r="1.85" fill="#1273F2"/>
<circle cx="352.6" cy="510.61" r="1.85" fill="#1273F2"/>
<circle cx="352.6" cy="509.94" r="1.85" fill="#1273F2"/>
<circle cx="352.6" cy="508.71" r="1.85" fill="#1273F2"/>
<line x1="355.8" y1="507.38" x2="360.1" y2="507.38" stroke="#222" stroke-width="0.8" />
<circle cx="359.1" cy="510.69" r="1.85" fill="#F4525A"/>
<circle cx="359.1" cy="509.57" r="1.85" fill="#F4525A"/>
<circle cx="359.1" cy="508.78" r="1.85" fill="#F4525A"/>
<circle cx="359.1" cy="508.13" r="1.85" fill="#F4525A"/>
<circle cx="359.1" cy="508.02" r="1.85" fill="#F4525A"/>
<circle cx="359.1" cy="507.38" r="1.85" fill="#F4525A"/>
<circle cx="359.1" cy="506.6" r="1.85" fill="#F4525A"/>
<circle cx="359.1" cy="505.74" r="1.85" fill="#F4525A"/>
<circle cx="359.1" cy="505.69" r="1.85" fill="#F4525A"/>
<circle cx="359.1" cy="504.5" r="1.85" fill="#F4525A"/>
<line x1="355.7" y1="557.6" x2="355.7" y2="560.9" stroke="#666" stroke-width="0.8" />
<text font-size="5.6" font-weight="bold" text-anchor="end" fill="#111" transform="translate(357.1 566) rotate(-45) scale(1 1)"  stroke="#111" stroke-width="0.17">chr12_64</text>
<line x1="366.6" y1="509.62" x2="370.9" y2="509.62" stroke="#222" stroke-width="0.8" />
<circle cx="369.9" cy="512.07" r="1.85" fill="#1273F2"/>
<circle cx="369.9" cy="511.6" r="1.85" fill="#1273F2"/>
<circle cx="369.9" cy="511.45" r="1.85" fill="#1273F2"/>
<circle cx="369.9" cy="510.41" r="1.85" fill="#1273F2"/>
<circle cx="369.9" cy="510.23" r="1.85" fill="#1273F2"/>
<circle cx="369.9" cy="509.62" r="1.85" fill="#1273F2"/>
<circle cx="369.9" cy="508.82" r="1.85" fill="#1273F2"/>
<circle cx="369.9" cy="507.98" r="1.85" fill="#1273F2"/>
<circle cx="369.9" cy="507.91" r="1.85" fill="#1273F2"/>
<circle cx="369.9" cy="506.83" r="1.85" fill="#1273F2"/>
<line x1="373.1" y1="506.75" x2="377.4" y2="506.75" stroke="#222" stroke-width="0.8" />
<circle cx="376.4" cy="510.39" r="1.85" fill="#F4525A"/>
<circle cx="376.4" cy="509.79" r="1.85" fill="#F4525A"/>
<circle cx="376.4" cy="508.99" r="1.85" fill="#F4525A"/>
<circle cx="376.4" cy="508.32" r="1.85" fill="#F4525A"/>
<circle cx="376.4" cy="507.61" r="1.85" fill="#F4525A"/>
<circle cx="376.4" cy="506.75" r="1.85" fill="#F4525A"/>
<circle cx="376.4" cy="505.48" r="1.85" fill="#F4525A"/>
<circle cx="376.4" cy="504.41" r="1.85" fill="#F4525A"/>
<circle cx="376.4" cy="504.34" r="1.85" fill="#F4525A"/>
<circle cx="376.4" cy="503.65" r="1.85" fill="#F4525A"/>
<line x1="373" y1="557.6" x2="373" y2="560.9" stroke="#666" stroke-width="0.8" />
<text font-size="5.6" font-weight="bold" text-anchor="end" fill="#111" transform="translate(374.4 566) rotate(-45) scale(1 1)"  stroke="#111" stroke-width="0.17">chr5_109</text>
<line x1="383.9" y1="524.76" x2="388.2" y2="524.76" stroke="#222" stroke-width="0.8" />
<circle cx="387.2" cy="527.14" r="1.85" fill="#1273F2"/>
<circle cx="387.2" cy="527.03" r="1.85" fill="#1273F2"/>
<circle cx="387.2" cy="526.64" r="1.85" fill="#1273F2"/>
<circle cx="387.2" cy="526.28" r="1.85" fill="#1273F2"/>
<circle cx="387.2" cy="525.47" r="1.85" fill="#1273F2"/>
<circle cx="387.2" cy="524.76" r="1.85" fill="#1273F2"/>
<circle cx="387.2" cy="524.58" r="1.85" fill="#1273F2"/>
<circle cx="387.2" cy="524.1" r="1.85" fill="#1273F2"/>
<circle cx="387.2" cy="523.92" r="1.85" fill="#1273F2"/>
<circle cx="387.2" cy="522.66" r="1.85" fill="#1273F2"/>
<line x1="390.4" y1="521.69" x2="394.7" y2="521.69" stroke="#222" stroke-width="0.8" />
<circle cx="393.7" cy="525.34" r="1.85" fill="#F4525A"/>
<circle cx="393.7" cy="524.37" r="1.85" fill="#F4525A"/>
<circle cx="393.7" cy="523.55" r="1.85" fill="#F4525A"/>
<circle cx="393.7" cy="523.49" r="1.85" fill="#F4525A"/>
<circle cx="393.7" cy="522.45" r="1.85" fill="#F4525A"/>
<circle cx="393.7" cy="521.69" r="1.85" fill="#F4525A"/>
<circle cx="393.7" cy="521.4" r="1.85" fill="#F4525A"/>
<circle cx="393.7" cy="520.72" r="1.85" fill="#F4525A"/>
<circle cx="393.7" cy="520.69" r="1.85" fill="#F4525A"/>
<circle cx="393.7" cy="519.86" r="1.85" fill="#F4525A"/>
<line x1="390.3" y1="557.6" x2="390.3" y2="560.9" stroke="#666" stroke-width="0.8" />
<text font-size="5.6" font-weight="bold" text-anchor="end" fill="#111" transform="translate(391.7 566) rotate(-45) scale(1 1)"  stroke="#111" stroke-width="0.17">chr5_72</text>
<line x1="401.2" y1="508.96" x2="405.5" y2="508.96" stroke="#222" stroke-width="0.8" />
<circle cx="404.5" cy="513.81" r="1.85" fill="#1273F2"/>
<circle cx="404.5" cy="512.35" r="1.85" fill="#1273F2"/>
<circle cx="404.5" cy="511.99" r="1.85" fill="#1273F2"/>
<circle cx="404.5" cy="511.01" r="1.85" fill="#1273F2"/>
<circle cx="404.5" cy="509.68" r="1.85" fill="#1273F2"/>
<circle cx="404.5" cy="508.96" r="1.85" fill="#1273F2"/>
<circle cx="404.5" cy="508.01" r="1.85" fill="#1273F2"/>
<circle cx="404.5" cy="507.62" r="1.85" fill="#1273F2"/>
<circle cx="404.5" cy="506.74" r="1.85" fill="#1273F2"/>
<circle cx="404.5" cy="505.68" r="1.85" fill="#1273F2"/>
<line x1="407.7" y1="505.62" x2="412" y2="505.62" stroke="#222" stroke-width="0.8" />
<circle cx="411" cy="509.57" r="1.85" fill="#F4525A"/>
<circle cx="411" cy="509.03" r="1.85" fill="#F4525A"/>
<circle cx="411" cy="508.23" r="1.85" fill="#F4525A"/>
<circle cx="411" cy="507.76" r="1.85" fill="#F4525A"/>
<circle cx="411" cy="506.86" r="1.85" fill="#F4525A"/>
<circle cx="411" cy="505.62" r="1.85" fill="#F4525A"/>
<circle cx="411" cy="504.94" r="1.85" fill="#F4525A"/>
<circle cx="411" cy="504.54" r="1.85" fill="#F4525A"/>
<circle cx="411" cy="503.95" r="1.85" fill="#F4525A"/>
<circle cx="411" cy="503.39" r="1.85" fill="#F4525A"/>
<line x1="407.6" y1="557.6" x2="407.6" y2="560.9" stroke="#666" stroke-width="0.8" />
<text font-size="5.6" font-weight="bold" text-anchor="end" fill="#111" transform="translate(409 566) rotate(-45) scale(1 1)"  stroke="#111" stroke-width="0.17">chr10_53</text>
<line x1="418.5" y1="508.92" x2="422.8" y2="508.92" stroke="#222" stroke-width="0.8" />
<circle cx="421.8" cy="512.55" r="1.85" fill="#1273F2"/>
<circle cx="421.8" cy="511.78" r="1.85" fill="#1273F2"/>
<circle cx="421.8" cy="510.73" r="1.85" fill="#1273F2"/>
<circle cx="421.8" cy="510.06" r="1.85" fill="#1273F2"/>
<circle cx="421.8" cy="509.9" r="1.85" fill="#1273F2"/>
<circle cx="421.8" cy="508.92" r="1.85" fill="#1273F2"/>
<circle cx="421.8" cy="508.33" r="1.85" fill="#1273F2"/>
<circle cx="421.8" cy="507.8" r="1.85" fill="#1273F2"/>
<circle cx="421.8" cy="507.22" r="1.85" fill="#1273F2"/>
<circle cx="421.8" cy="506.54" r="1.85" fill="#1273F2"/>
<line x1="425" y1="505.73" x2="429.3" y2="505.73" stroke="#222" stroke-width="0.8" />
<circle cx="428.3" cy="508.79" r="1.85" fill="#F4525A"/>
<circle cx="428.3" cy="507.94" r="1.85" fill="#F4525A"/>
<circle cx="428.3" cy="507.75" r="1.85" fill="#F4525A"/>
<circle cx="428.3" cy="507.02" r="1.85" fill="#F4525A"/>
<circle cx="428.3" cy="506.22" r="1.85" fill="#F4525A"/>
<circle cx="428.3" cy="505.73" r="1.85" fill="#F4525A"/>
<circle cx="428.3" cy="505.53" r="1.85" fill="#F4525A"/>
<circle cx="428.3" cy="504.4" r="1.85" fill="#F4525A"/>
<circle cx="428.3" cy="504.11" r="1.85" fill="#F4525A"/>
<circle cx="428.3" cy="503.62" r="1.85" fill="#F4525A"/>
<line x1="424.9" y1="557.6" x2="424.9" y2="560.9" stroke="#666" stroke-width="0.8" />
<text font-size="5.6" font-weight="bold" text-anchor="end" fill="#111" transform="translate(426.3 566) rotate(-45) scale(1 1)"  stroke="#111" stroke-width="0.17">chr6_71</text>
<line x1="435.8" y1="532.61" x2="440.1" y2="532.61" stroke="#222" stroke-width="0.8" />
<circle cx="439.1" cy="537.23" r="1.85" fill="#1273F2"/>
<circle cx="439.1" cy="535.97" r="1.85" fill="#1273F2"/>
<circle cx="439.1" cy="535.45" r="1.85" fill="#1273F2"/>
<circle cx="439.1" cy="534.3" r="1.85" fill="#1273F2"/>
<circle cx="439.1" cy="533.7" r="1.85" fill="#1273F2"/>
<circle cx="439.1" cy="532.61" r="1.85" fill="#1273F2"/>
<circle cx="439.1" cy="531.98" r="1.85" fill="#1273F2"/>
<circle cx="439.1" cy="531.07" r="1.85" fill="#1273F2"/>
<circle cx="439.1" cy="530.68" r="1.85" fill="#1273F2"/>
<circle cx="439.1" cy="529.64" r="1.85" fill="#1273F2"/>
<line x1="442.3" y1="535.48" x2="446.6" y2="535.48" stroke="#222" stroke-width="0.8" />
<circle cx="445.6" cy="538.93" r="1.85" fill="#F4525A"/>
<circle cx="445.6" cy="538.15" r="1.85" fill="#F4525A"/>
<circle cx="445.6" cy="537.87" r="1.85" fill="#F4525A"/>
<circle cx="445.6" cy="536.74" r="1.85" fill="#F4525A"/>
<circle cx="445.6" cy="536.02" r="1.85" fill="#F4525A"/>
<circle cx="445.6" cy="535.48" r="1.85" fill="#F4525A"/>
<circle cx="445.6" cy="534.52" r="1.85" fill="#F4525A"/>
<circle cx="445.6" cy="533.84" r="1.85" fill="#F4525A"/>
<circle cx="445.6" cy="533.53" r="1.85" fill="#F4525A"/>
<circle cx="445.6" cy="532.82" r="1.85" fill="#F4525A"/>
<line x1="442.2" y1="557.6" x2="442.2" y2="560.9" stroke="#666" stroke-width="0.8" />
<text font-size="5.6" font-weight="bold" text-anchor="end" fill="#111" transform="translate(443.6 566) rotate(-45) scale(1 1)"  stroke="#111" stroke-width="0.17">chr13_115</text>
<line x1="453.1" y1="483.47" x2="457.4" y2="483.47" stroke="#222" stroke-width="0.8" />
<circle cx="456.4" cy="494.17" r="1.85" fill="#1273F2"/>
<circle cx="456.4" cy="489.77" r="1.85" fill="#1273F2"/>
<circle cx="456.4" cy="486.55" r="1.85" fill="#1273F2"/>
<circle cx="456.4" cy="485.67" r="1.85" fill="#1273F2"/>
<circle cx="456.4" cy="484.35" r="1.85" fill="#1273F2"/>
<circle cx="456.4" cy="483.47" r="1.85" fill="#1273F2"/>
<circle cx="456.4" cy="481.71" r="1.85" fill="#1273F2"/>
<circle cx="456.4" cy="481.13" r="1.85" fill="#1273F2"/>
<circle cx="456.4" cy="480.1" r="1.85" fill="#1273F2"/>
<circle cx="456.4" cy="475.56" r="1.85" fill="#1273F2"/>
<line x1="459.6" y1="495.48" x2="463.9" y2="495.48" stroke="#222" stroke-width="0.8" />
<circle cx="462.9" cy="500.47" r="1.85" fill="#F4525A"/>
<circle cx="462.9" cy="499.73" r="1.85" fill="#F4525A"/>
<circle cx="462.9" cy="499" r="1.85" fill="#F4525A"/>
<circle cx="462.9" cy="497.83" r="1.85" fill="#F4525A"/>
<circle cx="462.9" cy="496.8" r="1.85" fill="#F4525A"/>
<circle cx="462.9" cy="495.48" r="1.85" fill="#F4525A"/>
<circle cx="462.9" cy="494.61" r="1.85" fill="#F4525A"/>
<circle cx="462.9" cy="493.43" r="1.85" fill="#F4525A"/>
<circle cx="462.9" cy="492.41" r="1.85" fill="#F4525A"/>
<circle cx="462.9" cy="487.72" r="1.85" fill="#F4525A"/>
<line x1="459.5" y1="557.6" x2="459.5" y2="560.9" stroke="#666" stroke-width="0.8" />
<text font-size="5.6" font-weight="bold" text-anchor="end" fill="#111" transform="translate(460.9 566) rotate(-45) scale(1 1)"  stroke="#111" stroke-width="0.17">chr21_46</text>
<line x1="470.4" y1="509.25" x2="474.7" y2="509.25" stroke="#222" stroke-width="0.8" />
<circle cx="473.7" cy="512.43" r="1.85" fill="#1273F2"/>
<circle cx="473.7" cy="511.39" r="1.85" fill="#1273F2"/>
<circle cx="473.7" cy="510.8" r="1.85" fill="#1273F2"/>
<circle cx="473.7" cy="510.68" r="1.85" fill="#1273F2"/>
<circle cx="473.7" cy="509.67" r="1.85" fill="#1273F2"/>
<circle cx="473.7" cy="509.25" r="1.85" fill="#1273F2"/>
<circle cx="473.7" cy="508.77" r="1.85" fill="#1273F2"/>
<circle cx="473.7" cy="508.06" r="1.85" fill="#1273F2"/>
<circle cx="473.7" cy="507.27" r="1.85" fill="#1273F2"/>
<circle cx="473.7" cy="506.75" r="1.85" fill="#1273F2"/>
<line x1="476.9" y1="505.55" x2="481.2" y2="505.55" stroke="#222" stroke-width="0.8" />
<circle cx="480.2" cy="510.7" r="1.85" fill="#F4525A"/>
<circle cx="480.2" cy="509.87" r="1.85" fill="#F4525A"/>
<circle cx="480.2" cy="508.54" r="1.85" fill="#F4525A"/>
<circle cx="480.2" cy="507.65" r="1.85" fill="#F4525A"/>
<circle cx="480.2" cy="506.49" r="1.85" fill="#F4525A"/>
<circle cx="480.2" cy="505.55" r="1.85" fill="#F4525A"/>
<circle cx="480.2" cy="504.9" r="1.85" fill="#F4525A"/>
<circle cx="480.2" cy="503.35" r="1.85" fill="#F4525A"/>
<circle cx="480.2" cy="503.18" r="1.85" fill="#F4525A"/>
<circle cx="480.2" cy="501.87" r="1.85" fill="#F4525A"/>
<line x1="476.8" y1="557.6" x2="476.8" y2="560.9" stroke="#666" stroke-width="0.8" />
<text font-size="5.6" font-weight="bold" text-anchor="end" fill="#111" transform="translate(478.2 566) rotate(-45) scale(1 1)"  stroke="#111" stroke-width="0.17">chr6_101</text>
<line x1="487.7" y1="507.42" x2="492" y2="507.42" stroke="#222" stroke-width="0.8" />
<circle cx="491" cy="510.62" r="1.85" fill="#1273F2"/>
<circle cx="491" cy="509.82" r="1.85" fill="#1273F2"/>
<circle cx="491" cy="509.4" r="1.85" fill="#1273F2"/>
<circle cx="491" cy="508.08" r="1.85" fill="#1273F2"/>
<circle cx="491" cy="507.8" r="1.85" fill="#1273F2"/>
<circle cx="491" cy="507.42" r="1.85" fill="#1273F2"/>
<circle cx="491" cy="506.23" r="1.85" fill="#1273F2"/>
<circle cx="491" cy="506" r="1.85" fill="#1273F2"/>
<circle cx="491" cy="504.92" r="1.85" fill="#1273F2"/>
<circle cx="491" cy="504.42" r="1.85" fill="#1273F2"/>
<line x1="494.2" y1="504.78" x2="498.5" y2="504.78" stroke="#222" stroke-width="0.8" />
<circle cx="497.5" cy="508.01" r="1.85" fill="#F4525A"/>
<circle cx="497.5" cy="507.05" r="1.85" fill="#F4525A"/>
<circle cx="497.5" cy="506.53" r="1.85" fill="#F4525A"/>
<circle cx="497.5" cy="506.25" r="1.85" fill="#F4525A"/>
<circle cx="497.5" cy="505.27" r="1.85" fill="#F4525A"/>
<circle cx="497.5" cy="504.78" r="1.85" fill="#F4525A"/>
<circle cx="497.5" cy="504.39" r="1.85" fill="#F4525A"/>
<circle cx="497.5" cy="503.95" r="1.85" fill="#F4525A"/>
<circle cx="497.5" cy="502.92" r="1.85" fill="#F4525A"/>
<circle cx="497.5" cy="502.31" r="1.85" fill="#F4525A"/>
<line x1="494.1" y1="557.6" x2="494.1" y2="560.9" stroke="#666" stroke-width="0.8" />
<text font-size="5.6" font-weight="bold" text-anchor="end" fill="#111" transform="translate(495.5 566) rotate(-45) scale(1 1)"  stroke="#111" stroke-width="0.17">chr14_67</text>
<line x1="505" y1="492.13" x2="509.3" y2="492.13" stroke="#222" stroke-width="0.8" />
<circle cx="508.3" cy="496.99" r="1.85" fill="#1273F2"/>
<circle cx="508.3" cy="495.84" r="1.85" fill="#1273F2"/>
<circle cx="508.3" cy="495.01" r="1.85" fill="#1273F2"/>
<circle cx="508.3" cy="494.1" r="1.85" fill="#1273F2"/>
<circle cx="508.3" cy="492.48" r="1.85" fill="#1273F2"/>
<circle cx="508.3" cy="492.13" r="1.85" fill="#1273F2"/>
<circle cx="508.3" cy="490.9" r="1.85" fill="#1273F2"/>
<circle cx="508.3" cy="489.35" r="1.85" fill="#1273F2"/>
<circle cx="508.3" cy="488.17" r="1.85" fill="#1273F2"/>
<circle cx="508.3" cy="487.45" r="1.85" fill="#1273F2"/>
<line x1="511.5" y1="496.29" x2="515.8" y2="496.29" stroke="#222" stroke-width="0.8" />
<circle cx="514.8" cy="502.26" r="1.85" fill="#F4525A"/>
<circle cx="514.8" cy="500.77" r="1.85" fill="#F4525A"/>
<circle cx="514.8" cy="499.97" r="1.85" fill="#F4525A"/>
<circle cx="514.8" cy="498.67" r="1.85" fill="#F4525A"/>
<circle cx="514.8" cy="497.6" r="1.85" fill="#F4525A"/>
<circle cx="514.8" cy="496.29" r="1.85" fill="#F4525A"/>
<circle cx="514.8" cy="494.43" r="1.85" fill="#F4525A"/>
<circle cx="514.8" cy="493.7" r="1.85" fill="#F4525A"/>
<circle cx="514.8" cy="491.94" r="1.85" fill="#F4525A"/>
<circle cx="514.8" cy="490.73" r="1.85" fill="#F4525A"/>
<line x1="511.4" y1="557.6" x2="511.4" y2="560.9" stroke="#666" stroke-width="0.8" />
<text font-size="5.6" font-weight="bold" text-anchor="end" fill="#111" transform="translate(512.8 566) rotate(-45) scale(1 1)"  stroke="#111" stroke-width="0.17">chr20_59</text>
<line x1="522.3" y1="507.43" x2="526.6" y2="507.43" stroke="#222" stroke-width="0.8" />
<circle cx="525.6" cy="510.93" r="1.85" fill="#1273F2"/>
<circle cx="525.6" cy="510.48" r="1.85" fill="#1273F2"/>
<circle cx="525.6" cy="509.09" r="1.85" fill="#1273F2"/>
<circle cx="525.6" cy="508.77" r="1.85" fill="#1273F2"/>
<circle cx="525.6" cy="508.09" r="1.85" fill="#1273F2"/>
<circle cx="525.6" cy="507.43" r="1.85" fill="#1273F2"/>
<circle cx="525.6" cy="506.09" r="1.85" fill="#1273F2"/>
<circle cx="525.6" cy="505.78" r="1.85" fill="#1273F2"/>
<circle cx="525.6" cy="505.21" r="1.85" fill="#1273F2"/>
<circle cx="525.6" cy="504.29" r="1.85" fill="#1273F2"/>
<line x1="528.8" y1="504.31" x2="533.1" y2="504.31" stroke="#222" stroke-width="0.8" />
<circle cx="532.1" cy="508.42" r="1.85" fill="#F4525A"/>
<circle cx="532.1" cy="507.28" r="1.85" fill="#F4525A"/>
<circle cx="532.1" cy="506.73" r="1.85" fill="#F4525A"/>
<circle cx="532.1" cy="506.17" r="1.85" fill="#F4525A"/>
<circle cx="532.1" cy="505.04" r="1.85" fill="#F4525A"/>
<circle cx="532.1" cy="504.31" r="1.85" fill="#F4525A"/>
<circle cx="532.1" cy="504.3" r="1.85" fill="#F4525A"/>
<circle cx="532.1" cy="503.15" r="1.85" fill="#F4525A"/>
<circle cx="532.1" cy="502.68" r="1.85" fill="#F4525A"/>
<circle cx="532.1" cy="501.4" r="1.85" fill="#F4525A"/>
<line x1="528.7" y1="557.6" x2="528.7" y2="560.9" stroke="#666" stroke-width="0.8" />
<text font-size="5.6" font-weight="bold" text-anchor="end" fill="#111" transform="translate(530.1 566) rotate(-45) scale(1 1)"  stroke="#111" stroke-width="0.17">chr8_132</text>
<line x1="539.6" y1="510.84" x2="543.9" y2="510.84" stroke="#222" stroke-width="0.8" />
<circle cx="542.9" cy="514.72" r="1.85" fill="#1273F2"/>
<circle cx="542.9" cy="514.33" r="1.85" fill="#1273F2"/>
<circle cx="542.9" cy="513.45" r="1.85" fill="#1273F2"/>
<circle cx="542.9" cy="512.68" r="1.85" fill="#1273F2"/>
<circle cx="542.9" cy="511.09" r="1.85" fill="#1273F2"/>
<circle cx="542.9" cy="510.84" r="1.85" fill="#1273F2"/>
<circle cx="542.9" cy="509.7" r="1.85" fill="#1273F2"/>
<circle cx="542.9" cy="508.95" r="1.85" fill="#1273F2"/>
<circle cx="542.9" cy="507.94" r="1.85" fill="#1273F2"/>
<circle cx="542.9" cy="507.11" r="1.85" fill="#1273F2"/>
<line x1="546.1" y1="506.58" x2="550.4" y2="506.58" stroke="#222" stroke-width="0.8" />
<circle cx="549.4" cy="510.21" r="1.85" fill="#F4525A"/>
<circle cx="549.4" cy="509.97" r="1.85" fill="#F4525A"/>
<circle cx="549.4" cy="508.6" r="1.85" fill="#F4525A"/>
<circle cx="549.4" cy="508.21" r="1.85" fill="#F4525A"/>
<circle cx="549.4" cy="507.21" r="1.85" fill="#F4525A"/>
<circle cx="549.4" cy="506.58" r="1.85" fill="#F4525A"/>
<circle cx="549.4" cy="505.82" r="1.85" fill="#F4525A"/>
<circle cx="549.4" cy="504.82" r="1.85" fill="#F4525A"/>
<circle cx="549.4" cy="504.08" r="1.85" fill="#F4525A"/>
<circle cx="549.4" cy="503.37" r="1.85" fill="#F4525A"/>
<line x1="546" y1="557.6" x2="546" y2="560.9" stroke="#666" stroke-width="0.8" />
<text font-size="5.6" font-weight="bold" text-anchor="end" fill="#111" transform="translate(547.4 566) rotate(-45) scale(1 1)"  stroke="#111" stroke-width="0.17">chr4_128</text>
<line x1="556.9" y1="507.23" x2="561.2" y2="507.23" stroke="#222" stroke-width="0.8" />
<circle cx="560.2" cy="511.53" r="1.85" fill="#1273F2"/>
<circle cx="560.2" cy="510.84" r="1.85" fill="#1273F2"/>
<circle cx="560.2" cy="510.49" r="1.85" fill="#1273F2"/>
<circle cx="560.2" cy="509.47" r="1.85" fill="#1273F2"/>
<circle cx="560.2" cy="508.46" r="1.85" fill="#1273F2"/>
<circle cx="560.2" cy="507.23" r="1.85" fill="#1273F2"/>
<circle cx="560.2" cy="506.42" r="1.85" fill="#1273F2"/>
<circle cx="560.2" cy="505.89" r="1.85" fill="#1273F2"/>
<circle cx="560.2" cy="505.53" r="1.85" fill="#1273F2"/>
<circle cx="560.2" cy="504.03" r="1.85" fill="#1273F2"/>
<line x1="563.4" y1="504.42" x2="567.7" y2="504.42" stroke="#222" stroke-width="0.8" />
<circle cx="566.7" cy="508.59" r="1.85" fill="#F4525A"/>
<circle cx="566.7" cy="507.71" r="1.85" fill="#F4525A"/>
<circle cx="566.7" cy="506.84" r="1.85" fill="#F4525A"/>
<circle cx="566.7" cy="506.16" r="1.85" fill="#F4525A"/>
<circle cx="566.7" cy="505.54" r="1.85" fill="#F4525A"/>
<circle cx="566.7" cy="504.42" r="1.85" fill="#F4525A"/>
<circle cx="566.7" cy="504.13" r="1.85" fill="#F4525A"/>
<circle cx="566.7" cy="503.38" r="1.85" fill="#F4525A"/>
<circle cx="566.7" cy="502.22" r="1.85" fill="#F4525A"/>
<circle cx="566.7" cy="502.05" r="1.85" fill="#F4525A"/>
<line x1="563.3" y1="557.6" x2="563.3" y2="560.9" stroke="#666" stroke-width="0.8" />
<text font-size="5.6" font-weight="bold" text-anchor="end" fill="#111" transform="translate(564.7 566) rotate(-45) scale(1 1)"  stroke="#111" stroke-width="0.17">chr6_85</text>
<line x1="574.2" y1="501.13" x2="578.5" y2="501.13" stroke="#222" stroke-width="0.8" />
<circle cx="577.5" cy="505.48" r="1.85" fill="#1273F2"/>
<circle cx="577.5" cy="504.16" r="1.85" fill="#1273F2"/>
<circle cx="577.5" cy="503.99" r="1.85" fill="#1273F2"/>
<circle cx="577.5" cy="502.46" r="1.85" fill="#1273F2"/>
<circle cx="577.5" cy="501.74" r="1.85" fill="#1273F2"/>
<circle cx="577.5" cy="501.13" r="1.85" fill="#1273F2"/>
<circle cx="577.5" cy="500.41" r="1.85" fill="#1273F2"/>
<circle cx="577.5" cy="499.13" r="1.85" fill="#1273F2"/>
<circle cx="577.5" cy="498.17" r="1.85" fill="#1273F2"/>
<circle cx="577.5" cy="498" r="1.85" fill="#1273F2"/>
<line x1="580.7" y1="505.97" x2="585" y2="505.97" stroke="#222" stroke-width="0.8" />
<circle cx="584" cy="511.03" r="1.85" fill="#F4525A"/>
<circle cx="584" cy="509.98" r="1.85" fill="#F4525A"/>
<circle cx="584" cy="509.03" r="1.85" fill="#F4525A"/>
<circle cx="584" cy="508.18" r="1.85" fill="#F4525A"/>
<circle cx="584" cy="507.35" r="1.85" fill="#F4525A"/>
<circle cx="584" cy="505.97" r="1.85" fill="#F4525A"/>
<circle cx="584" cy="504.78" r="1.85" fill="#F4525A"/>
<circle cx="584" cy="504.44" r="1.85" fill="#F4525A"/>
<circle cx="584" cy="503.31" r="1.85" fill="#F4525A"/>
<circle cx="584" cy="501.8" r="1.85" fill="#F4525A"/>
<line x1="580.6" y1="557.6" x2="580.6" y2="560.9" stroke="#666" stroke-width="0.8" />
<text font-size="5.6" font-weight="bold" text-anchor="end" fill="#111" transform="translate(582 566) rotate(-45) scale(1 1)"  stroke="#111" stroke-width="0.17">chr20_54</text>
<line x1="591.5" y1="509.7" x2="595.8" y2="509.7" stroke="#222" stroke-width="0.8" />
<circle cx="594.8" cy="514.27" r="1.85" fill="#1273F2"/>
<circle cx="594.8" cy="513.51" r="1.85" fill="#1273F2"/>
<circle cx="594.8" cy="513.19" r="1.85" fill="#1273F2"/>
<circle cx="594.8" cy="511.7" r="1.85" fill="#1273F2"/>
<circle cx="594.8" cy="510.59" r="1.85" fill="#1273F2"/>
<circle cx="594.8" cy="509.7" r="1.85" fill="#1273F2"/>
<circle cx="594.8" cy="509.08" r="1.85" fill="#1273F2"/>
<circle cx="594.8" cy="508.77" r="1.85" fill="#1273F2"/>
<circle cx="594.8" cy="507.2" r="1.85" fill="#1273F2"/>
<circle cx="594.8" cy="506.86" r="1.85" fill="#1273F2"/>
<line x1="598" y1="505.79" x2="602.3" y2="505.79" stroke="#222" stroke-width="0.8" />
<circle cx="601.3" cy="510.59" r="1.85" fill="#F4525A"/>
<circle cx="601.3" cy="509.41" r="1.85" fill="#F4525A"/>
<circle cx="601.3" cy="508.71" r="1.85" fill="#F4525A"/>
<circle cx="601.3" cy="508.31" r="1.85" fill="#F4525A"/>
<circle cx="601.3" cy="507.26" r="1.85" fill="#F4525A"/>
<circle cx="601.3" cy="505.79" r="1.85" fill="#F4525A"/>
<circle cx="601.3" cy="505.56" r="1.85" fill="#F4525A"/>
<circle cx="601.3" cy="504.24" r="1.85" fill="#F4525A"/>
<circle cx="601.3" cy="503.5" r="1.85" fill="#F4525A"/>
<circle cx="601.3" cy="502.81" r="1.85" fill="#F4525A"/>
<line x1="597.9" y1="557.6" x2="597.9" y2="560.9" stroke="#666" stroke-width="0.8" />
<text font-size="5.6" font-weight="bold" text-anchor="end" fill="#111" transform="translate(599.3 566) rotate(-45) scale(1 1)"  stroke="#111" stroke-width="0.17">chr12_80</text>
<line x1="608.8" y1="495.68" x2="613.1" y2="495.68" stroke="#222" stroke-width="0.8" />
<circle cx="612.1" cy="501.53" r="1.85" fill="#1273F2"/>
<circle cx="612.1" cy="500.77" r="1.85" fill="#1273F2"/>
<circle cx="612.1" cy="499.44" r="1.85" fill="#1273F2"/>
<circle cx="612.1" cy="497.93" r="1.85" fill="#1273F2"/>
<circle cx="612.1" cy="496.93" r="1.85" fill="#1273F2"/>
<circle cx="612.1" cy="495.68" r="1.85" fill="#1273F2"/>
<circle cx="612.1" cy="493.95" r="1.85" fill="#1273F2"/>
<circle cx="612.1" cy="492.54" r="1.85" fill="#1273F2"/>
<circle cx="612.1" cy="491.15" r="1.85" fill="#1273F2"/>
<circle cx="612.1" cy="490.53" r="1.85" fill="#1273F2"/>
<line x1="615.3" y1="501.05" x2="619.6" y2="501.05" stroke="#222" stroke-width="0.8" />
<circle cx="618.6" cy="505.07" r="1.85" fill="#F4525A"/>
<circle cx="618.6" cy="504.36" r="1.85" fill="#F4525A"/>
<circle cx="618.6" cy="503.29" r="1.85" fill="#F4525A"/>
<circle cx="618.6" cy="502.57" r="1.85" fill="#F4525A"/>
<circle cx="618.6" cy="501.37" r="1.85" fill="#F4525A"/>
<circle cx="618.6" cy="501.05" r="1.85" fill="#F4525A"/>
<circle cx="618.6" cy="500.51" r="1.85" fill="#F4525A"/>
<circle cx="618.6" cy="499.14" r="1.85" fill="#F4525A"/>
<circle cx="618.6" cy="498.8" r="1.85" fill="#F4525A"/>
<circle cx="618.6" cy="497.57" r="1.85" fill="#F4525A"/>
<line x1="615.2" y1="557.6" x2="615.2" y2="560.9" stroke="#666" stroke-width="0.8" />
<text font-size="5.6" font-weight="bold" text-anchor="end" fill="#111" transform="translate(616.6 566) rotate(-45) scale(1 1)"  stroke="#111" stroke-width="0.17">chr18_77</text>
<line x1="626.1" y1="537.96" x2="630.4" y2="537.96" stroke="#222" stroke-width="0.8" />
<circle cx="629.4" cy="540.6" r="1.85" fill="#1273F2"/>
<circle cx="629.4" cy="539.72" r="1.85" fill="#1273F2"/>
<circle cx="629.4" cy="539.52" r="1.85" fill="#1273F2"/>
<circle cx="629.4" cy="538.94" r="1.85" fill="#1273F2"/>
<circle cx="629.4" cy="538.73" r="1.85" fill="#1273F2"/>
<circle cx="629.4" cy="537.96" r="1.85" fill="#1273F2"/>
<circle cx="629.4" cy="537.7" r="1.85" fill="#1273F2"/>
<circle cx="629.4" cy="536.74" r="1.85" fill="#1273F2"/>
<circle cx="629.4" cy="536.42" r="1.85" fill="#1273F2"/>
<circle cx="629.4" cy="536.24" r="1.85" fill="#1273F2"/>
<line x1="632.6" y1="536.48" x2="636.9" y2="536.48" stroke="#222" stroke-width="0.8" />
<circle cx="635.9" cy="538.79" r="1.85" fill="#F4525A"/>
<circle cx="635.9" cy="538.26" r="1.85" fill="#F4525A"/>
<circle cx="635.9" cy="537.62" r="1.85" fill="#F4525A"/>
<circle cx="635.9" cy="537.53" r="1.85" fill="#F4525A"/>
<circle cx="635.9" cy="536.74" r="1.85" fill="#F4525A"/>
<circle cx="635.9" cy="536.48" r="1.85" fill="#F4525A"/>
<circle cx="635.9" cy="536.38" r="1.85" fill="#F4525A"/>
<circle cx="635.9" cy="535.66" r="1.85" fill="#F4525A"/>
<circle cx="635.9" cy="535.56" r="1.85" fill="#F4525A"/>
<circle cx="635.9" cy="535.22" r="1.85" fill="#F4525A"/>
<line x1="632.5" y1="557.6" x2="632.5" y2="560.9" stroke="#666" stroke-width="0.8" />
<text font-size="5.6" font-weight="bold" text-anchor="end" fill="#111" transform="translate(633.9 566) rotate(-45) scale(1 1)"  stroke="#111" stroke-width="0.17">chr2_95</text>
<line x1="296.6" y1="469.9" x2="296.6" y2="557.6" stroke="#404040" stroke-width="0.8" />
<line x1="296.6" y1="557.6" x2="640.1" y2="557.6" stroke="#404040" stroke-width="0.8" />
<line x1="293.6" y1="557.6" x2="296.6" y2="557.6" stroke="#404040" stroke-width="0.8" />
<text font-size="7.4" font-weight="bold" text-anchor="end" fill="#111" transform="translate(293 560.2) scale(1 1)"  stroke="#111" stroke-width="0.22">0.00</text>
<line x1="293.6" y1="528.3" x2="296.6" y2="528.3" stroke="#404040" stroke-width="0.8" />
<text font-size="7.4" font-weight="bold" text-anchor="end" fill="#111" transform="translate(293 530.9) scale(1 1)"  stroke="#111" stroke-width="0.22">0.02</text>
<line x1="293.6" y1="499" x2="296.6" y2="499" stroke="#404040" stroke-width="0.8" />
<text font-size="7.4" font-weight="bold" text-anchor="end" fill="#111" transform="translate(293 501.6) scale(1 1)"  stroke="#111" stroke-width="0.22">0.04</text>
<line x1="293.6" y1="469.7" x2="296.6" y2="469.7" stroke="#404040" stroke-width="0.8" />
<text font-size="7.4" font-weight="bold" text-anchor="end" fill="#111" transform="translate(293 472.3) scale(1 1)"  stroke="#111" stroke-width="0.22">0.06</text>
<text font-size="7.3" font-weight="bold" text-anchor="middle" fill="#111" transform="translate(275 513.8) rotate(-90) scale(1 1)"  stroke="#111" stroke-width="0.22">% Reads/Bin</text>
<circle cx="587.5" cy="441.1" r="1.5" fill="#1273F2"/>
<circle cx="587.5" cy="451.3" r="1.5" fill="#F4525A"/>
<text font-size="7.4" font-weight="normal" text-anchor="start" fill="#222" transform="translate(597.7 443.8) scale(1 1)" >Non-Cancer</text>
<text font-size="7.4" font-weight="normal" text-anchor="start" fill="#222" transform="translate(597.7 454) scale(1 1)" >Cancer</text>
<text font-size="12.3" font-weight="normal" text-anchor="start" fill="#111" transform="translate(65 626.7) scale(1 1)" >H.</text>
<line x1="118.9" y1="635" x2="118.9" y2="735.2" stroke="#404040" stroke-width="0.8" />
<line x1="118.9" y1="735.2" x2="185.7" y2="735.2" stroke="#404040" stroke-width="0.8" />
<line x1="115.9" y1="735.2" x2="118.9" y2="735.2" stroke="#404040" stroke-width="0.8" />
<text font-size="7.3" font-weight="bold" text-anchor="end" fill="#111" transform="translate(115 737.8) scale(1 1)"  stroke="#111" stroke-width="0.22">0.00</text>
<line x1="115.9" y1="701.8" x2="118.9" y2="701.8" stroke="#404040" stroke-width="0.8" />
<text font-size="7.3" font-weight="bold" text-anchor="end" fill="#111" transform="translate(115 704.4) scale(1 1)"  stroke="#111" stroke-width="0.22">0.02</text>
<line x1="115.9" y1="668.4" x2="118.9" y2="668.4" stroke="#404040" stroke-width="0.8" />
<text font-size="7.3" font-weight="bold" text-anchor="end" fill="#111" transform="translate(115 671) scale(1 1)"  stroke="#111" stroke-width="0.22">0.04</text>
<line x1="115.9" y1="635" x2="118.9" y2="635" stroke="#404040" stroke-width="0.8" />
<text font-size="7.3" font-weight="bold" text-anchor="end" fill="#111" transform="translate(115 637.6) scale(1 1)"  stroke="#111" stroke-width="0.22">0.06</text>
<line x1="138.6" y1="735.2" x2="138.6" y2="738" stroke="#404040" stroke-width="0.8" />
<line x1="167.4" y1="735.2" x2="167.4" y2="738" stroke="#404040" stroke-width="0.8" />
<path d="M138.6,640.8 V625.5 H167.4 V635.8" fill="none" stroke="#404040" stroke-width="0.8"/>
<path d="M153.1,615.7 L153.1,621.3 M150.68,617.1 L155.52,619.9 M150.68,619.9 L155.52,617.1 " stroke="#111" stroke-width="1.4" stroke-linecap="round"/>
<line x1="129.1" y1="717.9" x2="147.4" y2="717.9" stroke="#3a3a3a" stroke-width="1.2" />
<line x1="158.2" y1="688.4" x2="176.9" y2="688.4" stroke="#3a3a3a" stroke-width="1.2" />
<circle cx="138.6" cy="658.8" r="1.65" fill="#1273F2"/>
<circle cx="135.7" cy="706.2" r="1.65" fill="#1273F2"/>
<circle cx="141.2" cy="704.7" r="1.65" fill="#1273F2"/>
<circle cx="135.7" cy="715.4" r="1.65" fill="#1273F2"/>
<circle cx="141" cy="717.2" r="1.65" fill="#1273F2"/>
<circle cx="146.4" cy="718.6" r="1.65" fill="#1273F2"/>
<circle cx="135.7" cy="718.8" r="1.65" fill="#1273F2"/>
<circle cx="138.4" cy="722.2" r="1.65" fill="#1273F2"/>
<circle cx="143.8" cy="724.2" r="1.65" fill="#1273F2"/>
<circle cx="133.2" cy="724.6" r="1.65" fill="#1273F2"/>
<circle cx="166.9" cy="645.3" r="1.65" fill="#F4525A"/>
<circle cx="164.4" cy="669.1" r="1.65" fill="#F4525A"/>
<circle cx="170.2" cy="671.2" r="1.65" fill="#F4525A"/>
<circle cx="166.9" cy="681.5" r="1.65" fill="#F4525A"/>
<circle cx="166.9" cy="685.7" r="1.65" fill="#F4525A"/>
<circle cx="166.9" cy="691.9" r="1.65" fill="#F4525A"/>
<circle cx="166.9" cy="699" r="1.65" fill="#F4525A"/>
<circle cx="166.9" cy="705.2" r="1.65" fill="#F4525A"/>
<circle cx="164.4" cy="710.2" r="1.65" fill="#F4525A"/>
<circle cx="170.2" cy="710.2" r="1.65" fill="#F4525A"/>
<text font-size="7.7" font-weight="bold" text-anchor="end" fill="#111" transform="translate(140 745.2) rotate(-45) scale(1 1)"  stroke="#111" stroke-width="0.23">Non-Cancer</text>
<text font-size="7.7" font-weight="bold" text-anchor="end" fill="#111" transform="translate(168.8 745.2) rotate(-45) scale(1 1)"  stroke="#111" stroke-width="0.23">Cancer</text>
<text font-size="7.9" font-weight="bold" text-anchor="middle" fill="#111" transform="translate(94.2 684.9) rotate(-90) scale(1 1)"  stroke="#111" stroke-width="0.24">Read counts ChrM/Total</text>
<text font-size="12.3" font-weight="normal" text-anchor="start" fill="#111" transform="translate(357.6 626.7) scale(1 1)" >I.</text>
<line x1="399.2" y1="637.8" x2="399.2" y2="735.5" stroke="#404040" stroke-width="0.8" />
<line x1="399.2" y1="735.5" x2="496.8" y2="735.5" stroke="#404040" stroke-width="0.8" />
<line x1="395.9" y1="735.5" x2="399.2" y2="735.5" stroke="#404040" stroke-width="0.8" />
<text font-size="7" font-weight="bold" text-anchor="end" fill="#111" transform="translate(395.2 738) scale(1 1)"  stroke="#111" stroke-width="0.21">0</text>
<line x1="399.2" y1="735.5" x2="399.2" y2="738" stroke="#404040" stroke-width="0.8" />
<text font-size="7" font-weight="bold" text-anchor="middle" fill="#111" transform="translate(399.2 745.7) scale(1 1)"  stroke="#111" stroke-width="0.21">0</text>
<line x1="395.9" y1="715.96" x2="399.2" y2="715.96" stroke="#404040" stroke-width="0.8" />
<text font-size="7" font-weight="bold" text-anchor="end" fill="#111" transform="translate(395.2 718.46) scale(1 1)"  stroke="#111" stroke-width="0.21">20</text>
<line x1="418.72" y1="735.5" x2="418.72" y2="738" stroke="#404040" stroke-width="0.8" />
<text font-size="7" font-weight="bold" text-anchor="middle" fill="#111" transform="translate(418.72 745.7) scale(1 1)"  stroke="#111" stroke-width="0.21">20</text>
<line x1="395.9" y1="696.42" x2="399.2" y2="696.42" stroke="#404040" stroke-width="0.8" />
<text font-size="7" font-weight="bold" text-anchor="end" fill="#111" transform="translate(395.2 698.92) scale(1 1)"  stroke="#111" stroke-width="0.21">40</text>
<line x1="438.24" y1="735.5" x2="438.24" y2="738" stroke="#404040" stroke-width="0.8" />
<text font-size="7" font-weight="bold" text-anchor="middle" fill="#111" transform="translate(438.24 745.7) scale(1 1)"  stroke="#111" stroke-width="0.21">40</text>
<line x1="395.9" y1="676.88" x2="399.2" y2="676.88" stroke="#404040" stroke-width="0.8" />
<text font-size="7" font-weight="bold" text-anchor="end" fill="#111" transform="translate(395.2 679.38) scale(1 1)"  stroke="#111" stroke-width="0.21">60</text>
<line x1="457.76" y1="735.5" x2="457.76" y2="738" stroke="#404040" stroke-width="0.8" />
<text font-size="7" font-weight="bold" text-anchor="middle" fill="#111" transform="translate(457.76 745.7) scale(1 1)"  stroke="#111" stroke-width="0.21">60</text>
<line x1="395.9" y1="657.34" x2="399.2" y2="657.34" stroke="#404040" stroke-width="0.8" />
<text font-size="7" font-weight="bold" text-anchor="end" fill="#111" transform="translate(395.2 659.84) scale(1 1)"  stroke="#111" stroke-width="0.21">80</text>
<line x1="477.28" y1="735.5" x2="477.28" y2="738" stroke="#404040" stroke-width="0.8" />
<text font-size="7" font-weight="bold" text-anchor="middle" fill="#111" transform="translate(477.28 745.7) scale(1 1)"  stroke="#111" stroke-width="0.21">80</text>
<line x1="395.9" y1="637.8" x2="399.2" y2="637.8" stroke="#404040" stroke-width="0.8" />
<text font-size="7" font-weight="bold" text-anchor="end" fill="#111" transform="translate(395.2 640.3) scale(1 1)"  stroke="#111" stroke-width="0.21">100</text>
<line x1="496.8" y1="735.5" x2="496.8" y2="738" stroke="#404040" stroke-width="0.8" />
<text font-size="7" font-weight="bold" text-anchor="middle" fill="#111" transform="translate(496.8 745.7) scale(1 1)"  stroke="#111" stroke-width="0.21">100</text>
<line x1="399.2" y1="735.5" x2="496.8" y2="637.8" stroke="#F49C94" stroke-width="1.1" />
<polyline points="399.2,735.5 399.2,725.73 408.96,725.73 408.96,667.11 418.72,667.11 418.72,657.34 428.48,657.34 428.48,637.8 496.8,637.8" fill="none" stroke="#484848" stroke-width="1.1"/>
<circle cx="399.2" cy="735.5" r="1.85" fill="#4a4a4a"/>
<circle cx="399.2" cy="725.73" r="1.85" fill="#4a4a4a"/>
<circle cx="408.96" cy="725.73" r="1.85" fill="#4a4a4a"/>
<circle cx="408.96" cy="715.96" r="1.85" fill="#4a4a4a"/>
<circle cx="408.96" cy="706.19" r="1.85" fill="#4a4a4a"/>
<circle cx="408.96" cy="696.42" r="1.85" fill="#4a4a4a"/>
<circle cx="408.96" cy="686.65" r="1.85" fill="#4a4a4a"/>
<circle cx="408.96" cy="676.88" r="1.85" fill="#4a4a4a"/>
<circle cx="408.96" cy="667.11" r="1.85" fill="#4a4a4a"/>
<circle cx="418.72" cy="667.11" r="1.85" fill="#4a4a4a"/>
<circle cx="418.72" cy="657.34" r="1.85" fill="#4a4a4a"/>
<circle cx="428.48" cy="657.34" r="1.85" fill="#4a4a4a"/>
<circle cx="428.48" cy="637.8" r="1.85" fill="#4a4a4a"/>
<circle cx="438.24" cy="637.8" r="1.85" fill="#4a4a4a"/>
<circle cx="448" cy="637.8" r="1.85" fill="#4a4a4a"/>
<circle cx="467.52" cy="637.8" r="1.85" fill="#4a4a4a"/>
<circle cx="477.28" cy="637.8" r="1.85" fill="#4a4a4a"/>
<circle cx="487.04" cy="637.8" r="1.85" fill="#4a4a4a"/>
<circle cx="496.8" cy="637.8" r="1.85" fill="#4a4a4a"/>
<text font-size="7.7" font-weight="bold" text-anchor="middle" fill="#111" transform="translate(448.3 759.3) scale(1 1)"  stroke="#111" stroke-width="0.23">100% - Specificity%</text>
<text font-size="7.7" font-weight="bold" text-anchor="middle" fill="#111" transform="translate(376.5 686.4) rotate(-90) scale(1 1.08)"  stroke="#111" stroke-width="0.23">Sensitivity%</text>
<text font-size="7.9" font-weight="normal" text-anchor="end" fill="#222" font-style="italic" transform="translate(500.8 726.9) scale(1 1)" stroke="#222" stroke-width="0.12">AUROC=0.86</text>
</svg></body></html>
